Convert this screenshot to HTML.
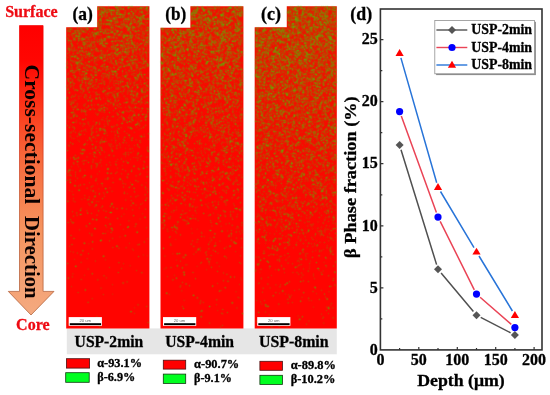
<!DOCTYPE html>
<html lang="en"><head><meta charset="utf-8"><title>Figure</title>
<style>html,body{margin:0;padding:0;background:#fff;overflow:hidden}svg{display:block}text.b{stroke:#000;stroke-width:.3px}text.r{stroke:#ee0a12;stroke-width:.3px}</style></head><body>
<svg width="550" height="395" viewBox="0 0 550 395">
<defs>
<linearGradient id="ag" x1="0" y1="0" x2="0" y2="1">
<stop offset="0" stop-color="#ff0000"/><stop offset="0.12" stop-color="#ff0602"/><stop offset="0.3" stop-color="#fc3c1c"/><stop offset="0.45" stop-color="#f7673a"/><stop offset="0.7" stop-color="#f5935e"/><stop offset="1" stop-color="#f4aa80"/>
</linearGradient>
<linearGradient id="as" x1="0" y1="0" x2="0" y2="1"><stop offset="0" stop-color="#f00000"/><stop offset="0.3" stop-color="#e01808"/><stop offset="0.6" stop-color="#c05028"/><stop offset="1" stop-color="#a85830"/></linearGradient>
<linearGradient id="h0" gradientUnits="userSpaceOnUse" x1="0" y1="6" x2="0" y2="150"><stop offset="0" stop-color="#6e8200" stop-opacity="0.07"/><stop offset="1" stop-color="#6e8200" stop-opacity="0"/></linearGradient>
<linearGradient id="h1" gradientUnits="userSpaceOnUse" x1="0" y1="6" x2="0" y2="190"><stop offset="0" stop-color="#6e8200" stop-opacity="0.09"/><stop offset="1" stop-color="#6e8200" stop-opacity="0"/></linearGradient>
<linearGradient id="h2" gradientUnits="userSpaceOnUse" x1="0" y1="6" x2="0" y2="250"><stop offset="0" stop-color="#6e8200" stop-opacity="0.13"/><stop offset="1" stop-color="#6e8200" stop-opacity="0"/></linearGradient>
<filter id="sb" filterUnits="userSpaceOnUse" x="60" y="0" width="285" height="335" color-interpolation-filters="sRGB"><feConvolveMatrix order="3" kernelMatrix="1 4 1 4 14 4 1 4 1" divisor="34" edgeMode="none" preserveAlpha="false"/></filter>
</defs>
<rect width="550" height="395" fill="#ffffff"/>
<path d="M19.5 25.6H43.1V291.4H54L31 315L8.3 291.4H19.5Z" fill="url(#ag)" stroke="url(#as)" stroke-width="0.7"/>
<text class="r" x="5.2" y="16.8" font-size="16.0" fill="#ee0a12" font-family="'Liberation Serif', 'DejaVu Serif', serif" font-weight="bold">Surface</text>
<text class="r" x="16.1" y="330.0" font-size="16.0" fill="#ee0a12" font-family="'Liberation Serif', 'DejaVu Serif', serif" font-weight="bold">Core</text>
<text transform="translate(25.1 64.6) rotate(90)" font-size="22" fill="#0a0000" textLength="139.6" lengthAdjust="spacingAndGlyphs" font-family="'Liberation Serif', 'DejaVu Serif', serif" font-weight="bold">Cross-sectional</text>
<text transform="translate(25.1 216) rotate(90)" font-size="22" fill="#0a0000" textLength="82.6" lengthAdjust="spacingAndGlyphs" font-family="'Liberation Serif', 'DejaVu Serif', serif" font-weight="bold">Direction</text>
<rect x="66.8" y="328.4" width="270" height="25.9" fill="#e6e6e6"/>
<path d="M97.2 6.3H149.4V328.4H66.2V27.2H97.2Z" fill="#ff0400"/>
<path d="M97.2 6.3H149.4V328.4H66.2V27.2H97.2Z" fill="url(#h0)"/>
<g filter="url(#sb)" stroke="#3ed000" fill="none"><path d="M136.4 7.4h1M108 7.2h.8M132.4 7.1h.6M131.2 6.7h1M115.4 7h.5M120 7.2h.8M117.6 7.4h.6M115.7 7.4h.6M102.6 7.4h.7M120.9 7.1h.5M99.8 7.2h.7M124.6 6.9h.5M108.6 6.6h.6M129 7h1M98.2 7.6h.7M105.1 7.6h.5M100.8 7.2h.8M130.3 6.9h.6M128.5 6.7h.8M124.5 6.6h.6M131.7 6.8h.8M100.9 8h.6M100.9 7.8h.8M137.3 8.6h.7M118.9 7.7h1M103.5 8.6h1M134.6 7.7h.8M133.6 7.8h.6M115.9 8h.8M101 8.5h.7M116.6 7.9h1M127.9 7.7h.6M103 7.7h.8M120.3 9.3h.7M143.8 9.2h1M105.5 9h.5M145.4 8.6h.7M106.1 9.3h.5M111.2 9.3h.8M131.5 9.5h.6M138 9h.5M137.4 9.2h.5M120.5 9h1M116.5 8.7h.5M148.1 9.5h.5M98.3 9.3h.7M103.9 9.1h1M130.3 9.3h.8M107.3 8.8h.8M121 8.8h.8M138.7 10h.6M141.6 9.8h1M107.2 10.4h.6M124.9 10.6h.5M133.8 9.7h.7M97.8 10.1h.8M125.2 10.4h.7M103.4 9.7h1M113.2 9.9h.7M147.3 9.7h.5M118.2 10.3h.5M145 10.3h.7M134.1 9.9h.6M128.5 10.1h.5M110.7 10.5h.7M116.6 10.4h1M135.9 10.3h.8M104.5 11.3h.7M146.7 11.1h.5M106.4 10.6h.7M101.7 10.6h.5M105.1 11.6h.6M135 11.3h1M113.9 11.3h.8M102.5 11.2h.6M118.6 11.1h1M109.3 11.2h1M100.2 10.7h.6M116.2 10.6h.5M108.9 11h.5M141.8 11.4h.8M109.4 11.7h.8M117 12.5h.8M124.1 12.6h.6M107.2 12.1h1M125.3 12.3h.7M116.7 12.1h1M118.6 12.1h1M116.4 12.5h1M141.5 12.2h.6M140.4 11.9h.7M139.4 11.8h.7M139.3 11.7h.6M110.9 12.3h.8M99.5 12.3h.6M141.1 12.6h.7M124.4 12.2h.5M107.7 12.3h.7M132.3 12.1h.6M105.8 12.8h1M142.4 12.7h.7M129.3 12.9h.5M101.4 13h.8M115.8 12.6h.6M135.8 12.8h.5M116.1 12.7h.6M113.1 12.8h.8M146.7 13.4h1M133.3 13h.6M138.6 13.3h.7M129.1 13h.8M148.1 13.2h1M129 13.6h.5M119.6 13.6h.6M110.6 14h1M112.8 14.6h1M132.7 13.7h.8M121 14.6h1M142.6 13.8h.8M145.9 14.5h.8M116.4 13.7h1M100.9 14.1h.8M120.1 14.2h.8M120.8 14.3h.7M118.5 14h.5M125.3 13.9h.8M116 13.7h.6M100.5 13.7h1M102.8 14.3h.7M115.7 14.2h.8M130.2 15.1h.7M144.6 15.3h.6M106 15.1h.6M130.7 15.2h.7M123.5 14.8h1M128.2 14.8h.7M107.7 15.3h.6M138.6 14.6h.6M117.7 14.7h.5M111.7 15.2h.6M106.1 15h.7M132.4 15h.5M134.9 15.4h1M101.2 14.9h.8M101.6 15h.6M104.4 14.9h.5M133.2 15.1h.8M123.6 16.1h.5M120.3 15.9h.7M141.5 16.5h1M102.4 16.4h.7M104 15.8h.7M98.1 15.8h1M135.1 16.2h.6M133 15.8h.7M111.2 16.2h.5M120 16.4h.5M114.3 15.9h.5M140.3 15.7h.5M107 16.1h.6M124.6 16.5h.5M136.4 17.4h.7M139.5 17.6h.5M109.5 17.3h.5M101.1 17h.5M122.5 16.9h.8M101.3 16.9h.8M105.2 17.3h.5M119.6 17.4h.7M141.3 17.4h.6M114.5 17.5h.5M115.2 16.8h.8M139.9 17h.6M117.8 17.5h.7M105.6 16.9h1M141.3 16.9h.8M129.5 16.7h1M99.3 16.8h.6M132.2 17h.6M131.3 17.4h1M120.5 16.8h.5M138.3 17.5h.5M131.7 17.3h.8M100.6 18.4h.6M113.4 17.8h.6M133.9 18.4h.6M136.5 17.9h1M100.7 18.5h.6M130.7 18h.5M111.1 18.1h.5M144.1 18.6h.6M148.2 18.3h.7M121.3 18.3h.5M120.2 17.6h.5M124.7 18.1h.8M112.7 18.1h.7M136.8 18.4h.5M140.4 17.8h.6M143.2 18.3h.8M128.3 18.2h.7M125.7 18.9h.8M115 18.7h.8M99.8 18.7h.8M142.3 18.7h.8M129.4 19.4h.6M106 19.5h.8M146.9 19.4h.7M109.7 18.9h1M112.2 18.8h.5M131.1 19.4h.7M124.7 18.9h1M140.2 19.1h1M116.6 19.1h.7M124.7 19.6h1M148 19.3h1M113 18.6h.6M130.2 18.7h.6M123.5 19.9h.8M146.1 19.7h.8M110.8 20.2h1M141.2 19.8h1M115.8 19.7h.7M128.7 20h.6M103.8 20h.5M116.8 20.2h.8M99.6 19.9h1M99.6 20.1h.6M105.1 20h.5M141 20.2h1M128 20.1h.8M135.1 20.5h.8M134 19.7h.8M140.8 20.1h.5M100.9 20.6h.8M126.4 21.2h.8M138.8 21.5h.7M137.7 21.6h1M123.3 21.1h.8M111.2 21.3h.6M138.6 21.6h.6M137.5 21h.7M131.2 20.7h1M113.5 21.1h1M133.2 21h.8M123.2 20.8h.7M138.4 20.8h.8M140.2 20.6h.7M119.9 21.9h.5M145.2 21.9h.7M124.8 21.7h.8M100.5 21.8h.8M131.2 22h.7M138.7 22.2h1M146.6 22.5h.6M121.2 21.9h.6M104.5 21.7h.5M115.7 21.9h.5M101.2 22.2h.7M117.6 22.5h.5M97.9 22.5h1M108.9 22.1h.5M127.2 22.1h1M130.1 21.8h1M121.3 23.1h.6M130.9 23.4h.7M115.7 22.9h1M115.4 23.3h.6M103.1 23.5h1M132.4 23.1h.8M136.7 22.6h.7M141 23.2h.5M113.8 23.3h1M123.6 23.4h.5M130.2 23.4h1M97.6 22.8h.6M123 23.4h.8M123.7 23.3h.7M147 22.7h1M109.2 23.6h.8M146.3 24.3h.5M136.3 24h1M143.1 24h.5M144 24.5h.7M127 24.2h.5M141.9 23.8h1M143 23.8h.8M130.4 23.8h.8M105.9 24h.6M104.7 23.9h1M106.6 24.2h.8M137.2 23.8h.6M100.8 23.6h.8M109.1 24.3h.5M98.6 24.5h1M126.2 24.4h.6M129.3 24.3h.6M103.3 24.5h.8M129.6 25.1h.7M101.2 25.1h.8M108.9 25.1h.6M125.9 25.3h.7M138.7 25.4h.6M124.7 25h1M108.8 25h.8M112.8 25.4h.8M120.6 24.7h.7M112.3 25h.6M144.9 25.5h.5M130.7 24.9h.6M97.9 24.9h.8M124 24.8h.8M121 24.8h.7M127.5 25.5h.5M105.7 24.9h.6M123.8 25.6h.7M139.5 26.2h.7M133.3 26.5h.7M97.9 25.9h.8M129.8 26.2h.6M110.8 26.2h1M97.7 26.5h.8M132.5 26.3h.5M122.7 26.6h.8M127.8 27.1h.7M119.5 27h.6M141.7 27.3h.6M147.7 27.4h.5M137.7 26.7h.8M99 27.3h.7M125.1 26.9h.7M136.6 26.8h.7M134.1 27.2h1M119 26.7h.8M132.1 26.7h.7M117.3 26.9h.8M146.4 27.1h.6M118.2 27h.7M138 26.8h.5M126.4 27.6h.7M140.6 28.4h.7M132 28.4h.8M84.8 28.3h.7M129.1 28.6h.8M121.7 27.8h.8M132 27.7h.7M134.9 28.2h.6M138.6 28h.7M112.9 27.9h1M82.9 28.2h.8M121.4 27.6h.7M106.1 28.6h.7M147.8 28h.6M100.5 28.4h.5M112.1 27.8h.8M120.1 28.2h1M148 28h.6M121.9 28.9h.5M128.4 28.9h.5M104.5 29.5h1M145.3 28.6h.5M88.1 28.8h1M99.2 29.4h.8M143.4 29.1h.5M87 29.5h.8M67.3 28.7h.5M98.3 29h.7M132.9 29h.7M95.5 28.9h.8M115.2 28.9h.7M127.3 28.8h.6M111.3 29.3h.6M95 28.8h.6M95.2 29h.7M99.3 28.7h.5M92.9 29.1h.5M68.2 28.8h.6M128.4 28.7h.5M101.7 29.6h.7M107.4 29.4h.6M72.2 30h.7M138.7 30.4h.7M147.2 29.7h1M141 29.7h.8M116.8 30.5h1M107.8 30.2h.8M76.5 30.3h.5M102.2 30.1h.8M107.5 30h.8M113.2 30.1h1M109.9 30.1h.5M115.1 30.2h.7M78.9 30.1h.7M126.9 29.9h.7M147.4 30h.8M128.2 30.5h.6M85.7 30.4h.5M134.5 30.4h.6M87 29.9h1M137.8 30.3h.6M108.9 29.9h.7M110.5 30.5h.6M145.3 30.8h.7M112.1 31.4h.5M138.2 30.7h.8M136.4 31.4h.8M145.9 30.7h1M133.1 30.8h.6M69.5 30.9h.7M134.9 30.7h.6M116.9 30.6h.6M104.5 31.1h1M147.6 30.8h.5M138.3 31.3h.7M112.4 31.6h.6M67.8 30.9h.8M135.7 31.5h.7M83.5 30.8h1M80.6 31.2h.6M77.1 30.7h.5M116.5 31h.7M67.2 30.7h.6M126.9 31h.6M129.5 30.8h.7M118.3 31h.5M89.3 31.7h.8M143.8 31.9h.5M85.7 32.2h.8M76.6 32.5h.7M122.1 32.1h.5M98.2 32.3h.8M84.5 32.2h1M100.8 31.9h.7M120.4 31.9h.8M121.7 31.8h.5M97.2 32.2h.8M98.3 31.9h.7M133.9 32.5h.5M75 32.3h1M139.8 31.7h.8M67.8 31.6h.7M121.1 31.9h1M121.3 31.8h.5M96.2 32.1h.5M105.8 32.3h.7M146.2 32.6h.5M101.9 31.8h.8M148.4 32.7h.5M120.2 33.4h.8M109 33.2h.6M96.8 32.7h.8M74.3 33.4h.8M80.2 33.2h.5M130.7 33.5h1M130 32.7h.8M79.2 33h.8M143.9 33.5h.7M75.4 33h.5M110 32.7h1M91.3 33.1h.5M72.1 32.8h.5M108.3 32.9h.5M130.2 32.8h.7M104.6 33.6h.8M103.4 33.2h1M77.8 33.5h.8M79.1 33.6h1M80.7 33.2h1M100.4 32.6h.5M126.8 34.3h.5M90.6 34.2h.6M75.5 33.9h.8M119 34.4h1M98.5 33.9h.5M87.9 33.7h.6M93.4 34.1h.8M143.7 34.2h1M142.1 33.7h1M88.4 34.2h.7M96.7 34h.6M98 34.2h.8M103.4 33.6h.7M71.5 34.1h1M92.8 34.4h1M125 33.6h.5M106.1 33.8h.7M106.3 33.6h1M115 33.7h.8M95.6 33.8h1M123.1 34.4h1M116.5 34.2h.6M76.1 35.4h.8M70.8 34.7h.7M114.8 35.4h.7M119.4 35h.8M90 35.3h.5M99.1 34.8h.5M93.4 34.9h.7M131.1 35.2h.6M148.6 35.1h.5M117.6 35.2h.8M118.8 34.6h.7M114 34.6h.6M100.7 35.3h.8M80.7 34.7h.5M97.5 35h.6M132 35h.8M135.1 35.6h.5M121.1 35.1h.7M124.2 35h.5M75.8 35.5h1M100.6 35.1h.5M79.2 34.9h.5M142.6 35.8h.8M106.9 36.3h.8M108.3 36.1h.8M127.1 35.8h1M92.9 35.6h1M119.9 36h.6M122.3 36.1h1M135.2 36h1M78.6 36.3h1M93.3 36.3h.8M118.4 36h.6M113.5 35.9h.8M132.4 35.9h.5M125.3 36h.6M71.8 35.8h1M140.9 36.1h.8M76.1 35.8h.8M74.8 35.9h1M69.4 36.3h.6M79.5 36.1h1M78.9 36.6h.8M132.5 35.7h.7M147.4 37.5h.6M94.6 36.8h1M114.3 37.5h.6M123 37h.7M116.3 37.4h.7M75.5 37h.7M110.6 36.9h.6M90 37.2h.7M106.2 36.9h.7M131.5 37.5h.7M138.2 36.8h.6M136.2 37.2h1M131.8 36.8h1M129.8 36.9h1M101.6 37.4h.5M85.5 37.1h1M94.8 36.8h.7M88.6 37.3h1M72.7 37.1h.6M143.2 37.3h1M91.3 36.6h.5M82.5 38h.5M137.9 37.7h.7M78.1 38h.5M147.1 38.3h.6M110.8 38h1M73.6 38.3h.6M107.2 37.8h1M100.8 38.1h.5M123.4 37.6h.5M73.8 38.5h1M94 38.3h.7M146.5 38.5h.6M136.9 38.5h.6M116.5 38.4h.5M116.5 38.2h1M73.6 38.1h.6M75.5 37.9h.5M144.9 37.6h.7M78.7 37.8h.5M108.9 38.2h1M66.6 37.7h.5M134.7 39h.8M84.5 39h.7M88 39.2h.6M125.5 39.1h1M103.8 38.8h.7M80.9 38.7h.8M103.5 38.8h.7M81.6 39.3h.7M87.7 39.1h1M113.5 38.6h.7M85.5 38.9h.7M127.1 38.8h.7M131.4 39.1h.5M122.7 39.1h.5M84.3 39h.8M96.9 39h.6M147.8 39h.5M100.9 39.3h.6M94.2 39.4h.6M140.7 39.2h.8M105.6 39.4h.5M69.2 40.6h.8M141.3 39.7h.8M79.6 40.1h.6M142.9 39.9h.6M78.1 40.3h.6M82.3 39.7h.5M138.9 40.3h.6M96.5 40.3h.8M78.5 40.5h.7M126 40.3h.6M91.7 39.8h.5M89 40.1h.5M102.6 40.4h1M144.1 39.7h.7M67.9 40.5h.6M81.7 40.6h1M75.1 40.1h1M104 40.2h1M104.5 39.8h.8M146.5 39.6h.8M99.2 39.7h1M99.4 41.4h.6M68.5 41h.5M116.6 40.7h.8M81.5 40.6h.5M146.1 40.9h.7M112.4 41.3h1M117.6 40.9h.7M78.3 41.2h.7M100.5 41.1h1M87.5 41.5h.8M85.6 41.5h.8M104.9 41.2h.6M129.2 41.5h.7M85.8 41.2h.7M124.1 40.9h.6M118.5 40.6h.5M112.3 41.1h.8M119.6 41.3h1M99.3 41.1h.8M104.2 40.7h1M118.8 40.7h.8M89.5 42h.5M89.5 41.7h.5M134.2 42.4h1M82.5 42.2h.7M101.5 42.2h.5M106.7 42.1h.5M92.4 42.3h.7M94.4 41.8h1M123 42h.6M146.7 42.5h.7M131.9 42.3h.6M132.1 41.8h.7M91.3 41.8h.8M145 42.3h.5M131.3 42.2h.8M142.8 42.2h.8M146.7 41.8h.5M146.9 42.5h.7M87.3 42.2h.7M147.2 42.2h.7M127.9 42.3h.6M129.4 43.4h.8M113.2 43.5h.5M84.9 43.3h.8M68.4 42.8h.5M85.4 43.2h.6M123.5 43.1h.5M104.7 43.3h.7M119.7 43.3h.5M93.6 43.5h.5M90.4 43.6h.5M91.2 43.1h1M93.9 42.9h.5M147.4 42.7h1M137.3 43.1h.5M128.4 43.1h.8M82.8 43.2h.7M102.1 43h.6M70.8 43h.7M136.7 43.5h1M100.3 43h1M141.5 43.7h.8M101.9 44.3h.8M132.5 44.5h1M140.1 43.9h1M100.7 43.6h1M82 44.4h.5M117 43.8h.5M131 44.2h.7M88.5 44.4h.7M124.5 44.1h.5M146.3 44.6h.8M144.8 44.5h.6M111.7 43.6h.5M123.3 44h.8M148.1 44.1h.6M99.5 44.2h.6M99.9 43.7h1M77 43.7h1M99.4 44h.8M126.2 44.2h.8M136.4 45.1h.6M137.8 45.5h1M94.1 44.6h.5M113.6 45.3h1M87.6 45.4h.6M103.2 45h.7M83.2 45h.8M117.7 45h.6M117.4 44.7h.7M117.7 45.2h.8M121.9 45.1h.8M139 44.7h.8M90.8 45.3h.6M120 45.3h1M83.9 44.9h.8M129.4 45.1h1M112.6 45h.7M94.7 45h.8M116.9 44.8h.5M91 45.6h.8M71.4 46.2h.8M135.2 46h.6M146.3 46.3h1M127.7 46.2h.7M87.5 46.3h.7M111 46.6h.8M128.2 46.2h.6M144 45.9h1M94.5 46.6h1M80.2 46.2h.7M120.8 45.9h.8M121.8 45.7h.8M104.3 46.1h.5M113.1 46.6h.8M101.9 45.7h.7M91.2 46.3h.5M134.3 46h.7M78.5 46.2h.7M68.5 46h1M131.1 47.2h.6M86.9 46.8h1M141.3 47.2h.5M127.2 46.9h.5M71.2 47.2h.8M136.9 46.8h.7M123.8 46.9h.7M135.9 47.3h.6M102.8 47.4h.5M89.5 47.1h1M84.8 46.8h.7M92.6 47.2h1M131 47.5h.7M134.4 47.5h.6M105.3 47.2h.6M84.2 47.5h.7M105.8 46.7h.6M125.3 46.6h.8M129.4 47.3h.5M74.3 47.6h.5M128.9 48.1h.7M136.9 47.7h1M100.8 48.5h.5M80.9 47.9h1M123.5 47.9h.6M130.3 47.8h.8M95.7 48h.5M142.3 47.9h.6M67.8 47.9h.5M80.6 47.8h1M135.9 48.1h.6M82 48.1h1M131.7 48h1M86.4 48.4h1M107.8 48.1h.7M113.4 48.6h1M89.9 47.9h.6M69.1 48.4h.8M109.2 49h.7M122.3 49.3h1M73.9 49.1h.8M138.7 49.6h.6M72.6 48.8h.6M111 49.1h.7M69.7 48.9h.7M147.6 48.7h.7M67.6 48.7h.5M125 49.4h.8M112.5 49.5h.8M114.9 49.1h.8M114.3 48.8h.5M127.4 48.8h.8M84.2 49h.8M132.8 49.6h1M68 48.8h1M116 48.8h.6M93.8 49.6h.7M146.7 49.8h.5M133.3 50.3h.6M71.2 49.6h.6M131.4 50.2h.6M139.2 50.2h.6M132.4 50.5h.7M92.7 49.7h.6M143.3 49.6h.5M91.3 50.5h1M98.3 50.2h.7M107 50.6h.8M115 49.9h.6M121.8 49.7h.6M123.5 50h.6M146.9 50.3h.5M143 49.9h.8M71.3 50.1h.5M76.5 49.9h.8M68.8 50.6h.5M98.4 51.5h.7M81.2 51.1h1M120.3 51.2h.8M103.3 51.1h.6M72.9 51.5h.5M77.2 51h.5M135.7 51.2h.6M128.9 51.3h.6M95.3 50.7h.5M79.8 50.6h.7M86.3 51.2h.5M73.6 50.6h.6M115.8 51.5h.7M115.2 50.8h.5M82.2 50.7h.6M72.5 51.1h.6M80.3 51.1h.5M100 51h.8M74.4 50.6h1M68.8 52.4h1M101.2 52.4h.5M90.2 51.9h.8M79.7 52.4h.6M142.2 51.7h.7M88.2 51.9h.5M128 52.4h.6M118 52.5h.6M129.2 51.7h.7M127.3 52.5h.5M114.9 52.3h.7M139.8 52.2h1M148.3 52.4h.7M145.2 51.7h.7M107.1 51.7h.8M102.2 52.2h.5M93 52.2h.6M88.5 52.3h.6M88.1 52h.5M111 52.9h.6M112 52.9h.8M76 53.3h.5M119 53.1h.7M118.5 52.7h1M132.2 52.8h.6M136.6 53.5h.8M88.4 53.2h.8M92.1 53.3h.6M110.5 53.2h.8M76.8 53.2h.6M101.1 53.4h.5M126.1 53.2h1M145.8 52.7h.7M143.1 52.7h.5M122.5 53.1h.7M143.6 52.7h.7M105.6 52.7h.5M79.7 53.9h.5M116 54.4h.5M141.7 54h.7M138.9 54.2h.7M86.1 53.7h1M146.1 53.9h1M118.3 54.1h.7M102.7 54.5h.5M115.7 54.1h.8M88.2 54.1h1M116.2 54.3h.7M72.5 54.2h.7M132.3 54h.8M142.5 54.3h.8M73.1 53.7h.7M110.1 54.6h.8M102.9 54.2h.6M115.9 54.4h.5M92 55h.7M126.2 54.6h.6M106.1 54.7h.6M75.8 55.5h.6M113 54.8h.5M103 55.2h.7M89.6 54.6h.5M101.3 54.7h.6M69.5 55.3h1M99.4 55.5h.8M134.4 55.5h.6M105.1 54.9h.6M83.6 55.2h.8M100.9 54.8h.5M117.1 54.9h.8M140.4 55.4h.8M133.5 54.8h.5M108.5 55.1h1M111.8 55.9h.6M115.3 55.9h.6M94.1 56h.6M104.5 55.7h.6M85.5 55.8h.5M107.1 56.2h.8M82.8 55.7h.7M146.4 56.2h.6M73.9 56.1h.6M116.5 56.4h1M131.2 56.4h1M99.8 56.2h.8M141.1 56.4h.7M119.6 56h.5M112.4 55.9h.7M135.7 56h.6M87.1 55.9h.5M146.1 55.8h.5M97.4 56.7h1M146.9 57.1h.6M110.4 57.4h.5M85 57.5h.8M123.8 57.5h.7M142.9 57.4h.7M126.2 56.6h.7M132 56.9h1M67.5 57h.6M131.5 57.2h.5M86.4 57.1h.5M92.6 56.6h.8M102.4 56.9h.8M96 57.5h.6M76.6 56.9h1M81 57.3h.5M74.1 57h1M113.8 58.5h.7M128.7 58.2h.5M77.4 57.9h.8M79.5 58.1h.5M132.4 58.3h.8M113 58.4h1M74.1 57.7h.8M137.2 58.6h.5M75.8 57.7h.7M112.8 57.9h.6M93.6 58.4h1M66.6 58.1h.8M140.8 57.8h.5M88.4 58.4h.7M128.4 57.8h1M109.1 57.8h.7M69.9 57.7h.8M77.7 58.8h1M110.5 59.1h1M135 59h.6M105.5 59.3h.6M81.1 59.4h.8M143.2 58.8h.8M96.5 59h.5M141.2 59.1h.5M141 58.7h.6M119.6 59.3h.7M102.3 59.1h.7M130.1 59.4h.8M122.4 59.3h1M146.1 59.3h.7M70.2 59h.6M142.6 59.2h.7M121.2 58.8h.8M92.5 60h.5M130.8 59.7h.7M97.6 59.8h1M94.5 60h.5M81.8 60.4h.6M82.9 60h.5M129.4 60.3h.8M70.1 60.1h.7M105.2 60.4h.5M143 59.7h.7M115.7 60.6h.7M80.6 60.6h.5M142.7 59.8h.6M91.3 60h.8M122 59.8h1M137.3 60.1h.8M90.8 60.5h.5M143.6 61.2h.8M72.3 60.8h.8M94.3 60.8h1M130.1 60.9h.5M111.2 61h.7M110.4 61h1M121.7 60.9h.8M131.6 60.7h.8M70.7 60.9h1M79.4 60.8h.7M115.2 61.3h.8M96.1 61h.5M79.8 61h1M130.7 61.2h.8M74.4 61h.8M107.7 61.4h.7M121.8 62.1h.6M139.7 62.4h1M133.3 62.5h1M134.9 62.4h.5M115.3 62.5h1M115.7 61.7h.5M144.4 61.8h.5M88.5 62.5h1M75.7 62.2h.8M67.1 61.8h.8M138.4 62.4h.8M145.2 62h.7M126.3 61.7h.8M72.8 62h1M94.2 61.7h.6M143 61.7h.8M111.8 63.1h.7M93.8 63h.6M109.4 62.7h.8M143.5 63.5h.7M85.1 62.8h1M141.2 63.1h.8M120.3 62.9h.7M77.1 63.5h.5M120.6 62.7h.5M131.1 63.5h.5M111.4 63h.7M146.1 63.3h.7M77 63h.8M128.8 63.6h1M120.5 62.9h1M78.5 63.6h.6M127.5 63.7h.6M142.5 64.4h.5M112.9 63.7h.7M70.1 63.7h.5M70.4 64.2h.8M136.4 63.8h.8M123.3 64h.7M129 64h.5M104.3 63.8h.8M102.7 64.4h.8M79.3 64.6h.5M135 63.7h.6M133.6 64.2h.8M122 63.6h.6M80.7 63.9h1M95.6 63.9h.6M136.2 65.1h.5M121.3 65.2h.5M145.3 65.4h.5M104.1 64.6h.8M115.6 64.8h1M96.4 64.7h1M117.7 65.6h.7M82.7 64.6h1M147.4 65.1h1M124.5 65.2h.8M71.5 65.2h.7M89 65.3h.7M113.8 65.3h.5M74 65.1h.5M132.2 64.9h.7M113.8 64.9h.6M91.1 66.5h1M94.3 66.5h.7M88.2 66.1h1M100 66.5h.5M77.4 65.9h1M71 65.7h.8M135.5 66.6h.5M79.4 66.2h1M102.3 66.1h1M145.7 66.1h.8M71.4 66h.7M126.8 65.6h.5M84.4 65.9h.5M101.4 66.4h1M147.4 66.5h1M140.4 66h.7M106.1 67.1h.5M84.8 67.3h.6M66.6 67.4h1M135.9 67.4h.5M136.6 67.1h.8M123.8 66.6h.8M66.8 67.1h1M93.4 66.8h.5M93.4 67.4h.8M76.8 67.1h1M137.2 67.3h.7M95.1 67.4h.7M83.3 67.5h.7M145.6 67.4h.5M106.3 67.1h1M93.8 68h1M88.7 67.7h.7M78.6 67.6h.5M114 68h.8M144.1 67.9h1M110.2 67.7h.6M95.7 68.2h.5M70.6 68.3h1M92.9 68.5h.6M86.6 67.8h.6M141.4 68.5h.8M106.7 68.4h1M72 67.9h.6M66.7 68.5h.5M137.7 67.6h.5M117 69.3h.6M96 68.9h.5M102.7 69.4h.6M102.6 68.7h.7M98.6 69.4h1M111.2 69h.5M125.1 69.5h.6M84.8 68.8h.8M136 68.8h.8M108.3 68.9h.5M109.9 68.7h.5M138.6 69h.8M80.4 69.3h.6M83.5 68.6h1M94.9 70.4h.5M100.6 70.6h.8M77.7 69.7h.5M87.4 70.5h1M77.7 69.9h1M99.3 70.1h.6M122.4 70.4h.6M139 69.8h.8M134.3 70.4h.8M92.5 69.8h.6M129 70.1h.8M90.2 70h.6M128.5 70.5h.7M91.3 70.2h.7M107.8 69.7h1M96.6 71.6h.5M105.8 70.8h.8M136.6 71.1h.5M131.6 71.5h.8M113.3 71h.5M122.2 71.3h.6M76.3 70.7h.6M75.4 70.7h.8M116.6 71.5h.5M122 71.4h1M114.2 71.2h1M70.4 70.8h1M74.3 71.3h.8M115 70.9h.6M94.6 72.4h1M83.4 71.8h1M100.3 71.7h.5M79.1 71.6h.8M94.5 71.8h1M141.3 72.3h.6M126.1 72.2h.7M128.7 71.9h.7M139.6 71.9h.6M114 71.9h1M92 71.7h.5M114.3 71.8h.5M74.7 72.4h.5M139.9 72.1h.6M96.3 72.5h.6M116 73.5h.6M85.4 73.2h1M97.6 73.2h.5M147.7 73h.6M125.6 72.8h.6M86.4 72.7h.5M135.9 73.1h.6M139.2 73.4h1M122.2 73.2h.5M115.1 72.9h1M102.4 73.5h1M68.2 73h.7M105 73.6h.8M73.5 72.8h1M67.1 74.3h.6M109.4 73.8h.6M131.4 74.4h1M116.6 73.9h.8M109.4 74.1h.8M126.6 74.2h.7M117 74.1h.7M90.2 74h.6M106.8 74.5h.8M81.6 74.6h1M106.9 74.6h1M79.3 74h1M67.9 74.2h.5M85.3 74.4h1M115.9 75.2h.8M96 75.4h1M73.9 75.3h.7M101.6 75.6h.5M127.4 75h.8M95.7 74.8h1M81 75.3h.6M112.9 74.8h.6M73.8 75.5h.7M111.6 74.8h.5M72.8 75.4h.8M136.6 75h.6M137.7 74.7h.7M133.4 75.6h.8M115.4 75.9h1M122.2 75.9h1M137.3 75.6h1M106.5 75.9h.6M102.8 75.8h.6M101.1 76.2h.6M104.7 76.2h.7M85.9 76.6h.6M124.2 76h1M124.8 76h.8M116.3 76.2h.7M137.7 76h.8M78.3 77.5h1M112.4 77.5h.8M74.1 77.6h.6M109.7 77.5h.5M145.9 77.4h.7M75.1 77.1h.8M93.3 77.3h.6M92.3 77.1h.8M119.4 77.5h1M75.2 76.6h1M86.1 77h1M125.5 77h.8M106 76.8h.8M88.9 78.2h.8M116.9 77.7h.5M107.9 78.3h.7M67.4 78.5h.6M128 78.6h.7M86.3 78.1h.7M108.3 77.8h.6M127.5 78.6h.5M75.5 77.6h.5M82.6 77.9h.5M102.9 77.7h1M117.3 78h1M82.7 78.4h1M86.8 79.4h1M137 78.7h.5M81.6 79.2h.6M67.1 79h.7M87.7 78.6h.8M88.1 79h.8M122.8 78.9h.7M134.8 79.4h1M129.9 78.6h.6M91 79.4h.8M126.4 78.9h.8M67.9 78.9h.8M101.7 79.3h1M111.6 79.7h.7M116 80.4h.8M144.1 80.1h.8M79.3 80.2h.7M99 80.4h.5M77.7 80.2h.5M96.6 79.6h.7M120.7 79.6h.8M72 79.8h.8M129.1 79.8h1M67.9 80.2h1M109.6 79.8h.6M129.7 79.9h.5M104.2 81.2h.8M113.7 81.1h1M135.4 81.1h.8M147.3 81.4h.6M109.6 81.2h1M120.8 80.8h.5M78.8 81h1M101.7 80.8h.7M140.4 80.6h.7M92.6 80.9h.6M72 81.2h.8M129.5 81.4h.5M103.2 82h.8M92.2 82.4h.7M85.5 82.4h.8M96.3 81.6h.8M119.9 82.1h.7M72.7 82.6h.6M131.5 81.9h.5M120.2 81.8h.5M94.9 82.2h.7M133.7 82.4h1M140.4 82.5h.6M84.9 81.9h.8M103.6 83.4h.6M115.6 83.3h1M100.8 83.5h1M113.2 83.5h.5M109.3 83.3h.6M115.7 83.6h.5M70.3 83.5h.8M85.3 83.5h.8M117.8 83.5h1M88.3 83.2h1M104.7 83h.6M100.7 83.3h1M68.7 84.1h.8M133.6 83.7h.8M120.4 83.9h.7M127.4 84.3h.7M144.6 84.3h.6M73.8 83.7h.6M98.1 84h.7M91.3 83.8h.7M99.3 83.7h.6M88.1 83.8h.7M138.6 84.3h.6M141.3 84.5h.7M103.9 84.6h1M93.3 85.2h1M146.1 85.1h.5M67.3 85.3h.8M118.4 84.7h.5M85.8 85.2h.7M113.7 85.3h.8M88.8 84.9h.6M95 84.8h.7M127 85.3h1M134.1 85.2h.5M133.8 85.3h.8M70.6 85.8h1M85.6 86h.7M97.1 86.3h.5M121.7 86.5h.6M73 85.7h.8M79.6 86h.8M107.8 86.1h1M89.6 86.3h.7M98.5 86.4h.5M120.2 86.1h.5M124.8 86.1h.6M148.4 87.1h.7M115.7 87.1h.7M143.5 87.1h.6M69.9 86.9h1M131.9 87h.5M89.9 87.4h.7M127.8 86.9h1M66.7 86.7h.8M98.2 87.4h.5M111.1 87.5h.7M132 87.5h1M117.7 87.7h1M103.3 88.3h.7M106.5 87.8h.8M124.3 88.3h.5M80.1 88.1h1M93.5 88.1h1M145.5 88h1M128.3 88.1h.8M80.3 88.5h.8M137.1 88.1h.6M73 88.3h.8M130.5 88.9h1M100.3 88.8h.5M141.3 89.1h.6M135.8 89.3h.5M119.8 88.8h.8M81.4 89.1h.5M83.7 89.1h.8M81.7 88.8h.8M140.7 88.7h.5M87.1 89.6h.6M142.4 88.7h.8M104.5 90.3h1M144.9 89.9h.7M127.9 90.2h.5M81.6 89.9h.5M132 90.2h.5M147.6 90.3h.5M75.6 89.6h1M76.6 90.3h.8M87.6 90.4h.6M123.9 89.8h.8M67.3 89.8h.8M127.2 91h.5M129 90.9h.6M104 90.7h.5M140.9 91.2h.7M113.7 91.3h.5M134.4 91.4h1M104.7 90.6h1M103 91.2h.8M114.6 91.5h.7M102.4 91.1h.7M129.7 90.9h.7M143.4 92.1h1M80.3 92.3h.6M144.8 92.5h.8M141.5 91.9h.7M92.8 91.7h.5M131 91.7h.6M144.9 91.6h.7M133.9 91.8h.8M96 92h.5M68.8 92.2h.6M110.6 92.6h1M109.3 92.9h.8M112.1 93.2h.6M96.5 93.2h.7M82.3 93h.7M127.6 92.8h.7M107.8 93h1M116.4 93.4h1M131.4 93h.7M95.3 92.7h.7M141.8 93.3h.6M132.3 94.1h1M97.2 94.6h.7M75.6 94.5h.6M113.7 94h.7M97.6 94.4h.7M135.8 94.5h.8M105.3 94.2h.7M144.5 94.6h.5M122.2 93.7h.5M126.9 94.1h.5M95.6 94.9h1M108.1 95.4h.5M112.8 94.8h.8M114.5 95h.6M90.1 95.6h.8M99.3 94.7h.5M75 95.5h.5M85.9 95.2h.6M99.2 94.9h.6M112.3 95.5h.6M133.5 95.7h.8M117.8 95.7h.8M117.2 95.8h1M78.3 96.3h.8M72.2 95.7h.7M123.7 96.2h1M114.2 95.9h.8M106 96.2h.5M80.7 95.9h.6M74.3 96.5h.5M144.2 97.2h.8M145.3 96.8h.6M141.7 96.9h.6M113.6 96.6h.6M86.1 96.6h.6M137.7 97.4h.6M131.3 97.3h.6M116.8 97.2h1M143.5 97h1M73.4 96.7h.8M119.6 97.7h.5M78.5 98.6h.7M114.5 98h1M96 97.9h.8M135.2 98.1h.5M103.3 98.1h.5M126.6 98.1h.6M107.5 98.4h.6M141.4 97.9h.7M95.4 98.3h.5M133.2 99h.6M125.3 98.9h.7M131.7 98.6h.8M140.7 99.3h1M127.1 99.3h.8M132.7 99.5h1M110.2 99.5h.8M85.9 98.7h.7M91.9 99.3h1M66.7 98.8h.8M107.2 100.3h.8M75.6 100.3h.7M74 100.2h.7M134.1 99.8h1M87.9 100.3h1M87.8 100.5h.8M132.4 100.6h.8M147.5 99.6h.5M133.5 100.5h.8M140 100.8h.8M114.6 101.5h.6M72 100.7h.5M116.9 101.4h.6M107.7 100.9h.7M131.4 101.6h.6M135.7 100.9h.5M144.8 101.3h.7M91.1 101.6h.7M87.7 101.2h.7M71.4 102h.6M133.1 101.7h.8M69.2 101.9h1M110.4 102.4h.5M127.9 102.1h.5M126.6 101.9h1M140.9 102.1h.8M73.2 102.2h1M111.2 102.6h.6M112.7 103.3h.6M115.7 102.7h.5M125.8 102.7h.7M71.5 102.8h.5M113.6 103.2h.7M119.5 103.6h.5M141.5 102.7h1M123.6 102.8h1M136.1 103.4h1M85.3 103.8h.6M144.7 103.6h1M119.4 104h.7M76.8 103.9h1M105.1 103.7h1M148.1 104h.5M110 103.7h.5M140.2 104.1h.7M120 104.5h.8M107.7 104.8h.7M69.9 104.6h.7M100.9 105.4h.7M116.9 104.8h.8M114.2 104.9h.6M103.1 104.9h.8M83.7 104.7h.8M94.3 104.8h.5M97.8 104.8h1M128.8 105.8h.6M77.4 105.8h.5M112.9 106h.7M134.9 106.5h.6M71.1 106.5h.5M101.6 105.6h.6M116.6 105.6h.7M83.7 105.9h1M75.7 107h.7M128 106.7h.6M125.1 107.3h.6M72 107.6h.7M118.4 106.8h1M99.7 106.7h.5M137.2 107.6h.7M86.3 107.6h1M73.9 107.5h1M120.7 107.6h.7M92.3 108.3h.7M106.4 108.1h.8M98.9 108.5h.5M141.8 108.3h.6M131.1 108.2h.5M133.4 108.1h.8M146.4 108.4h.5M99.9 109.6h.5M76.8 109h1M94 109.4h1M147.6 108.9h.8M73 109.5h1M147.7 109h1M138.6 108.7h1M107.2 109h.7M98.1 109.9h1M130.6 110.5h.7M147.6 109.7h.5M84.3 109.6h.7M130.4 110.3h.7M113.4 110.6h.7M76.4 110h.5M104.4 110.6h.8M82.4 111h.8M119.2 111.3h.7M147.4 111.5h1M126.6 111.3h.7M125.9 110.7h.5M141.5 110.7h.5M86.5 110.7h.5M83.3 111h1M101.8 111.8h.6M73 111.9h.5M81.1 111.8h.8M140.7 111.7h.7M104 112.4h.6M73.4 112.3h.7M128.5 111.7h1M70.8 112.5h1M95.6 113.2h.6M85.4 112.8h.5M116.5 113.1h.8M98.4 113.6h.5M134.5 113.2h.7M147.2 112.7h.6M122.9 113.1h1M137.9 114.4h1M117 113.7h.7M143.6 114.2h.8M139.3 114.6h.7M85.5 114.2h.5M118.1 114.5h.7M73 114.1h.5M96.8 114.5h.6M142 114.7h.6M85.9 115h.7M68.9 115h.5M97.1 114.9h1M133.3 114.7h1M117.4 115h1M135.4 115.5h.7M73.7 115.7h.7M107.1 116.6h1M121.1 116.3h1M129.3 115.6h.6M132.2 116.4h1M76.4 115.9h.8M72.9 116.1h.8M144.5 117.6h.5M111.8 116.6h.6M67.8 116.7h.6M145.4 117.5h.8M73.1 117.2h.7M140.2 117.6h.7M130.7 117.3h1M128.2 117.6h.8M68.6 118h.5M106 118.5h.7M129.2 118.6h.6M102.8 117.7h.5M136.1 117.6h.5M118.9 117.8h.7M131.8 118.2h.6M131.9 119.5h.5M131.2 119.3h1M138.1 119.1h.5M123.9 118.7h1M79.4 118.6h.7M82 119.5h.6M125.9 120.6h.6M117.5 119.8h.7M107.1 120.2h.6M76.4 120.3h.5M101.5 119.7h1M132 120.5h.8M140.9 120.6h1M68.1 121.3h.5M92.9 121.2h.5M140.1 121.2h.8M106.9 121.4h.8M104.4 120.7h.5M133.5 120.6h.5M75.8 122.2h.8M137 121.8h.5M95.7 122.4h1M74.3 122.2h.5M87.7 122.1h.8M99.4 122.1h.7M122.4 121.8h.5M82.9 123.5h.7M138.3 123.6h1M79.6 123h.7M107.4 123.2h1M137 122.8h.6M122 123.4h1M131 122.6h.6M87.9 123.9h.8M136.9 124.1h.6M103.8 124.1h.6M99.2 124.1h.8M99.3 123.9h.8M80.1 123.8h.5M139.1 125.4h1M107.7 124.9h.8M70.5 125.1h.5M135.1 124.7h.7M145.2 125.3h1M95.1 124.7h1M82.6 126h.8M66.9 125.6h1M111.1 126.6h1M89.7 126.1h.5M113.4 126.2h1M104.3 126.4h1M127.7 127.2h1M120.8 127.6h.7M72.6 127.1h.7M136.7 127.4h.5M143 127.3h1M72.7 126.9h.6M111.9 127.6h.7M92.1 128.2h1M140.8 128.4h.7M129.8 128.5h.6M96 128.3h.8M100.3 128.6h.8M118 128.5h1M102.8 128.7h.8M74.3 129.1h.5M100.7 128.7h.7M90.8 128.9h1M103.7 129.4h.7M119 129.2h.7M99 130.4h.8M83.5 130.4h.5M138.8 129.7h.5M84.8 129.7h1M102.3 129.9h1M116.4 130.1h.5M81 131.1h1M124.2 131.4h.8M91.2 130.9h.8M73.2 131.1h.8M85.8 131.6h.5M111.4 131.6h.7M79.1 131.9h.6M96.1 131.9h1M133.9 132.3h.6M113.9 131.8h.7M75.2 132.3h.7M71 131.8h.5M118.5 133.4h.8M106.5 133h.6M69.6 132.9h.6M126.6 133.4h.7M91.5 133.1h.6M70.6 132.9h.8M78.3 133.7h1M84 134.5h.5M97.9 134.4h.5M80.7 134.3h.8M91.2 134.1h1M148.1 133.7h1M114.8 135.1h1M143.8 134.6h.5M97.1 135.5h.7M91.1 135h.8M98.2 135.3h1M107.2 135.5h.5M76.9 136.3h.8M96.1 136h.5M139.7 135.8h.5M69.6 136.1h1M144.1 136.5h.7M102.1 137.4h.5M93.6 137.1h.7M140.7 136.9h.7M129.3 137.6h.5M93 137h.7M142.6 137.2h.5M114.5 138h.8M92.1 137.6h.6M71.3 138h.5M95.5 138.5h.5M73.7 138.5h.6M131.2 138.9h.7M122.9 139.2h.8M105.4 138.9h.6M118.8 138.9h.5M147.9 139.3h.7M124 140.5h1M77.8 140.3h.5M111.6 140.1h.6M87.2 140.4h.8M115.4 140.3h.8M135.7 139.9h.8M91.1 140.9h1M79.4 141.6h.5M115.7 140.9h.5M106 141.4h.7M101.8 141.5h.7M102.1 142.5h.7M122.7 142.4h1M103.9 141.9h.8M139.8 142.4h.8M96.4 141.6h.7M115.2 142.9h.5M119.2 143.4h.7M125.8 142.9h.7M69.9 142.7h1M122.9 142.9h.6M108.5 143.7h.7M110.6 144.2h1M87.5 144.2h.5M84.9 143.7h1M137 144.5h1M119.6 145.1h.8M116.5 145.4h1M108.9 145.3h.8M68.2 145.3h.7M134.1 145.3h.6M128.8 145.7h.5M99.6 146.5h.5M112.7 146.3h.6M68.9 146.1h.8M110.4 146.6h.7M147.2 147.3h.8M138.9 147.3h1M116.2 147.1h.5M119.9 147.4h.6M125.3 148.3h.5M132 148.5h.5M100 147.8h.7M95 148.4h1M92.4 148.6h.7M111.2 149h.8M80.1 148.7h.5M116.4 148.7h1M146.9 149.3h.6M92.2 148.8h.6M84.4 149.8h.8M97.7 150.2h1M111.8 150.4h.8M101.7 150.4h1M101.2 149.9h.7M84 150.6h1M147 150.7h.8M133.1 151.1h.5M95.9 150.8h.5M127.8 152.3h.7M125.2 152.6h1M104 152h.7M130.5 152.6h1M83.1 152.9h.7M89.6 153.5h.8M95 153.3h1M80.1 153.1h.8M125.3 154.3h1M99.8 154.5h.8M137.5 154h.6M123.3 154.1h1M93.3 154.6h.8M128.1 154.8h.8M74.8 155.3h.8M137.2 155h.7M113.3 155.9h1M139.9 156.4h.6M125.4 156.3h.5M141.4 155.8h.6M133 157.5h.5M146.5 157.1h1M105.3 157.2h.5M86.6 156.9h.8M96 157.4h.5M70.2 158h.6M137.6 158h.8M135.6 157.6h.7M76.1 158.5h.6M117.4 159.4h.7M76.3 158.9h.7M121.1 159h.8M140.4 159.3h.5M130.1 159.4h.5M86.4 160.6h.6M92.6 159.8h1M67 160.1h1M137.2 160.3h.6M143.6 161.3h.5M115.6 161.5h.8M81.9 161.2h.7M125.8 161.1h.7M109.5 162.3h.7M123 161.7h1M144.1 162h1M92.4 162.1h1M95.4 163.5h1M128.3 162.8h.6M99.5 162.7h1M73.1 162.9h1M73.6 164h.8M115.4 163.9h.7M77.3 164.6h.6M97 164h1M106.3 164.8h.7M143 165.2h.6M110.5 165.1h.6M96.7 164.7h.5M121.9 165.6h.5M101.3 166h.5M91 165.8h.8M96.5 165.8h1M71.4 166.6h.6M78.2 166.7h.5M90.8 166.8h.7M95.9 167.1h.8M117.3 168.2h.6M138.2 168.5h.8M91.2 168.2h.8M137.8 168.8h.8M139.2 169.6h1M122.2 169.4h1M80.2 168.9h.6M68.2 170.3h1M84.6 170.2h.6M72.6 170.4h.6M131.3 170h1M125.2 170.8h.8M80.1 170.8h.7M79 171h.8M99 171.4h.5M146.8 172h.6M116.4 172.2h1M75.2 172.2h.8M69.7 172.9h.6M115 173.5h.7M111.3 173.2h.8M140.2 173.3h.6M121 173.8h.7M96.9 174h.5M110.4 173.6h.8M75.1 174.6h.7M66.9 175.1h.6M69.8 175.2h1M139.3 174.7h1M68.8 175.3h.5M71.4 176h.5M135.6 175.9h1M75.3 176.5h.6M90.8 177.5h.7M82.5 177h.8M83.8 177.3h.5M126.6 176.7h.7M112.6 178.1h.5M96.4 178.6h.6M77.2 178.2h.8M127 177.8h1M104.8 179.1h.7M119.5 179.3h.5M107.1 179.5h.7M69.4 180h1M70.3 179.8h.6M66.7 180.3h1M95.6 181h.6M122.2 181h.7M75.2 180.8h.6M137.5 181.7h1M112.6 182.6h1M130.1 182.6h.5M145.8 182.8h.5M89 182.8h.6M122.7 183.6h1M125.4 184.1h.7M97.3 184h.5M83.6 184.4h1M74 185.5h.6M79.9 185h1M141.4 185.1h1M92.6 185.9h.8M102.5 185.9h.5M78.2 186h.7M123.1 187h.8M129.7 186.8h.6M90.8 186.9h1M86.6 188.2h1M128.7 187.6h1M109.6 187.9h.7M147.3 188.8h.6M98.6 188.9h.6M90.5 190h.5M145.3 189.7h.5M68.9 190.5h.7M111.7 191.3h.7M147.4 191.3h.5M134 191.4h.7M134.6 192.3h.5M124.2 192.1h.7M71.8 191.6h.5M103 192.8h.6M147.5 192.7h.5M95.1 192.9h.7M126.9 193.7h.6M104.4 194.1h.5M84.5 195.4h.7M72.7 194.7h.8M144.7 194.8h1M137.7 195.7h.7M104.3 196.5h.6M94.8 195.8h.7M88.8 197h.8M135.4 196.8h1M130.5 196.7h.8M73.3 198.4h.6M84.5 198.3h.7M146.3 198.1h1M88.3 199.5h1M92.9 199.3h.7M81.6 199.3h.6M87.3 199.9h.8M125.4 200h.8M72.8 200.8h.6M130.8 200.6h.8M96.5 201.4h.6M74.6 201.8h.8M98.6 201.6h.6M142.5 203.2h.5M111.7 203.4h.8M88 203.7h.6M140.4 204.3h.8M89.5 205.1h.8M135.7 205.1h.7M102.5 206.1h.5M102 206.3h.6M130.7 205.6h.8M94.5 206.7h.8M113 207.3h1M80.8 208.4h.7M100.9 207.7h.6M138.9 208.1h.6M145.3 209.2h.8M126.4 209.1h.6M132.3 209.9h.8M103.4 210.3h.7M105.6 211.3h1M86.5 210.7h.8M109.7 212.5h.7M72.1 211.7h.8M109.9 212.5h.7M91.1 213.4h.8M76.2 213h1M142.5 213.8h.5M123.7 214.1h.6M76.7 215.4h.8M96.5 215.1h1M73.1 216.1h.8M121 216.3h.6M105.3 217.5h1M105.7 217.3h.7M108 218.5h.6M117.1 218.4h1M92.3 218.9h.6M139.7 219h.7M70.1 219.6h1M128.5 220.9h.8M67.7 222.5h1M71.1 221.7h.8M73 222.7h1M72.3 223h.7M110.1 224.1h1M109.1 224h.6M105 225.5h1M120 224.7h.7M85.7 225.9h1M134.7 226.5h.8M86.7 226.8h.5M106 227.2h.6M146 227.7h.7M123.4 229.4h.5M79 229.8h.7M107.7 231.1h.5M110.7 232.4h1M105.1 233.6h.7M89.4 233.3h.6M91.5 234h.8M70.5 235.5h1M91.5 235.6h.8M119.7 236.9h.6M112.3 238.3h.8M147.5 238.8h.7M101.3 240h.7M99.9 240.7h.8M109.1 240.9h.8M143.8 242h1M129.4 243.3h.5M88.7 243.8h.5M139 244.3h.8M137.5 244.8h1M69.4 246.3h.6M112.5 247.5h.8M118.6 248.2h.8M125.7 247.7h.8M132 249.1h.6M91.9 248.9h.8M133.4 250.3h.5M70.4 251.5h.5M72.8 252.1h.7M76.9 253h.8M88.2 253.7h.8M142.9 254.9h.5M146.9 255.8h.5M138 256.6h1M86.8 258.6h.7M74.3 259.4h.5M105.4 259.9h.5M94.9 261h.8M80.7 262.3h.8M118.4 262.7h1M123.4 263.7h.6M129.8 265.8h.6M109.2 267.5h.6M121 268.6h.7M87.7 269.1h.8M136.2 270.6h.7M117.8 272.5h1M72.6 273.9h.7M84.4 275.2h.5M103.5 275.8h1M71.9 276.9h.7M106.2 277.9h.7M80.8 279.5h.8M97.3 279.9h1M126.6 281.9h1M112.1 284.7h.6M71.2 286.6h.5M100.6 288.1h.8M77.7 292.5h.8M112.6 294.2h.5M102.9 294.6h.7M91.8 298.7h.7M137.6 304.8h1M146.2 306.4h1M134 307.8h.5M134.3 313.4h.6M96.5 316.4h.8M86.1 318.8h.8M147.7 322.5h1M67.7 323.1h.8" stroke-width="0.7"/><path d="M116.7 7.2h1.5M140.2 7.4h1.5M114.8 6.7h1.2M147.1 7.2h1M98.3 7.4h.8M142.7 7.5h1.2M122.9 8.4h.8M127.7 7.7h1.5M127.6 8.1h1.2M140.4 8.4h1.5M146.1 7.7h1.5M146.3 8.5h.8M139 8.3h.8M146.1 8.9h1M97.9 9h1.2M122.8 9.5h1.2M117.8 9.3h1.2M108.4 9.5h1.5M98 9.4h.8M113.4 10.3h1.5M110.4 10.4h1.5M111.7 10.4h1.5M117.2 10.3h.8M147.1 10.7h1M130.8 11.5h1.5M101.2 11.2h1M104.6 10.9h1M101.8 12.5h1.2M103.5 11.9h1.2M99.4 12.4h.8M141.2 12.1h1.2M110.7 12.7h1M132.8 13.4h1.5M102.8 13.1h1.5M106.5 12.8h1.2M127.7 13.3h1.2M118.6 14.4h1.2M110.9 14.3h1.2M128.2 13.8h1.2M99.2 14.5h1.5M119.8 14.3h1.5M116.6 14.7h1M124.3 14.8h.8M122.1 14.9h1.2M142.6 15.4h1M143.2 15.5h1.5M101.4 16.3h1.2M136.4 16.4h1.2M137.5 17.5h.8M115.9 17.5h1M142.5 17.1h1.5M122.1 17.1h1.2M118.4 17.2h1.5M139.1 18h.8M147.2 18.6h.8M108.7 18h1M127.5 18h1.2M139.2 18.4h1.5M133.3 19.4h1M144.3 19h1.2M126.4 19.3h1.2M128.4 19.6h.8M113.4 18.7h1.5M113.8 19.1h1.2M139 19.9h.8M99.8 19.9h1.5M107.3 19.8h.8M108.2 20.5h1.5M115.3 21.5h.8M111.4 21h1M110.1 20.9h1.2M106.6 20.7h1.5M109.8 20.8h.8M98.5 20.8h1M110.8 21.1h1M116.9 22h1.5M134.1 22.2h1.5M140.8 22.3h1.2M130.5 23.5h1M139.3 23.6h1.2M110.7 23.1h.8M140.5 23.9h1M106.2 24h1.5M100.4 23.9h.8M97.7 23.9h.8M108 23.9h1.2M129.6 24.7h1M139.4 25h1M109.9 24.7h.8M122.3 24.8h1M126.2 26.5h1.5M119.3 26.6h1M115.3 25.9h1.5M117.7 26.2h1M129.6 27.4h1.2M147.4 27.5h1.2M127.8 27.4h1M99.8 26.9h1.5M110.8 27.7h1.2M77.1 28.1h1.2M86.2 28.2h1.5M133.4 27.6h1.5M94.2 29.4h1M129.5 29.1h1M80.3 28.6h1M70 29.3h1M100.1 29.2h1M71.4 28.9h.8M69.6 28.9h1M94.3 29.6h1M147.3 30.6h1M77.3 30.5h1M131.9 30.1h.8M81.2 30h1.2M127.9 29.8h1M69.6 31.6h1M104.9 31h1.2M99.8 31.5h1.5M117.3 31.2h1.2M135.2 31.5h1.2M74.2 31h1.5M82.3 31.6h1M92 32.3h1M129.6 31.9h1.2M111.1 31.8h1.2M116.4 32h1.5M78.2 31.8h1.2M83.1 31.9h1M142.4 31.8h1M113.6 33.3h1.2M95.1 33.5h.8M94 32.8h1M103.1 32.8h1.2M107.7 33.3h1.2M111.7 32.6h1.2M96.1 33h1M136.5 34h.8M72.9 33.6h1.2M95.8 34.3h1.2M138.4 34.6h1.2M147.4 34.4h1.2M114.2 34h.8M78.8 34.1h1M118.6 34.7h1.2M94.7 35h.8M67.9 35h.8M125.6 35.4h1.2M129.5 35.1h1M124.1 35.5h.8M129.6 35.9h1.5M77.7 36.1h1.5M109.4 36.5h1M123.6 36.1h1.5M126.5 36.3h1M76.5 36.6h1M127.4 35.8h1M147.8 37h.8M86.5 37.2h1.2M112.6 37.2h1.2M146.6 37.3h1M108.3 36.8h1.5M107.9 37.2h.8M81.8 38.2h1.5M129.3 38.2h1M67.5 38.4h.8M123.1 37.7h1.5M130.7 37.9h1.2M138.6 38.5h1M79.3 38.8h1M127.9 38.8h.8M77.9 38.8h1.2M83 39.4h1.5M101.1 39.4h.8M104.5 38.7h1.5M73.4 39.8h1.5M68.1 40.3h1M101.2 40h1M130.8 40.5h1.2M142.8 40.3h1.5M127 40.4h1.2M70.3 41h1.5M111.3 41.5h1.5M121.4 40.7h.8M121.3 41.4h1.2M148 40.7h1M114.6 41.1h1.5M93.4 41.8h1M131.3 42.6h1M83.2 42.2h1M145.5 42.1h1M97.1 41.9h1.2M102.2 41.7h.8M106.3 43.6h1.5M83.6 42.8h1.2M105.2 43.5h1M101.8 43.4h.8M70.8 43.5h.8M125.7 43.3h1.2M144.4 44.1h1M85.7 44.2h.8M71.3 44.3h1M140.6 43.6h1M127.7 43.7h1.2M131.8 43.8h1.5M117.2 45.1h.8M83.6 44.7h1.2M102.6 45.6h1M90.4 44.6h.8M120.4 45.3h1.5M133.4 45.1h1.5M88.8 46h1.2M72.1 45.7h1M103.9 46h1.5M123.8 45.8h1M115.7 45.6h1.2M134.1 47.5h1M112.6 47.1h.8M111.2 47h1M114.7 47.3h1.2M122.2 46.9h.8M125.5 48.5h1.2M128.2 48.2h.8M96.3 48.5h.8M81.1 48.5h1M78.1 47.6h1M120.3 47.7h.8M95.7 49h1.5M143.2 48.7h1M116.8 49.3h1.5M117.4 48.9h1.5M91.1 49.5h.8M139.1 49.2h1.5M116.5 50.4h1.5M68.7 50.1h1.5M125 49.7h1.2M100.9 50.5h.8M135.3 49.8h1.5M127.7 50.3h.8M96.5 50.9h1.2M124.3 51.5h.8M79 51.2h.8M122.1 51.4h1M82.1 51h1M126.8 52.1h.8M145.6 52.3h1M124.8 51.9h1.5M85.5 51.7h1.2M132.4 51.9h1.5M83.4 52.3h1M89.7 53.5h1M124.5 52.7h1.2M114.2 53h1M119.7 52.8h1.2M114.4 53.4h1.2M77.4 53.1h1.2M116.9 54.2h1.5M120.8 54.1h.8M67 53.6h.8M88.4 54.1h1.5M127.5 54.2h1.2M86.8 54.7h1M80.5 54.9h1.5M91.6 55.4h1.2M108.1 54.7h1.5M104.7 55.3h.8M74.5 56.2h1.5M71.1 56.5h.8M88.8 56.2h1.5M71.8 56.5h1.5M131.7 56.5h1M124.5 56.9h1M121.8 56.7h1.2M103.9 57.2h1.5M101 57.4h1.2M135.8 56.7h.8M94.7 57.9h1.5M82 58.2h.8M99.8 57.8h1M100.8 58.2h1.2M99.7 57.7h1M77 58.7h1.5M119.1 59.2h.8M107.1 59h1M122.3 59.1h1M101.4 58.8h.8M132.2 60.5h1M135.4 59.7h1.2M121.4 60h1.5M104.2 60.6h1.2M133.7 59.9h1.5M103.4 61.1h.8M126.8 61.3h1.5M144.9 61.2h1.5M115.2 60.8h1.2M88.3 61.5h1.5M78.5 62.3h.8M78.4 62.2h1M118.4 62.1h.8M76.5 62.2h1.2M75.6 62.1h.8M116 63.4h.8M143.2 63.3h1.2M132 63h1.5M75.7 63.5h.8M80.6 63.1h1M147.1 64h1M76.7 64.1h1.2M81.4 63.7h1M66.7 63.9h1M116.1 63.7h1.2M127.7 65h1.2M86.3 65.2h1.5M136.4 65.3h1.2M128.8 65h1M147.6 65.2h1.2M106.8 66.5h1.5M123.3 66.4h1.5M101.7 65.9h.8M125.9 65.7h.8M130.2 66h1M119.8 66.9h1.5M142.4 67.2h1.2M89.4 66.8h1M113.4 67.5h.8M104.2 67.1h1M76.4 68h1M140 68.6h.8M118.4 67.7h1M130.6 67.9h1.5M94.9 69h1M78.3 69.5h1.2M131.2 69.2h1M117.6 69.5h1.5M79.1 69.4h1M105.6 69.8h1M86.4 70.2h1.2M97.9 70.6h1.2M72 70.4h1.2M112.4 71.6h1M70.1 71.2h1.5M114.9 71.5h1.5M111.2 71h1.2M133.5 70.7h.8M108.7 72.4h.8M81.9 71.7h1M83.9 71.7h1M72.5 72.5h.8M86.1 73.4h1.2M112.4 72.7h.8M133.6 73.5h.8M85.5 73.3h1.5M103.7 73.8h.8M138.7 74.5h1M140.8 74.6h1.2M112.6 74.5h1.2M94.6 75h1.5M83.8 75h1M143.8 74.6h1.5M90.8 75.1h1.5M141.3 76.1h1M137.7 76.3h1M125.7 75.8h.8M108.2 75.9h1.2M84.3 77.1h1M92.4 77.3h1.2M124.6 76.8h1.5M134.3 77.4h1.5M142.4 77.8h.8M137.8 77.8h.8M147.3 78.2h1.2M135.3 78.1h1.5M84 78.8h1.2M84.7 79.3h1.5M69.8 78.7h1M77.7 79.3h.8M91 80h1.5M136.9 79.8h1M81.6 80.5h1M95.4 79.7h1.5M122.1 81.6h1.2M89.4 81.3h1.2M117.8 81.4h.8M68.3 81.4h.8M82 82.4h1M69.9 82.2h1.5M120.3 82h.8M143.7 83.3h1.5M88.5 83.1h.8M126.6 82.9h1.5M145.7 82.8h.8M73.6 83.6h.8M90 84h1.2M129.8 83.8h1M125.4 85.6h1M136.2 84.9h1.2M146.3 85.4h1.2M80.4 84.8h1.5M92.1 86.4h1M127.4 86.4h1.2M147.4 86.2h.8M80.3 86.5h.8M128.2 87.1h1M122.5 86.8h1.5M137 87h1M136.9 87.3h1.5M95.8 88.4h.8M87.6 87.8h1M87.5 88.1h1M108.5 88.7h1.5M117.7 88.9h1M115.8 89h.8M67.5 89h1.2M146.9 90.3h1.2M77.2 90.6h1M141 90.2h1.5M74.5 90.2h.8M131 91.2h1.5M83.1 91h1.2M123.1 91.2h.8M120.4 91.8h1M88.6 92.2h1.2M141.8 91.9h1.2M102.7 91.9h1.5M136.6 93.2h1.5M68.8 92.9h1.2M118.1 92.9h.8M106.9 93.8h1M137.1 94.1h1M116.8 93.8h.8M117.2 94.8h.8M84.8 94.8h.8M130.3 94.6h1.2M132.9 95.7h1.2M146.3 95.8h1.5M136.1 96h1.2M84 97.1h1M114.2 97.2h1.2M71 97.2h.8M67 97.9h1M89.4 97.6h1M98.9 97.8h1M100.2 99.4h.8M95.8 98.8h1.5M141.2 99h1M118.1 100.3h.8M114.9 100.1h1M138 101.6h1.2M90.6 100.7h1.2M108.1 101.2h1.5M146.6 102.4h1.5M138.3 101.9h1.2M125.7 102.6h1.5M72.7 103h.8M131.6 103h1M134.4 103.7h.8M70.8 104.1h1M97.6 104.6h.8M91.2 105h1M113 104.6h.8M88 106h1M74.7 106.2h.8M135 107.5h1M103.6 107.5h1.5M115.1 108.4h1.2M141.8 108.5h1M129.3 107.8h1M89.5 109.5h1.5M100.8 108.7h1.5M77.7 109.6h1.2M103.5 110h1.2M81 109.9h.8M132.7 111.3h.8M99.3 110.7h1.2M84.5 111.4h1.2M121.7 112.6h1.2M122.7 111.9h1.5M109.2 112.6h.8M71.5 112.8h1.2M74.6 114.2h.8M142.2 114.5h1M145.8 114.7h.8M138.2 115.6h.8M133.5 115.3h1.5M76.5 116.2h1M73.5 115.9h1M146.1 116.2h1.2M145.2 116.8h1M112.8 116.6h.8M122.5 118h1.5M70.5 118.1h1M85.2 118.7h.8M82.4 119.6h1.5M123.4 119.9h1.2M144.9 119.9h1.5M108.9 120.8h1M128.9 121.5h1.5M72.4 122.5h1.5M126.7 122.3h1.2M96.1 122.9h1.2M121.5 123.5h.8M84.4 124.1h.8M136 124.4h1.5M135 125.1h.8M116.5 125h1M92.6 126.2h.8M69.1 127.5h.8M129.9 127.7h1.2M74.2 128h.8M99.3 128.8h1.5M130.9 128.7h1.5M104 130.1h1.5M100 130.1h.8M117.2 131.1h.8M104.8 131.4h.8M92.5 132.3h.8M117 132.8h1M103.7 133.6h1.5M79.1 134.9h1.5M128.4 135.2h1.5M140.8 136.3h1.2M117.9 136.3h.8M124.3 137.3h1M132.1 138h.8M89.1 137.8h.8M89.6 139h1.2M131.5 140.5h.8M101.3 139.8h.8M139.6 140.7h.8M103.6 141.6h1.5M99.9 141.9h.8M99.8 143.2h.8M72.3 143.9h1M91.9 144.6h1.2M83.6 144.8h1.5M137.6 146.1h.8M95.2 147h1.2M101.3 148.1h.8M82.5 149.6h1.2M129.7 149h.8M67.1 150.6h.8M81.7 150.3h1.2M111.8 151.1h1M147.9 151.2h1M93.6 152.4h1.5M99.2 152.6h1M137.7 153.1h1.2M81.5 153.7h1.5M108.6 155.2h1M94.2 156.5h.8M73.1 157.4h1.2M77.8 157.9h1.2M73.8 159.1h1.5M100.5 160h.8M83.8 160.6h.8M76.8 161.7h1.5M88 162.4h.8M127.2 162.8h1.2M83.4 163.9h.8M115.8 164.9h.8M133.4 166.2h1.2M146.7 167h1M107.6 168.5h.8M142.8 168.3h1.5M107.1 169.2h1.5M69 170.1h1.5M131.1 171.4h.8M67.6 171.9h1M106.8 173.1h1.5M127.7 174.2h1M84.1 175.5h1.5M90.7 176.1h.8M146.6 176.8h1.2M107.3 178.1h1.2M119.5 179.1h1.5M95.5 180.2h.8M135.5 180.6h.8M69.8 182.5h1.2M101.4 183.6h1.2M131.5 184.6h1.5M74.5 185.9h1.2M145 187.2h.8M133.6 188.3h1M104.9 188.7h1.5M78.4 190.2h1.5M92.6 191h1.2M106.7 192.2h1.2M123.8 193.3h.8M98.9 193.9h1M94.3 196.7h1.2M102.1 198.6h.8M145.1 200.4h1M67.4 201.3h1M91.4 202.1h1.5M132.4 203.2h1.5M111 204.1h1.5M95.5 205.1h1.5M109.9 206.3h.8M121.6 208.3h1.2M116.6 208.7h.8M79.9 210.3h1.2M98.3 210.9h.8M110.3 212.5h1.5M87.2 213.1h1M79.9 214.5h1.5M133.3 215.7h.8M144.6 217.3h1M92.5 219.5h1M95.8 219.8h1.5M89.2 223.6h1M135.5 224.1h1M127.8 226.6h1M127.2 227.4h1.2M110.8 228.4h1.5M94.2 228.7h1.5M111.9 230.1h1M136.5 232.2h1.5M102.6 233.5h1M124.7 235.8h1.2M73.6 238.5h.8M100 240.6h1.5M92 241.9h1.2M83.7 243.2h1.5M71.6 244.6h.8M116.2 246.2h1.5M82.4 250.8h1M80.5 254.8h1M102.8 256.2h1.5M67.4 263.4h.8M75 266.3h1.5M141.5 272.7h.8M91.8 273.8h1M67.8 278.1h1M122.6 283h1M84.8 290h1.2M87.7 302.3h.8M130.3 311.7h1.5M99.5 326.6h.8" stroke-width="1"/></g>
<rect x="68.7" y="317.1" width="33.2" height="8.7" fill="#ffffff"/>
<rect x="69.8" y="323.2" width="31.3" height="1.9" fill="#000"/>
<text x="85.2" y="321.9" font-size="4.2" text-anchor="middle" fill="#666" font-family="'Liberation Sans', sans-serif">20 um</text>
<text class="b" x="72.4" y="19.8" font-size="18.3" fill="#000" font-family="'Liberation Serif', 'DejaVu Serif', serif" font-weight="bold" textLength="20.4" lengthAdjust="spacingAndGlyphs">(a)</text>
<text class="b" x="74.6" y="347.1" font-size="16.0" fill="#000" font-family="'Liberation Serif', 'DejaVu Serif', serif" font-weight="bold" textLength="68.6" lengthAdjust="spacingAndGlyphs">USP-2min</text>
<path d="M190.4 6.3H243.4V328.4H160.5V27.8H190.4Z" fill="#ff0400"/>
<path d="M190.4 6.3H243.4V328.4H160.5V27.8H190.4Z" fill="url(#h1)"/>
<g filter="url(#sb)" stroke="#3ed000" fill="none"><path d="M217.1 6.7h.6M234.9 6.7h.7M235.5 7.4h.6M228.6 7.2h.8M214.5 7h1M194.2 6.7h1M191.2 7.4h.5M216.8 6.9h1M191.6 7.3h1M193.4 6.8h.7M206.9 7h1M213.8 6.8h1M196.9 7h.7M230.1 7.2h1M209.7 7.5h.5M196.9 7.1h.8M234.2 8.1h.8M242 7.7h1M227.9 8.2h1M236 8.1h.7M202.5 8.1h.5M202.4 8.5h.8M226.5 8.5h.5M229.9 7.8h.8M223.7 8.5h.5M227.6 7.9h.5M208.6 8.6h.7M215.8 8.3h.7M234.2 7.7h1M224.2 8.4h.8M239.1 8.6h.7M223.4 7.9h.5M203 8h.6M231.2 7.9h.6M201 8h.8M220.7 8.4h.5M234.7 8.1h1M194.3 9.1h1M205.3 9.5h1M203.3 8.7h.5M208.6 8.6h.7M209.6 9.5h.6M207.1 8.9h.7M233.2 9.5h.5M210.1 8.6h.8M214.8 9.5h.6M226.9 9.4h.7M213.1 9.1h.6M202.5 9.4h.5M236.4 9.5h1M218.2 8.6h1M223.6 9.2h.8M202.4 9h.6M233.4 10.2h.8M224.8 10.2h.8M241.5 10h.5M197.6 10.6h.5M221 9.8h.7M195.3 10.4h.6M240.5 9.9h.7M240.9 9.8h1M223.3 10h.8M236.4 10h1M226.4 9.8h1M236.4 9.7h.7M193 10.4h.7M203.3 11.2h.6M204.5 10.9h.8M227.3 11.3h.6M227.7 11.6h.8M197.2 11h1M192.8 11.2h.6M222 11.2h.7M211.2 11.4h.5M240.8 11.4h.5M203.7 11.2h.5M218 11.4h.6M209.6 11.6h.7M231.9 11.2h.6M235.8 10.7h.5M208.2 10.9h.8M234.1 10.9h1M194.6 10.8h.5M193.1 10.6h.7M209.3 11.2h.5M196.2 11h.6M219.8 10.8h.6M241.5 11.1h.6M240.8 12.5h.7M222.8 12.5h.7M232.8 11.7h.6M192.7 12.1h.5M242.1 11.6h.7M191.6 12.5h.8M199.1 11.7h.5M234 11.7h.7M233.4 12.5h.7M193.3 12.2h1M241.2 12.6h.8M207.6 12.5h.8M209.7 12.4h.5M195.2 11.8h.5M208.8 12.5h.8M193.5 11.9h.5M191.2 13.3h.5M211.7 12.8h.5M223.5 13.5h.8M222.8 13.5h.8M202.1 13.3h.5M194.8 12.7h.7M237 12.8h.6M196.5 12.8h.7M240.4 13.5h.6M194 12.8h.5M192.8 13.1h.7M235.3 13.1h.5M196.3 12.9h.6M231.9 13h.5M217.9 13h.6M216.7 13.5h.7M241.7 12.9h.6M223.8 12.7h.5M234.6 13h.7M197.8 13.2h.5M242.3 13.2h.7M208.9 14.1h.5M196.7 13.8h.8M199.5 14.2h.6M195.3 13.6h.5M216 14.5h.5M209 14.6h1M217.5 13.8h.7M233.7 14.2h.6M208.4 14.1h.6M206.5 14.5h.7M237.2 13.9h.6M209.8 13.8h1M242.3 14h.5M222 14.1h1M191 14h.8M191 13.8h1M225.8 14.5h.5M231.2 14h.7M234.2 15.2h.8M194 14.9h.5M240.2 15.5h.5M192.2 14.8h.7M194.4 15.5h.8M241 14.7h.6M204.5 14.8h.5M239 15.4h1M227.4 14.9h.7M193.4 15.2h.7M222.5 15.2h1M240.3 15.5h.7M242 15.5h.5M202.4 15.2h.7M235.4 15.2h1M201.2 15h.6M191.9 15.2h.7M195.9 15.2h.5M239.9 14.8h.8M207.3 15.2h.6M234.6 15.4h.8M203.5 15.6h.7M205.3 15.6h.7M237 16.1h.7M194.9 16.4h.5M239 16.1h1M198.5 16.6h1M223.2 16.6h.5M213.6 16.6h.5M223.4 15.8h1M199.7 15.7h1M200.7 16h.5M220.9 16.6h1M220.7 16h.6M239.1 15.7h1M194.3 17.2h1M207.7 17.3h.8M205.3 16.9h.6M198.6 16.8h1M200.5 17.2h.8M231.6 16.8h1M229.7 17h.7M225.5 16.6h.7M230.5 16.9h.5M230.7 16.7h.5M215.9 17.3h.7M230.4 17.4h.7M235.3 17h.8M230.4 17.4h.8M210.9 16.7h.5M215.8 17.1h.8M207.3 18h.7M219.5 18.3h.6M197.4 17.9h.5M236.9 18.1h.5M215.3 18.4h.5M236.4 18.3h.8M207.5 18.6h1M195.2 18.5h1M216.9 17.7h.5M192.1 17.8h1M200.3 18h.6M214.1 17.7h.7M208.3 18.4h1M212.1 17.8h.8M204.5 18.1h1M212.8 18.1h1M216.3 17.8h.5M220.3 18.8h.8M217.6 19.4h.7M229.8 18.7h.5M192.9 18.8h1M191.2 18.7h1M191.8 19.6h.8M208.2 19h1M207.7 19.1h.5M222.3 19h.7M198.8 19.5h.5M201.5 19.4h.6M209.6 19.2h.6M207.2 18.9h.7M206.9 18.9h.6M236.5 18.8h.5M192.8 19.5h.5M217.6 20.2h.5M217.4 20.4h.8M208.7 20.6h1M205.3 19.6h.8M194.6 20.5h.7M203.9 20h.5M208.8 19.6h.6M209.3 20.3h.8M223.7 19.8h.5M221.2 20.2h.8M196.5 20.3h.5M195.4 19.6h.7M208 20.3h1M208.5 20.4h.5M200.4 20.2h.5M231.3 19.7h.6M236.8 21.5h.8M203.6 20.7h.7M223.8 21.3h.6M200.4 21h.6M196 20.8h.5M232 21.2h.8M239 21h1M201.1 21.1h1M237.9 21.2h.7M224.2 21.3h.5M191.6 21.2h.5M212.6 21.1h.6M233.9 21.5h.5M232 20.9h1M215.8 21.5h.5M205.8 21.2h.7M220.7 21.3h.8M240.4 22.3h1M219.5 21.8h.7M213.1 21.7h.7M196.5 22.6h.8M226.2 22h1M221.8 21.6h1M200.1 21.9h1M228.3 22.5h.5M216.8 22.5h1M197.8 22.2h.8M209.2 22h.5M225.6 22h1M223.7 23h.8M211.5 22.8h.6M237 23.5h.6M209.1 23.3h1M238.2 22.7h.8M197.1 22.7h.7M217.3 23.5h.6M228.3 23.5h.6M239.2 22.8h.8M196.3 23.4h.7M200.3 23.1h.6M237.2 23.3h.6M225.6 23.5h.6M201.2 23.4h.7M207.2 22.7h1M197.2 23.5h.7M241.3 23.8h.8M238.9 24.3h1M200.4 24.3h1M197.1 23.9h.8M213.8 23.8h.5M240.1 24.4h.8M199.3 24.3h1M214.3 23.7h.8M222.8 24.4h1M235.5 23.6h.5M222.6 24.1h.8M204.1 23.6h1M215.3 23.6h.5M235 24.1h.6M207.8 23.8h.8M226.3 24.4h.7M210.3 23.9h.7M234.6 24.2h.5M238.2 24.5h.8M238 25.2h.5M193.9 25.5h.6M205.3 24.6h.5M209 25.2h.6M224.2 24.7h.8M238 25.3h.7M231.9 25.5h.7M226.3 25.2h1M193 25.2h.8M227.3 25.1h.7M212.9 25.3h.5M218.4 24.9h.7M208.5 25.4h.5M223.2 24.8h.5M205.1 25.5h1M227.2 25.1h.7M223.5 24.9h.7M212.8 25.4h1M235.2 25.7h.8M193.6 26.1h.8M219.4 26.3h.6M206.4 26.3h.7M236.2 25.9h.7M237 26.4h.8M192.7 25.8h1M207.8 26.6h1M230.1 26.5h1M199.3 26.5h.8M202.4 26.2h.6M224.9 26.5h.5M202.1 26.5h.6M201.6 26.1h.8M238.8 26.1h.6M215 25.9h.6M208.6 27.5h.8M216.6 27.4h.5M194.9 27h.5M235.7 27.3h.8M209.6 27.3h.5M191.5 27.2h.7M216.2 26.8h.7M235.4 27.5h.6M228.8 26.6h.7M239.5 27h.8M213.7 27.5h.7M242.5 26.7h.5M236.9 27.5h.8M242.1 27.3h.6M220.7 26.6h.8M221.7 26.9h.7M203.8 28.2h.6M211.1 28.4h.7M230.3 27.7h.8M215.3 27.7h.8M216.9 28.2h.6M228.5 28.2h1M232.3 27.7h.5M241 27.6h1M197.1 28.1h.8M222.1 28.2h.6M209.3 28.1h1M217 27.8h1M216.8 28.3h1M217.7 28h1M238 28.5h.6M238.6 27.9h.6M198.5 29.1h.6M216 29.5h.5M172.7 29h.6M213.3 29.2h.5M175.5 29.5h.5M230.4 28.9h.8M240.1 29.3h.5M216.9 29.6h.8M179.6 29.4h.6M223.3 29h1M212.7 29h.8M195.4 29.3h.7M206.4 28.9h.7M215.6 28.8h.5M201.9 28.6h.6M238.9 28.7h.7M164.7 29.1h1M217.3 28.7h.7M187.3 29.5h1M226.1 28.7h.6M209.4 28.8h.5M162.5 29.4h.8M172.1 28.6h1M234.7 29.6h.8M234.4 29.4h.5M211.4 29.5h.5M179.3 29.7h.7M190.5 30.3h.7M215.1 30.1h1M167.3 30.1h.6M181.5 29.7h.5M225 29.7h1M176.2 30.5h.7M211.5 29.7h.7M220.2 30.5h.6M234 29.7h.7M179.2 30.3h.8M239.9 30.1h.7M227.3 30.1h1M223.6 30.2h.5M237 29.9h.7M175.8 30h.8M175.5 30.1h1M171 30.4h1M187.4 29.8h1M188 30h.5M191.4 30.3h.5M166.5 30.1h.8M173.6 29.8h.7M195.6 29.6h.8M239.9 30.3h.5M231.9 30.3h.5M219.2 30.5h.6M165.4 31.1h.7M211.2 31.5h.8M237 30.7h1M229.5 31.5h.6M237.4 31.3h.5M234.3 30.7h1M172.1 30.7h1M176.1 31.1h.5M219.4 30.6h.5M232.4 31.3h.6M193.3 30.9h1M189.3 31.2h.6M218.6 31.5h.6M186 31.1h.7M205.8 31h.5M203.3 31.1h.7M205.6 31.3h.6M180.6 30.8h.5M196.9 31.3h.5M235.5 31.2h.6M180.3 30.9h1M165.7 31.3h.5M182.7 31.4h.7M210.4 31.6h.8M187 31h.7M168.9 31.4h.7M237.8 32h.5M215.3 31.9h.7M190.1 32.4h1M180.3 32.1h.7M173.1 32.6h.6M190.1 31.9h.8M165.8 32.4h1M222.7 32.3h.5M185.9 32.2h.6M217 32.5h1M183.5 32.5h1M214.5 32.3h.6M214.2 31.8h.7M178.4 32.4h.7M176.6 32.5h.7M235.4 31.8h.7M225.7 32.4h.7M199.2 32.6h1M188.3 31.8h.8M166.9 32.3h.6M207.1 32.1h.7M198.5 32.5h.5M169.5 32.4h.7M185.1 32h1M227.8 32h.8M240 32.6h.6M219.5 32.8h.7M222.7 33.3h.7M242 32.9h1M222.1 33.3h1M215.1 33.4h.8M240.1 33h.8M184 32.8h.5M226.9 33.3h.5M202.5 33.3h1M193.7 33.6h1M182.4 33.3h.8M167.5 33.4h1M186.7 32.7h.5M213.6 32.8h.8M179.7 33.1h1M173.4 33.3h.8M179.3 33.5h.7M241 33.3h.7M209.2 33.1h.6M218 33.2h.6M242.1 32.9h.8M191.2 33.1h1M190.1 32.7h.7M190.9 33.2h.6M217.4 33.6h.7M178.9 33.2h.7M174.6 33.9h.8M205 33.9h.7M224.9 33.9h.5M237.2 34.1h.6M240.7 34.2h.7M201 34.1h.7M200.7 33.7h.7M199.9 34.4h.8M181.1 33.9h.8M188.5 34.4h1M195 33.7h.6M217.8 34.5h.7M215.2 34.3h.8M223.1 33.6h1M239 34.5h.6M206.1 33.7h1M217.4 34.6h.6M200.3 34.2h.8M225.1 34h1M193.1 33.6h.8M167.2 34.5h.7M234.5 33.9h.7M221.1 33.7h1M184.4 34h.5M237.5 34.2h.5M227.6 33.7h.8M186.9 35.4h.6M218.1 34.9h.7M170.9 35h.8M180.1 35.5h1M199.2 35h.8M232.6 35h.7M238.2 35.4h1M225.1 34.7h.5M189.3 35.4h.6M229.7 34.8h.6M234.4 35.1h.6M222.1 35.3h.7M206.2 35.2h.6M220.4 35.2h1M188.7 35h.6M189.4 35.5h1M193.8 35.1h1M219.7 35.5h.8M193.2 35.4h1M161.7 35.1h.7M162.6 35.4h.6M233.5 35.3h.7M175.9 34.6h1M218.5 34.8h.8M175.1 35.3h.8M193.9 35.5h.8M163.4 36.2h.8M228.4 35.8h.5M224.1 35.7h.5M196.6 36.1h.5M239 36.3h.7M227.3 36.5h.6M188.1 36.3h.6M180.2 36.1h1M229 35.7h.6M235 35.8h.7M232 36.3h.5M204.1 36.2h.5M168.5 35.7h.6M180.3 36.6h.7M169.9 36.5h.6M199.4 35.7h.7M224.9 36.1h1M200.3 35.7h.5M216.9 36.1h.7M236.5 35.6h.7M211.2 36.4h.8M221.6 35.8h1M174.1 36.3h.6M209.2 36.4h1M184 36.6h.7M219.3 35.9h1M204 37.4h.8M232.8 37.3h.5M200.4 37h.6M238.7 37.6h.8M242.5 37.4h.5M223 36.8h.5M238.7 37.4h.7M206.7 37.3h.5M180.4 36.9h.8M209.5 36.9h.6M214.5 37.1h.8M206.7 37.5h.6M231.7 37.3h.8M197.2 36.9h.7M163.5 37.3h.7M171.7 37.2h.5M239.4 37.3h.5M227.1 37.4h1M222.5 37.2h.8M212.3 37.4h1M170.2 36.6h.7M173.3 37.1h.6M222.2 36.8h.7M183.8 36.8h.8M174.2 37.4h.7M182.2 37.2h.5M204.9 38h.5M225.4 37.7h.7M240.8 37.7h.8M233.9 37.6h.7M229.6 37.8h1M177.9 38.4h.7M226.9 37.6h1M236.1 37.9h.8M191.8 38.2h.7M202.6 37.8h.5M165 38.4h.8M205.2 37.9h.5M186.4 37.9h.5M164 37.7h.5M220 38.5h.5M170 38.1h.6M205.3 38.3h.6M165 37.7h.8M188.4 38.6h.8M170.4 38.3h.5M177.6 37.7h.7M222.3 38h.8M219.4 38.5h.5M190 38.3h.6M234.1 38.6h.6M179.1 39.5h.7M242.3 39.6h.6M233.1 39.3h.6M165.3 39.1h.7M198.4 38.7h.5M239.8 39h.6M215.9 38.8h.8M166.1 38.8h.6M204.4 39.3h.8M169.1 39.1h1M203.2 39h.8M168.3 38.8h.5M229.7 39h.8M193 38.6h.7M193.6 39h1M175.5 38.9h.7M197.4 38.8h.7M211.6 39h.6M210.2 38.9h.7M209.3 39.5h1M223.3 39.2h.7M210.8 38.9h.5M177.2 39.1h.6M237.2 39.4h.5M223.6 38.7h.8M161.6 40.5h1M218.4 40.2h.8M240.8 40.5h.6M202.9 40.1h.5M191.2 40h.7M240.8 39.9h.5M216.7 39.6h.6M162.3 40h.8M179.4 40.5h.7M181.3 40.5h.7M197.6 40.5h1M199.7 40.2h1M235.4 39.9h.8M177.5 39.8h.5M208.5 40h.7M172 40h.7M240.5 40.6h.5M201.4 40.4h.8M202.4 40.4h.5M167 40.4h.8M180.7 39.8h1M217.7 39.9h.5M211.4 40.4h1M169.8 40.3h.7M225.4 39.8h1M177.7 40.8h.6M163.5 40.7h.6M221.7 41.5h.5M231.8 41.2h.8M210.9 40.8h1M232.5 40.8h.7M221.5 40.9h.7M190.6 40.6h.8M191.1 41.2h1M233.3 41.6h1M217.9 41.4h.8M207.5 40.8h.5M214.2 40.6h.8M215.9 41.6h.5M223.1 40.9h.5M174.6 41.5h.6M190.3 41.2h.7M194.8 40.6h.5M204.2 40.7h.8M178 40.8h.6M231.9 41.1h.8M172.6 41.6h.7M228.1 40.7h1M239.1 41.4h.5M214.9 40.9h.8M219.3 42.1h.7M175.2 42.1h1M214.3 41.7h1M186.2 42.3h.8M189 42.2h.5M164 42.5h.7M173.8 42.2h.6M192 42.1h.8M180.7 42h.8M209.1 41.9h.7M174.4 42.4h.6M181.2 42.4h.6M203.9 42h.8M226.9 41.7h.6M211.5 42.5h.8M241.5 41.9h.7M220 42.2h.5M168 41.7h.5M240.3 42.1h1M173.4 42.5h.5M187.1 41.8h.5M201.9 42.1h.8M191.3 42.2h1M189.8 42h.6M182.8 42.7h.6M182 43.1h1M191.4 42.7h.8M242.2 43.1h.5M170.1 43h.7M192.1 42.7h.7M234.8 43.2h.6M168.8 43.2h.6M162.2 43.5h.6M237.9 42.8h.8M227.1 43h.6M208.1 42.9h.6M174 43.2h.6M173.5 42.7h.6M238.4 42.8h.8M220.9 43.5h.7M186 42.9h.6M208.5 43.4h.8M196.8 43.5h.8M210.8 43.6h.7M183.2 43.5h.7M223.9 43.5h.6M228.2 43.6h.5M210.2 43.3h.6M208.7 43.5h1M201.4 44h1M228.2 44.1h.8M181 43.8h.7M201.7 44.4h.5M214.9 44.4h.6M195.4 44.1h.7M168.8 44.6h.5M187.4 44.4h.5M171.7 44h1M238.6 43.6h.5M222.3 44.3h.8M218.3 43.8h.6M171.2 43.7h.7M178.2 44.4h1M197.4 44h1M208.7 43.7h.8M231 44.2h.7M172.7 44.2h1M217.3 44h.7M235.8 44.5h.6M219.5 44.3h1M219.4 44.2h.5M187.1 43.9h.7M203.4 43.7h.5M161.5 44.9h.8M235.1 45.6h.6M210.7 44.8h1M218.9 45.2h.6M179.7 44.8h.8M172.9 45.1h.5M226.7 45.3h.8M162.2 45.6h.5M212.2 45.4h1M181.2 45.1h.8M240.5 45.1h.5M201.5 45.3h.8M169.4 45h.8M237.9 45.1h.5M232.2 44.6h1M190.6 45h.7M193.2 45.1h.6M174.3 44.8h.6M194.5 45h.6M190.5 45.2h.5M173 45.2h.7M229.8 44.7h.8M207.1 45.5h.7M190.9 45.2h.6M189.4 45.2h.8M188.6 46.5h.7M229.5 46.5h.8M219.5 45.8h.8M210.5 45.8h1M214.9 45.7h.6M198.1 46.4h1M216.4 45.6h.6M227.6 45.7h.8M204 46.5h.5M231.8 46.1h.7M207.4 46h.6M184.1 46.4h.5M177.2 45.7h.5M188 45.9h.5M187.5 45.9h.7M200 45.8h1M218.9 46.3h.6M169.8 46.3h.5M174.5 45.9h.5M223.1 46.3h1M191 46.4h.6M203.9 46.4h.6M187.6 45.8h.5M205.7 45.6h.6M232.3 46.6h1M171.2 47h.5M174.6 47.3h.8M198.3 46.9h1M192 46.6h1M210.8 47.2h.6M228.5 47.1h.8M220.2 47.1h1M162.8 47.3h1M182 46.7h.5M170.3 47.5h1M223.6 47h.6M216.7 47.4h.8M239.3 47.6h.6M178.6 47.3h.5M173.8 47.3h1M203.5 46.9h.8M176.5 46.7h.6M239.5 46.9h.5M194.7 46.7h.6M198.2 47.2h.6M191.4 47.3h.8M218 47h.6M166.5 47.4h.7M242.5 48h.6M210.8 48.2h1M224.1 48.1h.8M217.6 47.9h.6M180.3 48.5h.8M180.2 48.6h.8M204.7 47.7h.7M190 48.6h.5M197.7 47.7h.5M241.7 48.3h.5M160.9 48.4h.7M187.3 48.1h.8M192.9 47.9h.5M237.3 47.8h.7M168.6 47.9h.5M198.3 48.4h.7M230.1 47.8h1M167.4 48.3h.5M183.2 47.8h.6M174.9 48.4h.8M182.2 48h.7M187.6 48.5h.8M201.7 47.7h.5M213.4 48.4h1M236.9 49.4h.5M233.5 49.2h.6M167.1 49.4h.6M205.7 49h.6M222.2 49h.8M173.1 48.6h.6M187.7 48.8h1M205 49.1h.5M206 49.6h.5M192.1 48.9h.8M185.7 48.8h.6M186.3 49.5h1M183 48.6h.8M168.4 49.2h.8M188.5 49.1h.5M213.9 48.7h.8M169 49.4h.7M191.4 49.6h.7M165.7 49h.6M186 49.5h.6M217.6 48.9h.7M164.9 48.9h.6M173.8 48.7h.6M230.6 49.4h.8M191.5 50.5h1M239.4 49.7h.6M235.8 50h.8M198.2 50.4h1M208.9 50.4h1M171.1 49.6h1M170.7 50.4h.6M163.2 49.7h1M214.9 50.5h.5M195.8 50.6h.7M219.1 50h1M167.4 49.7h.8M164 50.2h.8M180.8 49.7h1M218.5 50.3h.6M161.3 49.8h.7M183.5 50.3h1M175.1 50h.6M207.3 49.8h.8M201.8 49.9h.5M162.8 50.5h1M215.9 49.7h.5M184.1 50.6h.8M183.3 51.3h.5M193.3 51.6h.8M214 51.4h.7M217.1 51.2h.8M211.9 50.9h.7M230.5 51.3h.7M237.7 51.2h.6M181.7 51.3h.8M226.2 51.5h1M227.1 51.2h1M203.6 51.5h.6M229.3 51.5h.6M213 51.4h.5M218.7 50.7h.8M215.8 50.8h.7M238.4 51h.8M217.8 51.2h1M197.9 51.6h.8M194.3 50.7h.6M222.5 51.5h.5M221.3 50.9h.5M218.6 51.3h.7M220.3 50.9h1M194.3 52.1h1M240.4 51.7h1M238.5 51.6h.8M180.7 52.4h.7M228.2 51.8h.5M199.4 52h1M188.4 51.8h.6M202.1 52.3h1M174.9 51.7h.7M231.3 51.7h.6M210.4 51.8h1M177.9 52.3h.6M227.9 52.6h.5M232.5 51.8h1M205.8 51.7h.7M162.4 51.7h.6M177.8 52.5h1M234.2 52.4h.7M193.9 52.1h.6M175 52.6h1M218.8 52.4h.8M184.1 51.7h1M203.2 52h.7M241.1 53.3h.6M169.2 52.8h.7M238.7 52.8h.6M233.3 52.6h.5M169.9 53.3h1M179.9 52.8h.5M211 52.8h.8M225.6 53.5h.6M225.1 53.1h.8M166.7 52.9h.6M165.7 53.2h.5M212.6 53h.8M172.9 52.6h1M197.1 53.1h.5M213.9 53.3h.8M231.2 53.6h.6M194.1 52.7h.5M236.8 53.6h.7M189.3 53.5h1M225 53.2h.7M204.5 53.5h.7M210.8 53.1h.6M218.4 53.2h1M208.6 54.4h.6M161.8 54.4h.7M193.9 54h.5M231.4 54.2h1M175.3 53.9h.8M178.9 53.8h.8M161.3 54.3h.6M174.4 54.3h1M200.1 53.8h1M162.1 54.1h.7M239.3 53.6h1M162.2 54.1h.7M179.6 53.9h.7M206.9 54h.5M236.5 53.7h.7M215 53.6h.7M175.1 53.6h.5M220.7 54.1h.5M176.7 54h.6M222.5 53.7h.8M196.1 54.3h.8M187.9 54h.5M237.8 54h1M175.5 54.8h.8M183.8 54.6h.8M173.8 54.8h.6M211.7 55h.5M161.1 54.9h.6M190 55.4h.8M162.1 55.3h.7M228.5 54.7h.7M227.3 54.6h.6M181.8 55.2h.5M213.6 55.3h.6M203.9 54.9h.5M187.8 55.2h.7M177.7 54.7h.6M181 55.5h.8M200.5 55.5h.8M182.4 54.8h1M222.9 55.4h.5M220.9 55.2h1M227.3 55.1h.7M210.5 55h.7M221.9 54.8h.8M233.6 56.6h.5M194 55.6h.7M239.9 56h.8M227.3 56h.5M176.8 56.5h.8M184.9 56.3h.6M214.8 56.3h.7M195.9 56.4h1M178.6 56.2h.7M194 55.8h.5M207.2 56.6h.7M240.2 55.6h1M225.7 55.9h.5M217.4 56.2h.8M174.5 56.5h.7M232.3 55.8h.6M196.1 56.6h.5M201.8 56.4h1M182 56.4h.6M204.7 56.5h.6M215.6 55.9h1M198.7 56.5h1M193.7 57h.6M194.2 57h.6M220.2 56.9h.8M170.1 57.2h.7M166.7 57.4h.7M238.5 57.3h.7M194 57.3h.5M165.3 56.8h.6M174.8 56.9h.5M238.3 57.5h.7M204.3 56.9h.8M178.4 57h1M202.6 56.6h.8M162.9 57.5h.6M232.6 56.9h1M203.7 56.9h.7M167.7 57h.8M192.8 56.9h.5M197.1 57.6h.8M226.8 56.9h.5M163.4 56.9h.7M217.1 57.1h1M178 57.9h.7M211.7 58.1h.5M224.8 58.2h.5M177.7 58.1h.5M201.3 57.7h.6M185.2 58.4h.5M164 58.5h.8M231.7 58.2h.6M230.2 57.6h.7M165.4 58.3h.6M163.7 58.5h.5M228.4 58.1h.7M238.7 57.8h1M185 57.9h.6M190.3 57.8h.5M207.6 57.7h1M210.5 58.4h.7M163.2 57.8h.6M188.2 57.8h.5M209.6 58.6h.5M192.6 58.4h.5M235.7 58.4h1M211.1 59.1h.6M220.6 59.3h1M195.4 58.9h.6M212.9 59.5h.6M174.3 59h.6M218.4 58.9h.6M195 59.6h.8M179.3 58.8h1M169.2 58.7h1M164.3 59.1h.5M238.4 59.1h.7M180.6 59.5h.6M204.1 59.3h.7M227.6 58.7h.6M168.7 59.1h.5M219.2 59.1h.6M226.7 58.6h.8M181.2 59.3h.6M166.1 59.2h.6M201.1 59h1M225.9 59.3h.5M221.1 60.2h.7M178.9 60.5h.5M187.6 59.8h.5M200.5 60.1h1M188.7 60.4h1M188.4 59.8h1M175.1 59.7h.7M221 59.6h1M233.7 60.6h.7M204.3 59.8h.8M180.5 59.6h.7M180.6 60.4h.5M198.9 60.6h1M167.2 59.7h.6M186.9 60.2h.8M205.4 59.7h.7M229.3 60h.8M235 59.8h.7M204.9 60.2h.7M193 59.7h1M238.2 60.1h.7M198 60.7h.5M217.8 60.8h1M177.3 60.7h.7M235.6 61.1h1M173.4 61.6h1M232.5 61.4h.8M199.7 60.9h.5M178.8 61.5h.6M162.8 61.1h1M212.6 60.8h.6M182.5 60.6h.7M195.3 60.9h.5M209.2 61h.6M165.5 61.5h1M219.5 60.8h.6M224.5 61.4h.6M215.9 60.7h1M224.6 61h.7M207.2 61.6h.6M167.9 61.1h1M220.7 60.9h.7M160.8 61.9h.7M179.6 62.1h.5M196 61.8h.8M179.2 62h.6M163.6 62.3h.5M163.6 62.5h.8M206.7 62.4h.7M197.2 62h.8M206.9 61.7h.6M171.1 62h.7M226.3 62.2h1M172.1 61.9h.8M170.5 62.3h.5M216.3 62.3h.8M161.2 62h.8M172 62.1h.7M223.7 61.7h.5M218.1 61.8h1M237.3 62.3h1M236.7 62.1h.5M186.3 62.3h.7M160.9 62.2h.6M242 62.8h.6M204.8 63.1h.5M176.9 63.6h.5M162.4 63.3h.7M162 63.5h.5M227.5 63.5h1M211.4 62.9h1M235 63h.8M221.4 63.4h1M167.8 62.7h1M181.3 62.8h.8M239.5 62.6h1M223.4 62.6h.6M187.8 63.5h.7M183.8 63h.6M181.7 63h.8M212.9 63.1h.8M205.8 63h.7M206 63h.5M218.1 63.4h.7M161.1 63.2h.5M161.7 64h.5M183.9 64.3h.5M167.2 63.6h.5M184.1 64.5h.8M174.2 64.2h1M191.6 64.5h.8M211.6 64.4h.8M195.8 64.5h1M218.5 64.1h.7M183.9 63.8h.5M172.3 64.5h.6M213.7 64.4h.5M210.6 64h.7M168.6 63.8h.6M188.7 63.8h.6M173.9 64.1h.8M232.8 64.1h.8M163 64.1h.5M239.8 64.3h.5M193.4 64.1h.7M218.3 64.6h1M196.7 65.6h.6M223.6 65.5h.8M220.9 65.5h.7M174.3 64.7h.8M215.7 65.4h1M200.9 64.7h.6M221.5 65.4h.7M170.7 64.9h.7M212.6 64.8h.6M236.6 65.6h.7M219.5 65.3h.6M221.6 64.8h.5M227.2 65.1h.7M234.1 65.5h1M189.9 65.3h.7M194.1 65h1M205.1 64.9h.5M233.8 64.7h.7M201.9 65.3h.8M216.5 65.4h.5M167.4 65.2h.5M226.7 65.6h.8M209.7 66.2h.8M195.3 65.9h1M216.9 66.1h.8M173 66.3h.7M234.7 66.3h.5M217.9 66.1h1M218.1 65.9h.8M168.9 65.8h1M160.9 65.7h.7M175.6 66.5h.8M191.5 66.2h.6M202.4 65.9h.7M171 65.9h.6M228.6 65.7h1M207.5 66h.7M235.6 66.2h1M174.2 66h.7M230.3 66.5h.7M223 65.9h.7M217.7 67.4h.7M177.1 67.2h.5M178.7 67.4h.8M174.6 67.3h.5M239.6 66.8h.8M169.5 67.2h.7M190.6 67.3h1M229.9 67.4h.6M186.5 67.4h.5M218 67.3h.6M225.6 67.5h.7M174.6 67.1h1M194.1 67.2h.5M163.8 67.4h.5M234.9 67.1h.7M209.9 67.3h.6M203.8 67.4h.6M175.6 67.5h.5M202.8 66.9h.6M210.7 67.3h.5M236.2 67.3h.5M195.2 68.2h.7M217.8 68.3h.5M234 68.3h.5M182.7 67.7h1M209.5 68.1h.6M241.1 68.2h.6M218.4 68.5h1M207.2 68.1h.6M183.3 68.3h.8M228.3 68.1h.8M164 68.4h1M162.7 68.4h1M233.4 68.2h.5M193.7 67.8h1M208.2 68.1h.5M171.2 68h.7M185.8 68.4h1M236.5 68h.6M205.4 68h1M234.2 69.2h.8M200.2 69h.5M226.5 69.3h.7M208 69.4h.8M223.6 69.5h.6M184 69.4h.6M240.2 69.4h.7M232.6 68.7h.6M176.8 69h.8M193 68.8h.8M189.4 69.5h.7M237.3 68.6h.7M211 69.2h.7M176.7 69h.6M188 69h.8M182.1 69h1M200.2 69.4h.5M206.7 69.4h1M230 68.7h.8M190.3 69.7h.8M193.1 70h.8M225.2 70h.8M193.4 69.9h.8M192.5 69.8h1M166.1 69.9h.8M230.4 69.7h.6M201.5 70.3h.5M179.2 70.1h.8M241.3 69.6h1M216.2 69.7h1M205.7 70.5h.7M197.8 70.5h.5M238.2 69.7h.6M241.4 69.9h.7M189.3 70.3h.8M176.5 69.8h.7M199.6 70.4h.7M169.5 70.2h1M163.7 69.7h.6M206.2 70.9h.6M222.2 71.3h.8M198 71.5h.8M203.7 70.6h1M195.8 71.2h.5M166 71h.7M169.8 70.9h1M199.9 71.5h.8M230.9 70.8h1M214.2 71h.8M232.4 70.8h.6M201.4 71.4h.8M214.3 71.2h.6M233.2 71.1h.8M184.8 71.5h.5M175.9 71h.7M183.3 70.6h1M163.9 71.2h.7M175.6 71h.8M220.7 72.1h1M193.9 72.1h.5M201.6 72.3h.6M191.5 72.5h.7M200.9 71.7h1M177.5 72.2h.6M227.9 72.3h.7M186.5 72.2h1M165.9 71.9h.6M203.2 72h.7M167 72.1h.8M232.2 72.4h.8M211.9 71.8h.6M172.1 72h.6M212.2 72.2h.8M207.9 72.1h.5M229.7 72.1h.8M219.4 72.2h1M190.8 72.3h.6M194.5 73.3h.8M211.7 72.6h.7M236.9 73.2h.7M190.9 73.6h.6M178 73.4h.7M236.8 72.9h.5M220.3 72.7h.7M188.2 73.4h1M179.9 73.3h.7M200.8 72.9h.5M212.4 72.6h1M228.4 73.3h.8M215.7 73h.5M213.4 72.9h.6M235.6 73.6h.5M232.8 73.6h.5M200.1 73.1h1M208 73.6h.8M239.7 73h.5M175.9 73.8h.6M190.8 74.3h1M171.7 73.6h1M172.4 74.1h.8M187.6 74.2h1M165.4 73.8h.7M235 74h1M180.1 74.5h1M223.1 74h.8M175.2 74.3h.6M200.4 73.7h.5M169.8 74.5h.6M228.6 74.2h.5M215.3 74.3h1M227.2 74.2h.7M192.1 74h1M220.3 74.3h.7M237.5 73.9h.7M170.2 73.9h.8M181.7 74.7h.8M214.9 75.4h1M178.7 75.1h.8M241.4 74.7h.6M184.1 74.8h.5M189 74.9h.5M220.1 75h.8M171.2 75.6h1M221.5 74.7h.6M202.5 74.8h.5M184.1 74.8h1M202.6 75.6h1M165.2 74.8h.6M206.4 74.7h.7M213 75.1h.5M241.6 74.7h.6M175.8 75.1h.6M231.1 75.1h.6M235.8 76.1h.5M208.5 76.6h.5M179 76.3h1M186.5 76.5h.8M220.2 76.3h.7M177.1 76.1h.8M181.1 76.5h.6M214.8 75.7h1M241.9 76.5h.5M202.9 75.8h.5M182.1 76.5h1M216.5 76h.7M197 76h.7M211.9 76h.8M162.7 75.9h.6M169.6 75.8h1M188.7 76h.7M204.6 75.7h.5M164.5 76.1h.8M215.4 77.2h1M232.1 77.5h.6M179.2 76.7h.5M203.8 76.8h.6M219.8 76.8h.6M207.3 77.3h.7M241.8 77h.5M201.1 77.6h1M229.1 77.6h.7M183.4 77.2h.7M221.8 76.8h.5M184.6 77.1h.5M242.4 77.2h.6M169.7 77h.5M205.5 77.1h.7M216.1 77.6h.6M209.2 76.9h.6M208 76.9h.7M235.5 78.3h.8M200.9 78.4h.7M222.6 78.2h.8M203.9 77.6h.7M239.3 78.4h1M221 78.4h.8M180.1 77.7h.8M178.8 78.4h.8M167.8 77.7h.5M232.7 78.2h.5M189.7 78.6h.5M189.4 78.4h.7M162.4 77.6h.5M180.9 77.8h.6M187.8 77.8h.7M227.1 78.5h.6M182.5 78.5h.5M239 77.7h.5M168.9 79.3h.8M167.6 78.9h.6M219.1 78.7h.6M200.1 78.7h.8M190.2 78.8h.7M234 79.2h.5M232.3 78.7h1M183.2 79.4h.6M203.2 79.1h.6M175.8 79.6h.6M237 79.3h.7M193.9 79.5h.8M237.3 79.4h.8M213.6 78.7h1M172.4 78.7h.8M164.7 78.9h.8M196.4 79.4h.6M221.3 78.7h1M189.9 79.6h1M185.1 80.6h1M167.8 80.5h.5M203.3 80h1M213.4 80.3h.7M161.8 79.7h1M222.1 80.4h.7M217.2 79.9h.6M173 80.1h.8M182.6 80h.7M217.5 80.6h.7M176.3 80h.7M216.2 80h.7M227.9 79.8h.7M213.5 80.2h1M207.9 79.9h.8M196.6 79.8h.8M209.1 80.5h.7M176.7 80.8h.5M224.5 80.7h.7M205 81.5h.6M177.7 80.7h.7M190.8 80.7h.5M181.3 80.7h.7M183.7 81.2h.6M211.7 81.3h1M174.5 80.8h.6M197.7 81.2h.5M178.8 80.7h1M197.8 81.1h.7M233.7 81.2h.8M208.5 81.4h.7M173.3 81.6h.6M208.6 80.6h.7M196.7 81.1h.8M185.5 81.8h.5M221.9 81.8h1M184.8 81.9h.8M177.2 81.6h.8M198.3 82.3h1M228.1 81.9h.6M175 81.8h1M181.5 81.7h.6M242.1 82.5h.7M206.5 82.1h.6M212.6 82.3h1M163.1 81.9h.7M164.6 81.9h.6M195.2 81.8h.6M180.1 82.5h1M204.4 82.3h.5M223.9 81.8h.7M229 83.4h.8M220.3 83.4h.7M171.8 83.6h1M196.9 83h.5M197.3 82.9h1M166.2 82.8h1M188.9 83.1h.7M201.4 83.2h.8M170.8 82.8h1M213.5 83.1h1M221.1 83.5h.5M241.9 83.3h.6M235.9 83.3h.7M161.5 82.9h.5M185.2 83h.8M200.5 83.2h.5M176.2 82.7h.7M220.3 83.7h1M164.3 84.2h1M239.5 83.7h.6M167.8 83.7h.5M209.3 83.7h.8M237.8 84.5h.6M224.9 84.3h.7M212.7 83.6h1M193.2 84.5h.5M186.6 83.7h.7M180.8 83.7h1M229.3 84.5h1M184.2 84h.7M192 84h.5M227.4 83.9h1M162.2 83.9h.8M234.2 83.7h.8M234.1 85.4h1M218.9 84.7h.6M217.2 85h.7M186 84.7h.5M187.3 85.3h1M237.4 85.4h.5M230.2 85.3h.8M209.2 85.4h.7M210.3 85.4h.8M222.3 84.7h1M212.6 85.4h.8M241.1 84.6h.6M209.1 85h.8M195.4 85h.5M242.3 85.3h.7M165.6 84.7h.5M239.4 85.7h.8M198.9 86.4h.6M175.8 86h.8M230.4 86.5h1M217.5 85.9h.5M190.6 86.3h1M210.8 86.5h.7M239.9 86.5h.6M174.8 86.1h.8M172.9 85.7h.7M212.6 86.5h1M229.4 86.5h.8M184.6 86.3h.6M208.2 86h.6M191 86.1h.7M203.5 86.4h.6M175.4 85.8h.6M192.2 86.6h.8M178.4 86.7h.6M173.8 87.2h.7M225 86.7h1M208.3 87h.7M229.4 87.2h.6M174.9 87.3h.5M207.1 87h.6M165.1 87.2h.6M240.2 87h.8M185.3 87.2h.5M184.5 87.5h1M223.7 86.6h.5M196.8 87.3h.8M173.5 87.1h.6M184.8 86.7h.7M194.5 87h.5M179.3 88.5h.8M199.8 87.9h.8M204.7 88.4h.7M225.5 88.1h.7M161.9 87.9h1M231.7 87.7h.5M183.8 88.3h1M182.2 88h.7M213 88.4h.8M231.5 87.7h.8M220 87.8h.5M241.4 87.9h.5M169.1 87.8h.6M234.6 88.5h.7M219.1 88.5h1M222.2 88h.6M226 88.4h.6M207 89.6h.6M237.6 88.9h.6M179.1 89.2h.6M181.5 88.8h.6M167.1 88.8h.7M176.4 89.5h.7M179.1 89.2h.5M168.6 88.9h.8M201.1 89.1h.6M201.2 89.5h.7M209.7 89.2h.6M178.3 88.9h.5M231.5 89.4h.7M216.9 89.5h.5M201 89.1h.5M216.2 88.8h.8M192.5 88.8h1M171.9 89.8h.7M206 89.7h.5M182.4 90.4h.7M178.4 90.2h.6M187.5 90.6h.6M226.9 90h.6M205.3 90h.7M196.5 89.6h1M230.3 89.7h.6M182 89.9h.7M227.6 89.6h.5M230.3 90.5h1M174 89.9h.5M181 89.9h.6M206.2 90.1h.8M241.1 90h.5M161.6 91.3h.5M214.1 91h.8M240.7 91.1h.8M191.9 91.1h.5M184.7 91.1h.6M172.4 90.9h.8M201.2 91.5h.7M172.6 91.6h.6M229.9 91.1h.8M229 90.9h.7M192.1 91.3h.6M189.4 91.2h.5M181.1 91.5h.5M208.8 90.6h.6M198.3 91.3h.6M217.2 91.5h.5M194.9 91.7h.8M160.9 91.9h.5M173.3 92.3h.5M199 92.4h1M188 92.6h.8M175.7 92.2h.6M223 91.8h.8M205.7 91.7h.7M169.1 92.3h.5M196 92.5h.7M233.8 92.3h.6M210.1 92.2h.7M228.2 91.6h1M169.7 92h.8M164.3 91.8h.7M194.1 91.6h1M194.4 92.8h.7M214 93.2h.8M183.4 92.8h.5M183.1 93.1h.5M233.9 93.5h.6M197.3 93h.8M205.9 93h.6M187.5 93.1h.8M241.6 93.4h.6M165.8 93.4h1M187.5 92.7h.5M219.7 93.3h.8M225.9 93.2h1M209 92.8h.5M170.9 93.5h1M170.3 93h.6M212.8 93.9h.5M198.5 94.5h.8M173.4 94.1h.5M199 94.5h.5M185.7 93.8h.6M212.7 94h.7M213.9 93.7h.5M238.2 93.8h1M202.7 93.8h.5M180.6 94.2h1M161.5 94.4h.6M238.5 93.6h.8M239.1 94.5h.5M218.4 93.8h.8M236.1 94h1M235.7 94.2h.5M196.7 94.6h.5M185.4 95h.8M161 94.9h.6M171.9 94.9h.8M201.2 95.4h.7M189.3 94.9h1M179.8 95.1h1M239.4 95.1h.5M217.8 94.9h.7M161.3 94.7h.7M231.8 95.3h.8M171.3 95h1M183.3 94.8h.8M165.4 95.2h1M236 95h.6M191.8 95.4h.7M184.5 96.5h.7M172.2 96.1h.7M241.5 95.9h.6M169 96.5h.6M176.7 96.2h.5M188 96.2h.5M236.1 96.2h.8M170.8 96.3h.8M226.9 96.2h.8M228.7 96.5h.6M219.7 96.3h.6M172.4 95.9h.7M218.8 96.1h1M237.1 96h.5M229.5 96.4h.7M190.9 96.2h.7M215.6 97h.7M166.4 96.9h.6M222.4 96.6h.8M200.1 97.3h1M204.7 96.7h.7M201.3 97.4h.5M225.4 96.9h.8M211.7 97.1h.6M206.6 96.8h.7M185.6 97h.5M208.2 96.9h1M197.2 97.1h.7M174.1 96.9h.6M185.4 97h.5M196.8 97.4h.8M219.3 97.7h1M204.6 98h1M225.5 98.3h.5M219.2 98.6h.5M203.4 97.6h1M215.4 98.4h.7M224.1 98.2h1M204.7 98.2h.6M228.1 98.1h1M238.1 97.9h.6M210.7 97.8h.7M214.8 98h.5M170 98.5h1M175.4 98.3h1M227.8 98.1h.8M198.5 99.3h.5M172.6 98.8h.7M220.6 98.8h1M234.7 99.6h1M164.2 99.2h.8M181.4 98.9h.6M232.5 98.7h.7M215.1 99.4h1M202.9 99h.5M218.8 98.9h.5M207.7 99.1h1M239.4 98.7h.5M178.2 98.9h1M164.2 99.2h.5M233 98.9h1M226 99.9h.7M237 99.9h.8M171.2 100h.7M235.6 99.9h1M175.5 100.5h.8M230.6 99.7h.5M185.9 99.8h.7M160.8 99.9h.6M182.9 99.6h1M186.3 100.2h1M193.3 99.8h.7M228.7 99.8h1M186.9 100.6h.7M179.1 99.7h1M208.9 100.3h.6M227.7 101.2h.7M196.1 101.6h.6M176.2 100.7h1M204 101.1h1M161.1 101.2h.8M197.4 101.2h.7M174 100.9h.6M225.4 101.5h.5M236.9 101h.7M185 100.9h.8M215.8 100.9h.7M197.3 100.7h.8M191.9 101.5h.6M169.6 100.8h1M191.5 101.9h.5M186.2 102.1h.8M165.9 102h.7M187.4 101.9h.8M217.5 102.2h.5M166.5 101.8h.6M211.5 101.6h1M237.7 101.9h.6M169.9 101.7h.5M236.6 102.5h1M234 101.7h.6M165.9 102.3h.7M241 101.9h.8M187.5 102h.8M226.4 103.5h.8M227.3 102.7h.6M165.2 102.8h1M211.2 103.1h.8M220.8 103.6h.6M200.7 103.3h.6M165.8 103.1h.5M204.9 102.6h.5M188.6 102.8h.8M166.1 103.6h1M193.3 103.3h.6M236.6 103.2h.6M166.2 103.5h1M162.4 102.8h.8M162.7 103.2h.5M171.1 104h.5M202.2 104.6h.6M236.4 104.1h.6M161.9 103.7h.6M232 104.3h.8M168.9 104.4h.6M229 103.8h.6M235.6 104h.6M210.2 103.8h.6M177.6 104.3h.6M183.8 103.7h.7M204.8 103.9h1M234.5 103.7h.7M186.9 103.9h.6M192.4 105.1h.8M193.5 104.7h.7M206.1 105.3h.8M208.1 105h.8M201 104.7h1M172.1 105h.5M185 105.6h.8M176.6 105h.8M204.7 105.4h1M185 104.7h.8M224.7 104.8h.8M204.4 104.7h.6M220.5 105.1h.5M194.3 104.7h.6M206.2 106.4h.6M161.4 106.2h.8M234.3 106.4h.6M192.1 106.1h.5M217.5 105.8h.5M169.1 106.6h.6M223.1 106.1h.5M241.2 105.8h.5M193.4 106.4h.6M230.4 106.1h.6M229.6 106.5h.8M169.4 106.1h.5M184.8 106h1M234 106.4h.7M220.6 107h.6M193.7 106.9h1M165.8 107.2h.5M229.2 106.9h1M209.4 107.5h1M235.4 106.8h.7M229.5 106.8h.5M174.8 107.2h1M195.4 107.4h.8M174.5 106.9h.6M182.4 107.3h1M186 107.4h.6M163.5 107.1h.6M220.8 107.2h.8M229.5 107.8h1M172 107.8h1M236.8 108.1h.6M237 107.8h.6M205.3 107.9h.5M196.6 108h.7M198 107.9h.5M195.2 108.5h.7M171.5 107.7h.7M228 108.4h.5M210.9 108h.5M186.6 108h.5M232.6 108.1h.6M198.7 109.1h.6M189.2 109.6h.7M226 108.8h1M183.9 109.6h.6M168.3 108.7h.6M242.1 108.7h.8M206.8 108.8h1M225 109.5h.8M212.3 108.6h.6M241.3 109.1h.6M181.7 109.3h1M167.5 109.3h.8M198 109h.8M241.2 110.2h.7M226.4 109.8h1M176.4 110.4h.8M221.1 109.6h.8M179.2 109.8h.5M232.1 109.8h.6M182.7 110.4h.5M174.7 110.4h.5M164.9 110.4h.7M210.6 110.5h1M169.3 110.5h.6M233.7 110.1h.5M166.1 110.2h1M218.1 110.7h.6M219.4 110.7h1M232.2 111.5h.7M162.5 111.3h1M225.5 111.1h1M184.8 110.9h.8M222 111.1h.5M187 111.4h.5M169.5 110.8h.6M227.9 110.8h.7M227.3 111.5h.6M168 111.4h.7M236.4 111.4h.5M163.6 111h.5M169.7 112h1M211.2 111.8h1M232.8 112h.7M239.1 112.1h.5M177.1 112.2h.8M219.5 112h.6M201.4 112.4h.8M176.7 111.9h.5M194.1 112.3h.6M196.8 112.3h.5M174.1 112.3h1M168.5 112.2h.6M172.3 112.2h.5M232.6 112.7h.5M220.4 112.7h.8M165.8 113.3h.8M212.9 113h1M170.3 112.7h1M191.4 113.4h.8M168.9 112.8h.7M195.4 113.5h.7M167.7 113.4h.6M223.3 113.3h.7M195.8 113h.7M215.1 113h1M186.1 113.1h.8M228.9 114.2h.7M241.3 114.1h1M233.6 114.3h.8M196.1 114.4h.7M219 113.6h.5M185.2 114.1h.5M177.7 113.7h.7M163.2 113.9h.7M164.1 114.4h.8M172.1 113.8h.6M193 114.2h1M180.8 113.6h.5M201.7 114.3h.5M236.1 115.1h.5M182.8 115.6h.7M186.2 115.4h.5M209.7 114.9h1M229.1 115.1h1M189.4 114.8h1M240.6 115.6h1M176.1 115.3h1M185.4 114.9h.7M242.3 115h.6M216.9 115.2h.8M191.5 114.7h1M239 116.3h.5M180.6 115.8h1M207.3 115.9h.6M210.2 116.4h.7M173.5 116h.6M195.7 116.4h1M205.3 116.1h.6M205.8 115.9h.5M232.7 115.7h.6M238.9 115.8h.5M181.9 115.8h.6M212.8 116.4h.8M178.6 117.1h.8M201.1 116.7h.5M220.2 117.1h.5M168.1 117.2h.5M202.1 117h1M185.7 116.6h.5M170.4 117.3h.7M213.2 117h.7M212.3 116.9h.7M194.2 117.6h.5M241.5 117.4h.8M183.5 116.8h.5M202 116.8h.8M166.3 118.4h.6M223.1 118.3h.5M190.7 118.5h.6M177.9 117.8h.6M212.9 118.1h1M231.3 118.1h.8M183.8 118.3h.8M200.1 118.1h.7M174.3 118.4h1M179 118.1h1M212.3 118.6h1M229.6 118.2h.7M199.7 119.1h.5M219.1 119.4h.7M228.6 118.7h.6M169.9 119.2h.6M178 118.8h.7M185.7 118.8h.6M172.9 118.7h.8M184.4 118.7h.5M174.7 119h1M177.2 119.4h.6M224.7 119.3h.8M233 119.1h.7M165.6 119h.5M195.3 120.2h1M234.6 120.5h1M204.9 120.1h.8M202 120.2h.6M172.2 120h.6M217.1 119.8h.8M164.3 120h1M214.6 119.8h.8M226 120.2h.6M192.8 120.4h.7M208.4 120.5h.7M198.3 120.6h.5M223.2 121.5h1M235 121.5h.5M184.1 121.3h.7M184.3 121.1h1M166 121.5h.5M241.6 121.4h.6M233.1 121.4h.7M207.2 121h1M190 121.5h.8M240.2 120.9h.7M237.6 121.2h.8M219.1 121.3h.8M211.1 121.9h.6M188.6 122.6h.8M179.7 121.6h.7M173.5 122.6h1M209.8 121.7h.7M227.5 122.1h.6M194.6 121.8h.6M166 121.9h.8M164.2 121.8h.6M198.9 121.7h1M212.3 121.9h.5M167.3 122.8h.8M191.8 122.8h.5M206.3 123.2h1M205.1 123.2h1M210.7 123.4h.6M177 123.4h.7M166.4 123.4h.6M227.5 123h.8M233.8 123.3h.6M193.4 122.9h1M228.8 122.7h.7M177.9 123.5h.7M190.7 123.8h.8M190.6 123.8h1M212.2 124.4h.6M175.1 124.1h.8M188 124h.6M224.3 124.4h.6M216.8 123.9h.8M193.1 124.3h.6M213.8 124.4h.5M189.8 124.6h1M235.2 123.8h.6M172.3 124.2h.7M240.3 125h.8M216.5 124.8h.7M172.3 125.4h.6M210.7 124.7h.8M184.4 124.8h.5M220.7 125.3h.7M214.2 124.9h.8M214.3 124.8h.6M228.9 125.3h1M225.4 124.7h.8M197 124.7h.5M167.7 126.1h.6M237.4 126.2h.8M172.2 126.5h.6M212 126.2h1M226.4 126h.5M232.7 126.2h.6M179.8 125.9h.7M173.1 126.6h.5M237.6 126h.8M202.6 125.6h1M228 126h.7M217.8 126.9h1M191 126.6h.6M227.5 127.2h1M204.1 127.6h.8M181.3 127.2h.7M163.4 127h.5M173.2 127.2h.6M186.7 126.6h.6M192.3 127.5h.7M221.6 127.1h.5M211.8 127.3h.6M199.7 128.1h1M197 127.8h.5M228.2 127.8h.6M213.1 128.3h.6M224.1 128.4h1M174.7 128.4h.5M179.2 128.4h.7M193.9 128.3h.7M229.7 128.2h.6M222.2 127.9h.5M171.9 128.1h.7M161.2 129.1h1M169.6 128.8h.6M203 129h.6M183 129.1h.6M186.4 129.3h.7M228.7 129.5h1M235 129.6h.6M181.5 128.7h.7M191.6 128.9h.8M184.6 128.8h.5M167.8 128.7h.6M217.4 129.8h.7M238 129.7h1M184.6 129.7h.5M184.4 130.3h.7M222.6 129.9h1M165.9 129.8h.8M197.3 130.3h.7M205.4 129.9h.8M200.3 130.1h.5M228.5 130.2h.7M234.6 129.9h.6M205.3 131.2h.6M184.3 131.5h.8M184.4 131h1M202.8 131.4h1M197.7 130.9h.5M173.9 130.9h.7M171.1 131.3h.5M192.5 131.6h1M167.5 130.8h.7M208.8 131h1M192.8 130.6h1M228.2 131.7h.8M235.3 132.2h.5M236.4 131.7h1M191 131.8h.5M214.3 132.1h.6M188.5 131.8h1M191.3 132.3h1M182.8 132.4h.6M198.7 132.1h.8M203.6 132.4h1M212.5 131.8h.5M173.2 132.7h1M227.8 132.8h1M236.3 133.6h1M225.6 132.8h.5M240.6 133.2h.7M206.7 133.3h.6M164.2 133.2h.8M206.9 132.6h.8M182.9 133h.5M181.8 133h.8M209.4 132.8h.8M201.5 134.1h.5M237.5 134.1h1M209.2 133.7h1M164.6 134.5h1M220.4 134h.6M177.8 133.9h.7M183.4 134.4h1M194.6 133.7h.6M173.4 133.9h.7M185.4 134.4h.5M230.8 134.5h1M170.5 134.9h.6M232.2 135.5h.8M222.5 135.2h.6M196.3 135.3h1M166.9 135.4h1M217.9 134.9h.8M222.6 135.1h1M186.5 134.9h.6M221.5 135.6h.5M178.9 135.4h1M206 135.9h.8M180.6 136.5h1M169.2 135.6h1M186.3 135.6h.7M210.9 136.5h.7M240.7 136.2h.7M239.7 135.8h.6M189.8 135.9h.5M190.5 135.9h.6M194.5 136.4h.6M205.8 135.6h.7M215.2 136.8h.8M203.5 137.4h.5M215.1 137.4h.6M162.5 136.9h.6M172.6 137h.5M188.8 136.6h.7M229.9 137.1h.7M170.4 137.6h.5M212.1 137.1h1M223.9 137h.8M222.5 137.8h.5M225.7 138.5h.8M221.3 137.8h1M183.3 138.4h.8M226.8 138.1h.6M169.5 138.1h.5M162.8 138.3h.7M170.2 138.1h.6M208.7 138.6h.8M161.7 138.5h.6M225.6 138.9h.6M167.8 139.5h.8M239.9 139.1h.6M177.2 139.1h.5M232.8 139.4h1M213 139.1h.7M227.3 139.1h.7M219 138.7h1M226.1 138.8h.7M218 139.5h.6M229.7 139.7h.7M167.8 140.3h.5M178.9 140.1h.5M231.6 140.6h.7M174.1 139.9h.7M230 140.4h.7M217.2 139.7h.8M200.1 139.9h.6M184.9 139.7h.5M212.1 140.5h.5M170.9 140.9h.8M163.8 141.2h1M227.6 141h.5M198.9 140.8h1M208.8 140.8h.8M183.4 141.4h.7M185.3 141.3h.7M183.9 140.6h.7M219.2 140.8h.7M230.6 141.4h1M229.9 142.3h1M226.1 141.8h.6M221.9 142.2h.8M216.9 142.2h.7M227.5 142.2h.6M182.4 142.3h.8M177.9 142.4h.6M167.5 142.1h.7M199.2 142.4h1M233 142.2h.6M179 142.7h.8M186.9 143h1M223.8 142.6h.5M163.4 143.6h.6M197.2 143.4h.6M215.8 143h.5M169.6 143.1h.7M229.3 143.5h.5M194 143.6h1M177 143.1h.6M227.4 143.9h.6M187.9 143.7h.7M213.3 144.1h1M235 144.5h.6M221.1 143.9h.8M201.4 143.7h.8M169.1 144.3h.6M205.2 144.3h1M177.2 144.2h.5M214.3 145.3h1M229.4 144.7h.7M184.7 145.3h1M239.2 144.9h.7M213.2 145.6h1M180.3 144.6h.6M231.1 145.5h1M237.8 144.6h.7M171.6 145.5h1M234.2 146.5h.8M213.6 145.7h.7M173.2 146.1h.6M235.3 146.5h.8M162.7 146h.5M179.8 145.8h1M181.2 146h.8M214.5 146.3h.7M210.2 146.1h.7M186.6 147.5h.5M212.4 147.3h.6M210.8 147.4h.7M176.2 147.5h.8M173.6 147.6h.7M175.7 147.2h.5M201.2 147.1h.5M173.8 146.7h1M183.8 147h1M222.6 146.7h1M165.9 148h.5M183.6 148.3h.5M184.9 148h.5M224.9 148.2h1M214.3 148.4h.6M174.3 148.6h.6M225.5 147.8h.8M172.5 147.7h.8M204.1 148h.5M206.2 148.4h.6M206.4 148.9h.8M207.9 148.9h.6M176.9 149.5h.5M239.7 148.6h1M164.8 148.8h.5M194.2 148.7h.7M226.4 149.5h.7M204.2 149.1h.6M198.8 148.8h.6M178.8 150.2h.6M236 150.2h.5M235.1 149.8h.7M174.1 150h.6M237.1 150.4h.5M220.9 150h1M226.5 150h.7M228.3 149.9h.8M160.8 149.8h1M222.5 150.8h1M184.7 151.4h.5M164.5 151.2h.6M233.6 151.2h.5M231.2 151.2h.8M232.8 151.1h.5M203.9 151.1h.5M172.3 151.4h1M200.7 151h.7M226.3 152.2h.6M185.1 151.6h.8M231.6 152.1h.8M238.6 151.8h1M188.7 152.3h.6M226.9 152.4h.6M224.8 152.2h.8M182.7 152.6h.5M193.3 152.4h.7M196.8 152.9h.7M218.5 153.1h.6M198.6 152.8h.5M167 152.8h.8M225.8 152.9h.7M204.9 152.9h.8M201.1 153.2h.7M219.7 153.1h.5M171.2 153.4h.7M211 153.7h.8M178.4 153.9h.8M224.9 154.3h.6M165.9 154.2h.8M218.3 154.3h.6M161.1 154.4h.6M163.6 153.6h.8M242.1 154.3h.7M188.7 155.5h.5M222.8 155.3h.7M176.1 154.7h.6M162 155.2h1M218.4 154.9h1M202.4 155.5h.8M208.1 155.1h.7M231.4 155.2h.6M168.1 155.9h.8M195 156.2h.5M237.3 156h.8M163.9 156.2h.8M172.2 156h1M230.3 156h.6M179.2 156.3h1M179.1 155.8h.6M165.8 157.6h.6M164.3 157.6h1M214.9 157.5h.8M233 157.5h.6M224.2 156.7h1M195 157.3h.5M184.3 157.1h1M207.9 157.3h.7M198.5 157.4h.7M239.5 158.3h.5M208.2 158.5h.8M196 158.2h.7M177.1 158.6h1M167.7 157.9h.7M199.7 157.9h1M203.8 158.3h.5M162.1 158.2h.6M230.6 159.1h.8M241.2 159h.8M235.5 159.1h1M204 159h.7M194.8 158.7h.8M208.6 159.4h1M224.9 159.3h.8M170.6 159.4h.6M240.5 160.4h1M201.5 159.9h.5M181.2 160.1h.6M215.7 160.2h1M167.5 160.2h.7M218.6 160.2h1M167.6 160h.6M215.6 159.8h1M237.6 160.7h1M198.3 161.4h.7M215.3 161.6h.8M238 161.1h1M209.8 161.3h.6M201 161.4h.5M222.7 160.7h.8M223.1 160.8h1M209.3 162h1M226.9 161.9h.7M161.2 162h.6M218.2 162.4h1M206.1 161.8h.8M229.4 162.1h.7M206.5 162.5h1M222.6 162.3h.7M175.9 163.3h.7M199.6 163.3h.7M194.2 163.2h.6M161.2 163.1h.6M198.8 163h.7M162.5 163.3h.8M232.6 163.1h.7M193.8 163.1h1M164.8 163.9h.6M223.1 164.5h1M218.6 163.7h.5M172.5 164h.8M168.3 163.7h.8M173.4 163.7h.6M171.1 163.8h.6M199.8 165.5h.8M176 164.6h.6M209.2 165.1h.7M185.8 164.7h.8M177.2 165h.7M200.3 165h.8M181.6 165.6h1M237.9 165.3h.7M165.4 166.4h.7M224.8 166.1h.6M235.3 166.6h.5M239 166.3h1M187.3 166.5h.8M206.8 166.5h.6M196.3 166h.6M167.7 166.4h.6M214.5 167.3h.8M240.2 167.4h.5M231.5 167.2h.7M177.3 166.7h.6M236.7 166.6h.5M180.1 167h.6M205.2 166.9h.5M229.8 167.5h.8M199.6 168.3h1M182.1 167.7h1M176.5 168.2h.8M237.3 168.2h.6M178 168.5h.6M173.9 168.1h.6M163.3 168.6h.8M174.7 167.7h.6M195 168.9h.8M191.9 169.4h.7M177.9 169.1h.6M192.9 169.4h.7M176.2 169.5h.8M231.7 169.5h.5M237.1 169.5h1M164.3 168.8h1M185.4 169.8h.6M178.1 170.3h1M184.5 170.1h1M196.4 169.8h1M233.3 169.6h.7M182.1 169.7h.5M195.1 169.8h.8M216.6 170.3h.5M178.5 171.5h1M164 171.2h.6M170.4 170.8h.7M232.3 171.4h.7M206.6 171.5h1M240.1 171.4h.5M165 171.1h.8M181.7 171.7h.7M188.5 171.6h.8M226.2 172.4h1M201.2 172.2h.8M193.1 171.8h.8M223 171.8h.8M211.1 172.5h.6M175.9 173.5h.5M233.1 173.1h1M220.3 172.7h.7M225.4 173.2h1M224.7 173.5h.8M225.4 173.4h1M175.1 173.2h.5M165.6 173.8h1M187.7 174.3h.8M225 174h1M188.6 174h.7M225.7 174.2h.6M177.9 173.8h1M219.5 173.8h.6M231.6 174.6h1M177.9 174.8h.7M165.2 175.5h.5M241.6 174.8h.6M229 175.6h.7M186.2 175h.7M187.4 175.6h.8M220.5 176.3h.7M228.1 176h.8M170.3 176h.7M171.6 176.6h.5M161.2 176.3h.8M175.6 176.2h.5M212.2 176h.5M184 176.7h.5M216.5 177h.8M170 177.3h.8M204.6 177h.7M241.8 177.6h.8M240.9 177.1h.5M225.8 177.6h.7M188.5 178.4h.5M170.5 177.8h.8M192.5 177.9h.6M184.6 178h.7M166.3 178.6h.5M221.6 177.7h.7M235.8 177.7h.7M214.2 179h.8M192.8 179.6h.6M228 179.5h.6M208.6 179.3h.6M212.8 179.1h1M213.3 179.3h.5M164.4 180.4h.5M229.7 180.3h.8M190.3 180.5h.6M236.6 180.3h.7M235.7 179.7h.8M230 179.7h.6M236.8 181.1h.7M200.9 181.1h.8M184.2 181.1h.7M195.5 181.6h.7M168.1 181.1h.5M215.4 181.2h.5M179.1 181h.6M192.4 181.7h.5M209.6 182.3h.6M234.8 181.6h.6M205.8 182.3h1M172.2 182h1M233.5 182.2h.8M187.4 182.1h.7M222.8 183.1h.5M200.7 183h.5M222.9 183.3h.8M240.3 182.9h.6M211.8 183h.5M189.1 183.3h.6M166.4 183.4h1M177.4 184.4h.8M206.5 183.7h.7M240.2 184.1h.5M237 184.4h.8M183 184h.6M221.9 184.2h1M160.9 185.2h.5M238.6 184.7h.8M187.2 185.5h.7M190.3 184.8h1M169.9 184.9h.8M219.7 185.4h.7M194.1 185.8h.6M210.8 186.3h1M181.8 186.2h1M207.9 186h.6M169.7 186.1h.5M180.4 186.3h1M227 186.8h1M226.5 186.9h.5M196.1 187h1M226.9 186.9h.6M175.9 186.9h.5M225.3 186.8h.5M214 187.7h1M179.2 188.6h.7M166.9 188.6h.8M228 188.3h1M241.6 188.4h.8M177.5 188.2h1M214.1 188.7h1M188.3 188.9h.5M183.3 188.9h1M204.5 189.2h1M196.1 189.5h1M201 189.5h.7M226.1 190.5h.7M203.8 190h.8M206.5 190.6h.6M168.5 189.9h.5M234.2 190.5h.6M222.5 190.1h1M233.3 190.7h.8M207.8 191.1h.6M233.2 191.1h.8M177 190.8h.5M213.8 191h1M224.4 191.3h.6M237.8 192.2h.6M203.9 192.4h.5M162.2 192.4h1M193 192.3h.6M210 191.6h.5M219.1 192.9h.6M195.3 192.6h.8M226.1 192.9h.5M225.7 192.8h.8M235.3 192.7h.5M241.6 193.9h.7M202.2 193.7h.8M174.8 194h.5M233.6 194.5h1M216 194.1h.7M234.1 195.1h.8M184.8 195.2h.6M205.8 194.9h.6M232.9 195.3h.8M178.9 195h.5M209.7 195.7h.8M197.2 195.7h.8M170.9 195.7h1M181 196.3h.7M207.2 195.9h.8M205.4 197.4h1M187.9 196.8h.7M240.9 197h.5M221.8 197.5h1M218.9 197.3h.5M236.8 198.6h1M161 197.8h.8M231.7 197.9h.8M171.9 198.2h.8M173 198.1h.6M184.8 198.9h.8M220.8 199.4h.7M200.5 199.5h.7M184.4 199.5h.7M193.7 199.6h1M227 200.4h.6M167.4 199.7h.5M170.3 199.9h.5M174.3 199.9h1M183.3 199.9h.7M224.5 200.9h1M184.4 200.9h.6M214.6 201.3h.8M170.2 200.7h.6M174.8 200.7h.8M193.4 202.2h.5M223.7 201.9h1M218.3 201.7h.5M217.9 202.5h.5M169.6 201.9h.6M166.9 203h.7M172.2 203.6h.7M208.6 203.1h.5M225.5 202.9h.8M189.1 204.4h.5M233.4 203.8h.7M217.9 204.4h1M205.6 204.3h.7M185.1 204.8h.5M225.6 204.9h.8M161.4 205.2h1M213.4 205h.6M212.6 205.9h.8M234.2 205.7h.7M207.2 206.3h.7M168 205.7h1M192.6 206.1h.8M196.9 207h.6M215.5 207.1h.6M176.5 207.2h.5M191.8 206.7h1M195.3 207.7h.7M166.3 208.6h.6M208.4 207.9h.7M241.7 207.8h.8M216.6 209.4h.5M236.6 209.2h.7M214.4 209h.5M162.8 209.3h.5M176 209.8h.6M173.4 210.4h.5M189.4 210.6h.8M240.2 210.5h.8M223.6 210.7h.6M182.4 210.8h.8M174.3 210.6h.6M222.9 210.8h.6M173.3 212.2h.5M170.9 212h.7M230 211.9h1M232.8 211.8h1M213.2 213.2h.6M186.6 212.9h.6M184.7 213.4h1M196.3 213.1h.5M183 214.2h.5M237 214.3h.6M166.6 214h.6M180.6 214.3h1M224.5 215.1h.6M217.7 214.7h.7M181.1 214.6h.8M192.6 215.5h.6M208.2 215.7h.6M164.3 216.6h.6M224.9 216.3h1M230.4 216.4h.8M187.2 217.2h.7M168.4 217.2h.5M170 216.7h.7M236.4 216.8h1M167.9 218.5h.5M189.5 218.5h.6M231.9 218.1h.6M192.8 218.4h.7M195.1 218.8h1M169.6 218.7h.8M232.3 219.5h.8M218.2 218.7h.8M163.9 220.5h.6M210.2 220.5h.7M182.6 219.8h.7M183.7 220h1M184.8 220.7h.7M186.6 221.2h1M197.8 220.7h.6M242.5 222.4h.5M210.7 222.5h.8M164.2 221.6h.6M163.4 222.6h.6M161.4 222.8h1M241.4 223.1h.8M228.9 223.3h.8M176.8 224.4h.5M225.7 224h.7M186.4 224.3h.6M217.4 224.3h.6M174.4 225h.5M231.7 225.3h1M241.5 225.5h.7M211.5 226h.7M220.8 226.2h.6M237.1 226.5h.8M171 227.5h.8M163.8 227.4h.5M172.1 227.5h1M236 228.2h.6M238 227.8h.6M162.6 228.5h.8M166.9 229.2h.7M196.9 229.2h.5M191 228.8h.5M241.6 230.4h.7M230.9 230.5h.8M172.6 230.4h.5M227.2 230.9h.6M167.6 231.3h.6M239.4 231.6h.6M242.3 232.4h.6M175.1 231.6h.8M201 232.3h.7M191.8 233.2h.6M176.3 233h.8M201.7 233.5h.6M214.5 233.7h.7M240.2 233.8h.7M231 234.1h.7M180 234.9h1M228.8 235h.7M169.8 236.6h.7M201.2 236.5h1M231.2 236h.6M204.2 236.7h.5M169 237.4h.8M209.8 238h.6M236.1 238.1h.8M175.6 239.5h.5M197.3 239.5h1M230.9 240.2h1M211 240.1h.8M192.2 240.8h.7M219.6 241.1h.7M196.6 242.1h.7M209.5 242h.8M234.4 243.3h1M215.1 243.1h.8M170.3 243.7h.5M190.7 244.1h1M214.4 245.5h1M215.5 245.6h.8M193.3 246.4h1M214.1 246.5h.8M241.3 247.5h.7M225.9 247.1h.6M200 248h.5M224 248.4h1M208.4 248.8h1M197.4 250h1M212.9 250.2h.8M235.5 251.6h.6M200.2 250.7h.5M195.6 252.1h1M206.1 251.7h.6M205.2 252.8h1M217.6 253.1h.7M193.5 254.2h.7M172.7 253.9h.5M206.1 255h1M210.7 255.5h.8M164.6 256.1h.7M240 255.9h.8M182.7 257.1h.8M183.6 257.7h1M226 257.9h.8M209.6 259.2h1M176.4 260.1h.5M208.1 261.1h.5M180 261.2h.8M239.2 262.5h.7M201.2 262.4h.8M216.6 262.8h.8M200.2 263.4h.6M240.4 263.6h.8M208.8 264.1h.7M186.7 264.8h.6M185.2 264.9h.5M218.9 266.3h.6M196.8 266.4h.5M170.5 267.6h1M211 267.3h1M165.8 267.9h.8M163.8 269.1h.5M206 269.7h.5M217.1 271.4h1M192.5 272.5h1M223 273h.8M226.4 274.3h1M174 275.2h.5M167.4 276.6h.6M234 277h1M240.7 277.8h.5M195 278.7h1M241.1 279.7h.5M222.9 280.8h1M182.2 282.4h.8M217.1 283.4h.6M239.4 284.4h.5M180.6 285.3h.6M189 285.8h1M224.6 287.5h.6M225.1 287.8h1M220.6 290.6h.8M181.5 290.9h.7M235.7 291.8h.6M169.5 294.4h.5M237.7 297.3h.7M238.8 297.9h.5M183.8 300.3h.6M200.3 301h1M202.9 302.5h.7M199.7 303.2h1M216.4 304.7h.6M182.3 306.5h.7M236.5 308h.8M222.3 309.5h1M217.6 310.6h.5M200 311.5h.5M226.9 312.5h1M221.3 313.3h1M222.6 313.9h.6M185.2 319h.8M209.1 323.1h1M194.1 324.3h1M222.1 325.4h.8M220.3 327.2h.7" stroke-width="0.7"/><path d="M219.1 6.9h.8M240 7.1h1.5M229.1 7.5h1.5M201.5 7.1h1.2M238 7.1h1.5M231.2 7.8h1M229.7 8.1h1.2M229.6 8.3h1.2M197.3 8.2h1M211.6 8.3h1M196.8 7.9h1.2M237.5 8.9h.8M214.4 8.7h1.5M198.7 8.6h1M196.5 9.5h1.2M203.4 9.6h1.2M202.9 10.1h1.2M238.1 10.5h1.2M221.2 10.1h1M196.7 10.3h1.2M227.9 10.1h.8M226.5 11.4h1M207.7 11.1h1.2M233.1 11.5h1.2M194.7 10.7h1M203.8 10.9h1.2M227.3 11.3h1.5M201.1 12.6h1.2M213.9 11.7h.8M231.4 12h1.5M208.5 11.8h1.2M196.2 11.8h.8M210.9 13.2h1.2M237.1 12.7h.8M194.2 13.3h1M192.1 13.2h1.2M234.5 13h1.2M195.4 12.8h.8M238.9 12.8h1.5M209 14.3h1M238.4 14.2h1.5M221.7 14.5h1M198.6 14.5h1M205 14.4h1.5M236.7 14.4h1.2M210.8 15h1.2M193.7 15.3h1.2M220.8 14.8h1M190.9 14.6h.8M220.8 15.5h1.5M219.9 14.7h1M222.7 15.2h1M202.7 16h1M232.3 16.4h1M191.4 16h.8M203.7 15.7h1M240.6 16.2h1M215.1 17.4h1.5M235 17.3h1M214.6 17h1.5M225.7 17.4h1.2M207.7 17.5h.8M191.6 17.8h1M227.1 18.4h1.2M201.2 18h1.2M223 18.1h.8M198.2 17.9h1.5M228.9 18.9h1.2M205 18.8h1.5M194.1 18.9h1.2M212.5 19h1.5M212.9 19h1M196.6 18.7h1M203 20.1h1.5M230.5 20.6h1.2M209.8 19.9h1M236.9 20.1h1.2M205.6 20.6h1M229.4 20.2h1M191.5 19.9h1M209.2 21.3h1.5M218.3 21h1.2M224.4 21.2h.8M213.9 21.6h1.5M211.6 20.8h.8M217.2 21.8h1M229.9 21.9h1M219.6 22.5h1.2M206.9 22.3h1.2M229.1 22.2h1M222.1 23h1M220.8 23.1h1M207.2 22.7h1.2M228.2 23.5h1.5M201.5 22.7h1M237.6 23.8h1.5M234.8 23.8h.8M217.6 23.8h.8M214 24.2h1M227.1 24.6h.8M214.1 23.9h1.5M207.4 25.4h.8M222.7 24.6h1.2M226 24.7h1M220.7 24.8h1.5M192 25.2h1M203.4 24.6h1.2M222.4 25.8h1.5M196.6 26.3h1.2M191.4 25.8h1.5M195.3 25.9h.8M235.2 25.9h1M199.4 26.8h1M201.9 27h1M205.3 27.6h1.2M236.5 28.1h1.5M213.5 28.5h1.5M208.9 28.3h1.2M197.6 29.6h1M238.6 29.2h1.2M174.8 29.4h1.5M162 28.9h1.5M168.4 29.5h.8M205.3 29.6h1.5M161.1 28.8h.8M186.6 29.5h1M238.6 29.9h1.2M211.9 30.4h.8M187.3 29.7h.8M171.7 30.4h1M235 29.8h1.5M189 29.6h1.2M224.4 30.5h1M171.8 29.8h1.5M191.9 31.3h1.2M162.5 31.2h.8M237.6 30.9h1.5M222.1 31.5h1.5M192.8 30.9h1.5M202.8 30.9h.8M182.8 31.3h1.5M224.1 31.8h1M173 32h1.2M236.1 31.6h1M188.8 32.2h.8M207.8 32.3h1M229.7 32.4h1.2M224.4 32.5h1.2M179.8 32.7h.8M216.1 33h1.5M172.5 32.7h1.5M198.1 33.1h1M202.5 32.8h1.2M208 32.7h1M200.7 33.1h1M226.8 33.2h1.5M185.3 33.6h.8M189.5 33.8h1.2M234.6 34.3h1.2M230.4 33.7h1.5M180.3 33.8h1.5M166.8 33.9h1.5M221.1 34.4h1.2M182.7 33.7h1.2M192 34.7h1.5M183.3 35h1M203.9 35h.8M216.8 34.8h1.5M199.7 35.4h1.5M201.7 35.1h1.5M210 34.9h1.2M175 35.1h.8M196.3 36.2h.8M177.4 36.5h1.5M232.9 35.7h1.2M180.8 36.1h.8M191 35.8h1.5M230.5 36h1.5M198.1 36.6h1M225.5 36h1.2M184.3 37.6h1.2M223 36.9h1.2M200.4 37.2h1M209.1 37.1h1.5M178.9 37h.8M161.7 36.7h.8M220.1 37.2h1M195.7 37h1M207.8 38.3h.8M191.4 37.8h1M169.8 38.2h1.2M161.6 38.1h1M173.3 37.9h1.5M176.6 38.1h.8M228.7 38.5h1.2M178.4 38.5h1.5M189.9 39.2h1.2M209 38.9h1M221.8 38.7h1M171.7 39.2h1.2M221.1 38.9h1.5M237.1 39.3h.8M168.4 39h.8M237.8 40.2h.8M168.4 40.5h1.5M184.9 40.6h.8M228.6 39.8h1M235.2 40.5h1M224.4 39.6h1.2M220.9 40.3h1M224.2 39.8h1.5M182.5 41.5h1.5M222.8 40.6h1.2M234.2 41.3h1.5M189 41.3h1.5M231.9 41.4h1.5M177.2 40.7h1.2M165.5 41.2h1.2M221.1 41.8h1.5M197.4 41.7h1.2M211.6 41.9h1.2M212.2 42.1h1.5M225.3 41.7h1.2M224.9 41.9h1.2M215.3 42.6h1.2M171.2 42.4h1M164.4 43.1h1.5M176 42.7h1M213.8 43.3h1.2M239.8 43.1h.8M179.5 42.9h1.2M219.7 43.3h1.5M200.5 43.1h1.5M184.7 43h.8M194.8 44.4h.8M239.5 44.5h1M189.1 43.7h1.2M179.8 43.7h1M210.9 44.3h1.2M231 44.5h1.5M193 44.6h1.2M199.6 45.3h1.2M208.9 45.3h.8M202 45.4h1.5M161.9 45.3h.8M200.7 44.9h.8M204.5 45.3h1.5M201.7 45.6h1M227.3 46.5h1M181 46.6h1.2M225.9 45.7h.8M178.7 46.3h1M232.8 46h.8M219.5 45.8h.8M177.7 46.1h1M192.7 47.5h1.2M174.3 46.8h1.2M169.6 47.4h.8M229.2 47.3h1M170.1 47.6h1.5M174.7 46.7h1M175.8 47.1h1.5M163.3 47.2h1.2M228 48.3h1M195.1 48h1.2M217.9 47.9h.8M164 47.7h1M201.8 48.1h1.2M199.9 48.2h1.2M219.3 48h1M228.9 49.3h1.5M199.9 48.7h1M182.7 49.3h.8M227.2 49.4h1M186.9 49.5h1.5M237.3 48.9h.8M204.2 49.2h.8M217.9 50.4h.8M222.4 49.7h1.2M168.4 50.1h.8M187.2 50.5h1M179.4 50.6h1.2M237.5 50.4h1.2M238 50.4h.8M204 50.1h1M197.4 50.8h1.2M197.9 51.4h1.2M210.8 51.5h1.5M176 51.1h1.2M213 51.6h1M166.7 51.4h1.2M215.9 51.4h1M167.1 52.1h.8M227.6 52.6h1.2M179.1 51.6h1.2M241.3 51.6h1.2M195.3 52.3h1M241 52.3h1.5M211.2 52.3h1M161.7 53.4h1.2M212.9 53h1M202.4 52.9h1M167.9 52.9h1.5M229.7 52.9h1.5M163.4 53h1.2M206 54.5h.8M234.4 53.7h1.5M205.5 54.2h1M171.7 54.2h1M196.8 54.3h1.2M227.4 53.9h.8M203.8 53.7h.8M172.7 55.2h1.5M229.4 55.2h1M174.5 55.1h1.5M188.1 55.2h1.5M174.8 55.3h.8M242.3 54.9h.8M237.8 55.6h1M193.3 55.8h1.2M176.9 56.3h1M161.7 56.2h1.5M164.2 55.7h1.2M181.7 56.4h1M161.3 55.8h1.2M234.3 57.1h1M230.4 57h1M217 57.1h1.2M166.9 56.8h1.2M238.4 57.2h1.2M202.5 56.9h1M221.9 57.8h1M183.8 58.2h1.2M225.8 57.8h1M177.1 58.5h.8M219.8 58.1h1.5M177.6 58.5h1.5M213.4 58.6h1M208.2 59h1.2M220 59.3h1.5M217.2 58.8h.8M183.7 59h1M216.2 59.6h1.5M236.6 58.9h1.2M216.1 59.8h1M233.8 60h1.2M177.3 60.3h1.5M221.5 60.5h1M225.4 60.1h.8M214.2 59.9h1.2M165.5 60.5h.8M232.4 61.2h1.5M172.1 61.3h1M229.1 61.4h.8M210.5 61.3h1.5M190.4 61.2h.8M206.7 61.6h1.5M219.6 61h1.2M199.9 61.8h1M175 62.2h.8M206.3 62.1h1.2M207.5 61.6h1.2M224.7 62.3h.8M196.8 62.2h1.2M235.8 61.7h1M161 62.8h.8M161.4 63.6h1.5M225.6 62.7h1.5M188.1 63.4h.8M206.4 63.5h1M233.5 63.5h.8M228 62.7h.8M224 63.7h1M166.6 63.7h.8M161.8 63.8h1M222.1 63.7h1.5M223 63.6h.8M205.8 63.8h1.5M173.6 65.4h1.5M220.1 64.7h1M220.7 64.9h1.2M221.6 64.9h1M223.2 64.7h.8M174.3 65.4h.8M219.5 66h1M213.3 66.5h1.2M191.8 66.4h1.2M237.3 66.3h1.5M189.8 66h1.5M236.5 65.6h1M165.9 67.5h1.2M229 67.2h1.5M163.3 67.3h.8M217.2 67.1h.8M177 66.7h1.5M229.3 66.7h1.5M174.3 68.5h1M191.7 68.2h1.2M167.7 68.5h1.5M188.3 68.3h1.5M233.2 68.4h1M195.1 67.9h1.5M161.8 69.2h1.2M167.9 69.5h1.2M177.1 68.6h1.5M179.3 69.6h1.5M240.6 69.3h1.5M237.9 69.5h1.2M168.2 70.6h1.2M163.2 70.2h.8M233.2 70.4h1M227.3 70.5h1M219.4 70.3h1.5M210.1 70.4h.8M221.1 70.8h.8M215.3 71h1.5M228.1 70.7h1M195.7 71h1.5M225.2 71.5h.8M168.7 70.8h1.2M178.7 72.5h.8M169.4 71.8h1.2M194.5 71.9h1M225.9 72.1h1M164 72.4h1M201.9 72.4h.8M222.4 73.4h.8M241.7 72.7h1.2M181.1 72.6h1.5M172.1 73.3h.8M230.8 73.2h1.5M231.2 72.9h1.2M174.4 74.1h1.2M162.9 74h1.2M223.7 74.6h1.5M197.2 74.4h1.5M206.3 73.9h1.5M175.1 73.8h1.5M172.9 75.1h1.5M171.7 74.7h1.5M228.9 75.3h1M191.5 75.4h1.5M218.2 75h1.5M165.6 75h1M214.2 75.8h.8M231.3 76.1h.8M191.9 76.2h1.5M182.9 75.7h1M230.2 76.5h1.2M216.1 77.4h1.5M206.5 77.1h1M222.2 77.3h1.5M222.1 76.7h1.2M163.3 76.7h.8M168 78.4h1.5M205.6 78.2h.8M173.6 77.9h1.2M233.5 78.1h1.5M217.4 78.2h1M208.5 79h.8M166.3 79.3h1.2M164.2 78.6h1M201.9 79.4h.8M220.5 79.3h1.2M188.8 80h1M222.2 80.5h1.2M241.2 79.9h1.2M189.4 79.7h1.5M230.8 80.2h1M184.3 80.5h1.2M225 81.1h1.5M239.4 80.8h1.5M229.6 80.6h1.5M185.6 80.7h1.5M166.9 81.6h1.2M227.8 81.7h1.2M240.6 82.5h1.2M198.5 82.3h.8M191.9 81.8h1M189.1 82h1.2M162.5 83.1h1M217.9 83.1h1.2M216.2 83.1h1.2M191.2 82.9h1.5M177.4 83.1h1.2M171.8 84.3h1.2M189.8 83.7h1.5M198.8 84.3h.8M173.5 83.6h1.2M239.9 84h1M187.6 85.5h1M189 85.1h1.2M240.5 84.8h.8M239.4 84.8h1.5M165.2 85.5h.8M230.3 85.7h.8M227.9 85.8h1M224.9 85.7h1.5M182.8 86.3h.8M190.3 86.3h1.5M234.6 86.8h.8M177.4 87.2h.8M198.7 86.7h1.5M214.1 87.4h.8M170.3 86.8h.8M233.9 88h.8M200 87.9h.8M179 88.6h.8M210.5 87.9h1.5M224.4 88h1.5M188.7 89.5h1.2M200.2 88.8h1.5M206.1 88.7h.8M237.9 89.2h1.2M161.2 88.6h.8M198.1 90.5h1.2M170.1 90h1.5M210.6 89.9h1.2M166 89.7h1.2M240.8 89.8h1.5M188.4 91h1.5M213.8 90.8h1.5M214 91.4h1M195.1 91.5h1.2M217.1 91.2h1.5M226.4 92.2h1.5M220.3 91.7h1M197.2 92.4h1.2M203.3 91.7h1.2M235 92.6h1.2M235.5 92.7h.8M231.5 92.6h1M218 93.3h1.2M210.6 93.3h1.2M179 93.2h1.5M219 93.9h.8M215.8 94.5h1.5M198.2 94.4h1M184.7 94.2h.8M222.9 95.2h1M234.1 94.7h1M171.9 95.5h1.2M228.2 94.8h1.2M221.1 95h.8M192.5 96.2h1M174.4 95.7h1M180.9 96.5h1.5M211.1 96.3h1.2M218.1 96h1.2M170.8 96.6h1M199.7 96.9h1M224.2 96.6h.8M227.9 96.9h1.2M175.4 97.4h1M164.4 98.5h1M225.1 98.4h1M219.7 97.8h.8M190 98.4h1.5M166.9 98.3h1.5M229.9 99.4h1.2M224 99.3h.8M211.8 99.1h1M216.4 99.2h1.5M197.9 99.8h.8M164.2 99.9h1M195.7 99.7h1.5M225.2 100.1h1M173.6 100.8h1.2M169.9 101.1h1.5M227.1 100.8h.8M189.5 101.5h.8M237.5 100.7h1.2M193 102.3h1M214.4 102.2h1.2M232.5 102.1h1.5M210.4 102.5h1.2M207.5 102.9h1.5M174.7 102.8h1.5M173.3 103.1h.8M226.6 102.6h1.2M183.6 104.4h1M195.9 103.8h1.2M209.2 104h1M167.8 104.5h1.5M184.1 105.4h1M224.5 104.8h1.2M192.6 105.6h.8M239.3 105.1h.8M166.7 106.4h.8M237.7 106.6h.8M174 105.7h.8M231.6 105.9h1.2M229.3 106.6h.8M202.9 107.4h1M203.5 106.6h1.2M181.1 107.5h1.5M167.5 107.3h1.2M218.2 108.1h1.2M163.2 108.5h1.5M207 108.4h1M215.1 108.2h1.5M197.9 109.2h1.2M189.6 109.5h1M212.6 108.9h1M179.3 109.3h1M194.1 109.8h1.5M167.8 110.2h.8M207.9 109.8h1M182.7 110.1h1.5M178.9 111.4h1.2M221.9 111.4h1.5M191.5 111.5h1.2M192.5 110.6h1M207.1 112.1h1.5M192.7 112.4h.8M218.1 111.8h.8M215.5 111.6h1.5M168.6 113h.8M195.6 113.6h1M179.1 112.7h1.5M191.4 113h.8M240.4 114.3h1M211.6 113.8h1M166.7 114.4h.8M186.4 114.5h1.2M228.4 114.9h1.2M166.1 115.3h1.2M169 115.3h1.5M177.4 114.9h.8M226.7 116.2h1.5M223.3 116.4h1.5M234.1 116.2h.8M227.1 117.4h1.2M206.3 117.5h1M207.9 116.8h1M239.9 118.4h1M191.5 117.8h1.2M221.7 118.4h1.2M235.3 117.7h1.5M211.5 118.9h1M208.8 119.1h1.5M194.5 119.3h1.2M222.1 118.8h1M175.3 119.9h1M173.4 119.7h1.5M231.2 120.3h.8M174.7 120.5h1M212.3 120.8h1.5M220.6 121.5h1.2M193.6 120.8h1M216.2 121.2h1M193 122.6h1.2M205.5 122.3h1M193.1 121.7h.8M218.4 122.9h1.5M189.4 123.1h.8M211.7 122.9h.8M210.6 122.9h1.2M167.1 124h.8M216.2 123.9h1.2M234.9 124.2h1.5M186.3 124.5h.8M222 125.3h1M205.7 125.5h1M162 124.7h1.2M188.9 125.6h.8M172.6 126h.8M214.8 126.4h1M176.8 126.3h1.5M175.9 127.1h1M200.5 127.4h.8M224.8 127.5h.8M184.7 127.7h1M219.8 127.8h1.5M207 128.6h1.2M214.7 129.2h.8M193.5 128.7h.8M168.4 129.6h.8M183.5 129.7h1M201.3 129.9h.8M218.2 130.3h1.2M220.9 131.3h1.2M195.2 130.8h1M241.5 131.3h1M223.4 131.3h1.5M178 131.8h1.5M190.1 132.2h1.5M238.2 132.5h.8M232.4 132.7h1M222.6 132.8h1.2M169.6 133.4h1.5M228.8 134.4h.8M185.1 134.4h1.5M191 134.6h.8M216.2 135.1h1.2M210.2 134.6h1.2M239.5 135.1h1.5M203.9 136.4h1M237.8 136h1M185.5 136.5h1M186.1 135.8h1.2M185.1 136.6h.8M209.2 137.2h.8M209.5 136.8h1.5M229.3 138h1.2M189 137.9h1.2M209.7 137.8h1M173 138.8h1.5M235.4 138.7h1.5M185.5 139.4h1M171.9 140.5h.8M166.1 139.9h.8M177.3 140h1.5M196.7 141.4h1M215.1 140.8h.8M231.7 141.5h.8M181.3 141.9h1.5M229.3 141.8h1.5M212.4 141.7h.8M183.2 143.4h.8M235.2 142.9h1.5M237.1 142.8h1.5M199 143.9h1.2M240.9 144.3h1.5M237.2 144h1.5M183.2 145.2h1.2M163.3 145.3h.8M179 144.7h.8M240.4 146.5h1M184 145.8h1.2M165.9 146.5h1.5M173.4 147h.8M226.3 146.7h1.5M231.8 147.9h1.2M223.7 148.4h1M231 148.6h1M171.3 149h.8M186.7 148.8h1.5M165 149.2h1M208.6 149.8h1.5M185.8 150.1h1.5M189.5 149.9h1M240.8 151h1.5M223.7 150.7h1.5M191.2 150.6h1.5M226.2 152.5h1.2M213.9 151.7h1.2M211.5 152.4h1.5M185.2 153.5h.8M171.1 152.9h1.2M239.1 153.3h1.2M176.1 153.8h.8M179.9 154.4h1.5M211.4 154.9h1M217.3 154.7h1M191.9 155.6h1.5M237.7 156.4h.8M171 157.2h1M167.9 156.8h1.2M175.1 158.5h1.2M215.7 158h1.5M228.9 158.6h1.5M186.2 158.9h.8M217.5 158.8h1M185.5 159.7h1.2M228.7 159.7h.8M169 161.5h1.5M202.8 161.1h.8M209.8 161.1h.8M184.3 161.9h1.2M225.9 162.4h.8M178.6 161.7h1.2M183.4 163.4h1.2M207.4 163.4h1.5M170.2 164.5h1.5M191.9 163.7h1.2M170.5 165.2h1.5M175 164.9h1M206.5 166.3h1M232.8 165.7h.8M193.5 166.8h1.5M227.7 167.1h1.5M229.5 167h1M218 167.9h1M187.2 167.9h1.5M187.5 169.4h1M217.6 169.5h1.5M234.9 170.5h1.5M211.6 170.5h1.5M188.7 170.8h1.5M213.4 171.4h1M221.8 172.1h1M201.9 172.1h1M229.9 173h1.2M227.3 173.3h.8M205.8 173.5h1.5M202.3 173.7h1M193.9 173.7h1.5M200.3 174.8h1M238.5 175.1h1M222.1 176h.8M179.5 176h1.2M227.3 177.1h.8M183.9 177.3h1.2M227.9 178.5h1.2M211.8 177.8h.8M197 178.9h1M219 179.2h1.5M194.1 179.9h1.5M183.3 180.2h1M211.9 180.6h1.5M162 180.6h1.5M202.7 182.5h1M177.7 181.8h1.5M203 183h1M232.7 184h1.2M203.5 184.2h.8M218.5 185h1.5M194.4 186.2h1.2M171.1 186h1.5M198.3 186.6h.8M173.1 186.9h.8M184.2 187.9h.8M175.1 187.6h1.5M204.2 188.7h1.2M236.9 189.2h1M238.1 190.1h.8M168.7 189.9h.8M186.8 191.4h1M215.1 191.4h.8M189 191.9h1M212.3 192.2h1.5M181.8 192.8h1.2M162.4 193.5h1.2M215 193.7h1M209.7 194.7h1.2M184.7 195.3h.8M177 195.7h.8M238.3 197.4h.8M220.8 196.8h.8M182.2 197.6h1M190.4 198.9h1.2M176.5 199.6h.8M175.2 200.3h1M226.4 200.2h1.2M200.3 200.6h1.2M211.9 202.2h1M240.1 202.7h.8M180.5 203.6h1.2M189.5 204.1h1M201.2 205.2h1.2M164.8 204.8h1.5M189.3 206h1M215.6 207.4h1.2M234.7 208.5h.8M235.9 208.6h1.5M239 209.6h1.5M194.8 210.8h.8M224.5 211.8h1.2M203.2 213.4h1M164.3 213.6h1M230.3 214.8h.8M209.7 214.9h1.2M220 215.6h1M163 216.2h1.5M180 217.4h1M217.9 217.9h1.2M189.9 218.7h1.5M163.6 220.3h1.2M219.7 221.3h.8M177.3 222h1.2M187.7 223.3h1.5M215.6 223.6h1.5M164.3 225h1M174 226.3h1M176.5 227.3h.8M174.8 227.6h1M176.5 228.9h1.2M209.7 230.5h1.5M221.3 231.2h1.5M235.8 232h.8M230.8 233.3h.8M214.6 233.9h.8M228.4 236.2h1.2M213.5 237.3h1M241.2 238.6h.8M233.3 242.1h1.5M235.2 243.3h1.5M208.3 244.3h.8M170.5 245.1h.8M229.4 246.2h1.5M163 248.3h1M197.9 249.1h1.5M215.2 251.5h.8M179.1 253.5h1M176.6 253.8h1.5M184.8 255.1h1.5M224.3 256.4h1M206.6 258.8h1.5M208.7 261.9h1M176.8 265.9h1.2M181.9 267.9h1M183.2 272.3h1.5M183.6 274.8h1.5M230 277h1.2M175.9 278.2h1.2M172.5 279.9h.8M227.5 281.3h1M185.6 284h1M212 286.1h1.2M179.8 286.9h.8M218.9 291.1h1M165.9 293.2h1.5M192.8 295.3h1.5M196.8 297.9h1M216.4 299.8h.8M231.6 302.9h1.5M209 306.5h1.2M183.2 308.5h.8M201 310.9h1.5M242 313.6h1M200.6 316.8h1.2" stroke-width="1"/></g>
<rect x="163.0" y="317.1" width="33.2" height="8.7" fill="#ffffff"/>
<rect x="164.1" y="323.2" width="31.3" height="1.9" fill="#000"/>
<text x="179.5" y="321.9" font-size="4.2" text-anchor="middle" fill="#666" font-family="'Liberation Sans', sans-serif">20 um</text>
<text class="b" x="165.3" y="20.4" font-size="18.3" fill="#000" font-family="'Liberation Serif', 'DejaVu Serif', serif" font-weight="bold" textLength="21.0" lengthAdjust="spacingAndGlyphs">(b)</text>
<text class="b" x="165.3" y="347.1" font-size="16.0" fill="#000" font-family="'Liberation Serif', 'DejaVu Serif', serif" font-weight="bold" textLength="68.7" lengthAdjust="spacingAndGlyphs">USP-4min</text>
<path d="M286.8 6.3H336.8V328.4H254.7V27.3H286.8Z" fill="#ff0400"/>
<path d="M286.8 6.3H336.8V328.4H254.7V27.3H286.8Z" fill="url(#h2)"/>
<g filter="url(#sb)" stroke="#3ed000" fill="none"><path d="M308.6 7.5h.5M290 6.9h.6M330.9 6.8h.7M312.7 7.6h.7M318.2 7.3h.6M319 7h.6M327.1 7.3h.5M294 7.5h1M322.9 6.6h1M325.1 6.9h.5M291.8 7h.6M309.3 7.1h.5M299.8 7h.8M300.6 6.8h1M308.4 7h.5M325.2 6.8h.7M289.8 7.3h.7M294.8 7.4h.6M304.1 7h.5M292.3 8.4h.7M307.1 8.4h.7M334.8 7.8h.8M316.2 7.9h.6M297.4 8.3h.7M327 8.2h.7M305.2 7.8h.6M318.7 7.9h.8M334.4 8.1h.8M295.9 7.7h1M325.8 7.9h.6M296 8h.5M327.5 8.1h.8M291.4 8h.8M336 7.9h.5M310.7 8.2h.5M313.7 8.3h.8M329 7.6h1M324.3 8h.7M302.1 7.8h.8M314.4 8.9h.6M308.3 9.3h.5M294.5 9h1M309.1 9.6h1M298 9.2h.6M329.5 9.2h1M334.4 8.6h1M311.8 9.2h.6M323.3 9.1h.5M290.5 9.2h.5M302.9 9.5h.7M327.1 9.6h.5M328.7 9.5h.7M316 9h1M320.5 8.7h.6M293 9.6h.6M294 9h.6M324 9h.7M329.5 8.7h1M295 10.6h1M314 9.9h.6M331.3 9.9h.6M316.8 10.1h.8M307.5 10.3h1M310.9 10.1h.7M305 10.3h.7M327.3 10.1h1M326.4 10.3h.7M314.3 10.2h1M307.4 9.9h.5M315.3 10.2h.6M302.7 10.6h.8M316.9 9.7h.5M304.1 9.7h.6M289.7 9.8h.7M287.4 9.8h.8M326.7 9.7h.5M320.6 10.4h1M317.9 11h.7M288.1 11.2h.7M288.9 10.8h.8M320.7 10.6h1M335.7 10.7h.5M334.5 10.7h.7M295.1 11.1h.5M302.4 11.6h1M297.3 10.9h1M327.4 11.4h.7M306.6 10.7h.6M335.1 10.6h.8M321.4 11.5h.8M316.6 11.2h.7M307.7 11.5h.5M302 11h1M288.7 10.7h.5M326.1 12.2h.6M317.7 12.4h.8M302.9 12h.5M304.8 11.8h.5M314.8 11.7h.8M318.4 11.9h.5M335.2 12.4h.6M332.2 12.1h.6M288 12.4h.8M315.1 12.3h.8M310.8 12.3h.5M315.4 12h1M327.5 12.5h.8M313.6 12.4h.7M320.7 11.6h.6M332.5 12.5h1M302 12h.6M315.6 12.2h1M305.5 12.7h.8M290.2 13h1M320 13.4h1M304.1 13.1h.5M327 13.4h.7M320.6 13.3h.5M301.7 12.8h.7M322.2 13.5h1M290.8 12.8h.6M303.5 13h1M306.9 13.6h1M314.2 13.4h.5M309.5 13.5h.5M322.9 13h.6M293.9 12.9h.6M302.3 13.3h.8M325.2 13.5h.5M302.7 13.5h.5M333 13.5h.7M324.7 13.4h1M325.3 12.7h.6M294.2 12.8h.8M333.9 13.4h.6M319.4 13.5h1M322.6 12.9h.6M335.1 13.4h.6M297.3 14h.5M324.1 14.1h.7M317 14.1h1M308.7 13.7h.5M319.3 13.9h.7M314.3 14.2h.5M288.1 14.1h.5M319.8 14.3h.7M314.1 14.2h.5M300.6 14.5h.7M308.3 13.9h.6M314 13.8h.5M302.4 13.7h1M296.8 13.6h.8M324 14h.6M319.6 14.3h.5M303.1 14.6h.6M293.5 14.7h.5M317.1 15.4h1M308.9 14.8h.7M298.2 15.2h.8M289.2 15h1M332.1 14.9h.6M314.1 15.4h.5M330.6 15h1M315.3 14.6h.6M307.8 15.2h1M311.4 14.9h.8M291.5 14.6h.6M310.3 14.8h.5M326.4 14.9h1M319.2 15.5h.8M310.5 15.4h1M298.7 15.4h.6M335.1 15.1h1M300.5 15.3h.7M310.5 14.6h.6M310.8 14.9h.7M291 14.7h.8M301.3 15.5h.6M325.3 15h.6M287.4 16.3h.5M314.1 16.5h.7M302 15.7h.7M292.1 16.3h.8M331.3 16h.5M310.7 15.8h1M327.2 15.6h.5M296.5 16h1M296.8 16.3h.5M325.2 15.9h.6M335.1 15.8h.6M320.7 15.7h.6M309 16.4h1M310 15.9h.7M293.7 16.3h1M324.6 16h.6M322.7 16.2h.5M335.1 16.1h.6M327.9 16.2h.7M305.8 15.6h.8M307.1 16.3h.6M322.1 16.5h.6M327.1 16.5h.6M293 16.1h.7M330.7 15.9h1M334 16.8h.7M289.3 17.5h.7M293 17.2h.6M310 16.8h.8M314.5 17.6h.7M305 17.4h.8M333.9 17.1h1M303.3 17h.7M320.5 16.6h.8M304.7 17.1h1M312.7 17.3h.5M316.9 17.1h.6M303.9 17.2h.5M295.9 17.6h.6M325.1 16.8h.6M290.8 17h.8M325.5 17.3h.7M306.8 16.6h.7M296.9 17.9h.5M330.5 18.5h.5M299.9 17.9h.7M306.1 18.1h.8M328.6 18.2h1M290.8 18.1h.7M295.2 18h1M326.8 17.7h.7M287.8 17.7h.7M331.4 18h.8M325.4 18.2h.7M333.1 17.8h.7M287.8 18.3h.7M319.1 18.1h.8M316.9 17.7h.6M315.8 18.5h.8M295.8 18h1M324 18.6h.6M301.3 17.8h1M301.3 19.5h1M318.7 18.6h.5M298.9 18.8h.5M288.3 18.8h.5M318 19.2h.5M308.9 19.5h.5M321.5 18.7h.7M314.6 18.7h.8M296.2 19.4h1M293 19.5h.6M334.7 19.4h.6M323.1 19.4h.7M325.7 19.5h.7M321.9 19.5h.6M294.4 19.3h1M295.3 18.7h1M305.5 19.1h.5M301.4 19.3h.5M318.2 19h.8M309.8 18.8h.5M290.5 19.1h1M328.5 20h1M325.3 19.8h.5M294.5 19.7h.8M295 20.2h.5M326.5 19.7h1M287.6 20.5h.5M288.2 20.3h1M322.2 20.2h.6M312.9 20h.8M317.4 20.2h.5M326.4 20.4h1M316.3 20.4h.8M314.6 19.8h1M330.1 20.5h.7M289.4 20.2h.8M308.5 20.5h.6M287.8 20.1h.7M303.4 19.6h.7M309.3 21h.5M289.7 20.7h.5M319.1 21.5h1M314.1 20.6h1M296 21.1h.7M301.3 21.2h.7M301.1 21.5h.6M329.5 21.1h.8M328.9 21.1h.7M299.2 21.2h.7M289.2 20.8h.5M328.7 21.4h.7M324.1 20.9h1M326.5 20.6h.5M297.2 20.9h.8M313.9 20.6h.6M296.3 20.7h.6M289.3 21h.5M322.8 20.9h.5M304.3 20.7h.5M330.4 21.8h1M314.3 22.4h.8M316.3 22h.5M289.6 21.9h.5M298.4 21.8h.8M304.4 22.3h.6M309 21.8h.7M296.6 21.9h1M320.7 21.7h1M334 21.8h1M317.1 22.2h.5M331 22h.8M308 21.6h.8M303.4 22.2h.5M316.3 22.5h.5M307.9 22.3h.7M324.9 22.4h1M289 21.9h.5M326.6 22.5h.8M295.7 23h.6M308.5 22.8h1M323 22.8h.7M297 23.6h.6M307.4 23h1M300.9 23h.6M320.5 23.4h.6M291.8 23.5h.5M325.6 23.2h.7M331 23h1M330.2 23.3h.7M313.2 22.9h.6M327.2 23h.7M296.9 23.1h.7M290.3 22.6h.6M327.9 22.6h1M320.6 23h.7M295.3 23.6h.8M311.5 22.9h.5M333.9 23.7h1M318.1 24.3h.6M313.7 24.6h.6M322.1 24.6h.5M305.8 23.8h.5M293.4 24.4h1M319.5 23.6h.7M317.8 24.5h.8M321.6 23.9h.5M288 23.8h.6M318.1 24h.5M325.5 23.7h.7M308.6 24.3h1M298.1 24.6h.8M310.2 24h.6M332.4 23.8h.5M322.8 24.6h1M301.2 24h.8M308.3 25.5h1M288.9 24.8h.6M313.1 25.5h.6M333.7 24.7h.7M298.5 25.4h.7M289.1 25.2h.7M296.6 25.3h.7M327.5 25.3h.5M325.8 24.7h.6M293.3 25.6h.5M309 24.7h.6M320.4 25.1h.7M313.1 24.7h.5M332 25.4h.5M291.5 24.6h.7M305.1 25.3h.7M320.7 25.6h.6M328.9 24.9h1M288.9 24.7h.8M320.2 25.9h.6M291 26h1M329.7 25.7h.7M335.4 26.3h.5M335.6 26.5h.7M305.8 26.5h.7M311.3 25.8h.5M292.3 26.2h1M323.3 26.5h.8M335.3 25.7h1M307.7 26.4h.8M330.5 26.2h1M317.4 26.5h.5M324.5 26.5h.7M324 26h.8M332.8 26.5h1M302.2 25.6h.7M335.4 26.3h.5M297.1 26.2h1M325.8 25.6h.7M293 26.3h.6M303.3 26.2h.6M304.6 27.5h.5M331.9 27h.8M321.3 27.4h.7M314.4 26.7h.8M312.9 26.6h1M303.4 27.5h1M298.9 26.7h.6M309 27.5h.7M295.3 26.9h.7M302.4 27.2h.5M289.3 27h.5M304.2 26.7h.8M290.2 27h.5M318.5 27.1h.8M314.3 27h.7M296.8 27.1h1M318 26.8h1M310.9 27.2h1M296.2 27.3h.6M315.8 27.3h.7M330.2 28.1h.6M279.2 28.4h1M258 28.1h1M332.7 28.1h.5M315.4 28.3h.5M281.9 28.2h.8M304.2 27.9h.7M328.9 28.4h.6M295.6 28.4h.5M302.8 28.3h.7M259.6 28.2h.7M296.5 28h.8M278 28.3h.5M320.7 28.3h.7M328.2 28.4h.8M309.6 27.7h.7M320 27.7h.7M333.9 28h.8M309.8 28.2h1M316.9 28.1h1M257.1 29.2h.6M302.2 28.8h.6M293.3 29.1h.6M297 28.7h.6M306.6 29h.5M270.4 28.6h.8M267.2 29.5h.5M304 28.8h.8M263.9 28.7h.7M261.3 29.4h.5M263.9 29h1M288.1 29h.5M279 28.9h.5M292.4 28.9h.8M278.5 29.4h.8M309.7 29.5h.7M299 29h.6M307.6 29.2h.8M272.5 29.3h1M272.3 29h1M308.6 29.1h.8M322.9 29.5h.5M282.3 28.8h.6M313.8 29.2h.5M292.3 28.9h.6M310 29.1h.5M275.1 29.4h.5M279 29h1M276.8 28.8h.7M327.6 29.2h.6M255.6 28.9h.8M296.7 30.5h.7M256.8 30h1M279.3 30h.5M316.2 30.3h.8M266.1 30h.5M298.5 29.9h.6M293.4 30.5h.7M311.1 29.7h.8M284.7 29.9h1M264.2 30.4h.8M284.4 30.1h1M323.5 30.3h.8M314.9 30.5h1M328.5 29.8h.7M317.9 30.2h.6M273.6 30.1h1M272.5 30.4h.7M306.5 29.6h.7M324 30.1h.5M279.7 30.6h.7M274.7 30.1h.6M276.9 29.8h.7M274.4 30.1h.8M322.6 30h.6M279.8 30.3h.7M274.5 30.6h1M332.2 30.4h.5M289.5 30.4h1M298.4 29.8h1M274 30.3h.6M306.4 31.4h1M332 30.6h.7M331.7 31.3h.8M298.3 31h1M288.4 30.9h1M276.6 31.2h.5M302.7 31h.8M329.9 31.6h.5M293.2 30.8h.6M262.2 31h1M335.5 30.8h.6M310.8 31.3h.7M281.1 31.2h.6M310.4 31.2h1M311.3 30.8h.8M283.4 30.7h.6M262.9 30.7h1M297 31.6h1M269.6 30.6h.8M290.2 31.2h.6M321.5 31.4h.7M311.8 31h.8M301.1 30.8h.8M262.7 31h.5M309.2 30.9h1M298.8 31.2h.6M335.2 30.7h.5M320.9 31h.6M321.8 30.8h.8M329.3 30.7h.7M330.2 31h.7M322.9 32.1h.5M281.2 32.4h.5M261.9 32.2h.5M285.1 32.6h1M312.2 32.3h.5M276.3 32.4h1M289.6 32.2h.6M280.8 32.3h.6M281.9 31.6h.5M283.9 31.7h.5M277.1 31.8h.6M327.1 32.2h1M283.1 32.6h.6M307.7 31.9h1M258 32h.6M283.3 32.4h.8M315.5 31.6h.7M323.7 31.9h.8M335.7 31.6h.7M282.9 31.9h.6M294.9 32.1h.8M321.7 31.8h1M256.3 31.7h1M309 32.4h.5M327.5 31.7h.6M306 32.5h.5M335.4 32.2h.7M255.6 31.7h1M333.7 31.7h1M283.8 32.6h.5M277.8 33.6h1M256.7 32.9h.7M319.8 33.6h.7M280.7 33.2h1M284.9 33h1M278.6 33.2h.8M328.8 33.3h.6M313.5 33.3h.7M286.9 33.6h.7M295 33.5h.8M292.1 33.1h.5M307.2 33.6h.6M316 33h.7M306.5 32.8h1M321.7 32.7h.6M268.2 32.8h.8M326 33.6h.7M328.4 32.9h1M255.8 32.9h1M315.4 33.4h.8M259.6 33.1h.6M293.6 33h.5M310.2 33.4h.5M289.3 32.7h.7M301.4 33.3h.8M291.8 32.9h.6M274.5 33.5h1M293.2 32.6h.5M261.6 33.1h.8M270.5 32.8h.5M321.5 34h.6M269.1 34.3h.8M333.3 34.6h1M262.2 34.2h.6M256.1 33.7h.8M330.2 34.5h.8M282.4 33.9h.5M288.7 33.9h1M328.9 34.1h.7M285.9 33.7h.7M297 33.8h1M281.6 33.9h.7M268.3 33.6h.5M330.7 33.8h1M326.1 34.1h.6M267.3 34.5h.5M302.4 34.4h.6M300.1 34h.5M293 34.4h.7M288.1 34.3h1M291.6 33.7h.8M288.7 34.4h.6M285.3 33.8h.7M279 34.1h.5M270.5 33.8h.5M272 34.5h.7M275.2 34.2h.5M298 33.9h.7M327.4 33.9h1M278.8 34.5h.8M320.7 35.5h.5M334.8 35h.5M287.9 35.5h.7M321.9 35.1h.8M287.4 35.6h.6M288.7 35.3h.5M280.6 34.7h.8M335.5 35.4h.7M279.3 34.7h1M266.3 35h.5M327.5 35.3h.8M288.5 34.8h.6M298.2 35.5h.5M317.2 35.6h1M282.6 35.5h.6M270.7 35.6h.8M259.5 35.4h.6M278.5 35.1h.5M325.6 34.9h1M283.9 34.8h1M286.2 35.6h.8M328.1 34.8h.6M332.3 35.6h.7M294.2 34.6h1M262.3 35.4h.5M320.2 35.2h1M310.9 35.4h.8M284 35.4h.8M305.5 35.3h.7M320.8 35.5h.5M319.9 35.7h.5M268.3 36.5h1M312.7 35.9h.6M313.3 35.9h.8M328.4 36.4h.6M294.5 36.5h.8M290.1 36.1h.5M276.3 36.4h1M262.8 35.8h.6M266 35.7h.6M298.5 35.9h.7M258.1 35.9h1M310.1 35.9h.7M315.4 35.9h.5M281.9 35.7h1M316.4 36.1h.8M287.3 36.4h.5M326.8 36.6h.7M323.1 36.6h.7M287 35.8h.5M282.2 36h1M323.7 36.3h.7M284.4 36.5h1M291 35.6h.7M269.2 36.5h.6M270.2 35.9h.5M275.1 36.1h1M322.3 36.4h.8M276.6 36.5h.6M282 36.1h.6M312.5 37.2h.8M288.3 36.8h1M311.5 37.1h.5M282.6 36.9h1M310.9 37h1M321.7 37.3h.7M329.1 37.1h.5M266.8 36.9h.7M296.2 37.1h.5M286.3 37.3h.8M297.9 37.4h.6M306.2 37.2h.6M309.4 36.7h.6M268.3 37.1h.6M315.1 36.9h.8M284.3 37.1h.6M316.9 36.9h.8M275.3 36.6h.5M305 36.8h.6M259.3 37.2h.5M264.4 36.7h.6M327.5 36.9h.7M328.8 37.5h.5M304.1 37h.7M300.4 36.9h.5M285.4 37h.8M328.3 37.1h1M322 36.8h.6M277 37h.6M293.8 38.3h.7M288 38.3h.5M289.5 38.4h.6M271.3 38.3h.7M305.9 37.7h.5M268.9 37.7h.7M317.7 37.8h.5M294.4 37.7h.6M309.3 38.3h1M273.1 38.1h.7M255.3 37.8h.8M294.2 38.5h.6M272.2 37.8h.5M302 38.5h.5M262.7 38.4h.6M331.1 37.7h.5M304.4 38h.7M280.5 38.2h.7M297.3 37.8h.6M260 38.2h.6M316.9 37.8h1M324.4 38.3h1M288.8 37.9h.6M306 38.3h.8M327.8 38.2h.7M256.9 38h.6M294.8 37.6h1M275.4 38.4h.7M311 38h.6M270.4 38.7h.8M273.9 39.2h.5M256.3 38.6h.6M312 39.4h1M257.4 39.3h.7M263.3 39.1h.5M321.8 39.3h.8M310.6 39.2h.7M312.5 39.3h1M316.4 39h.8M255.8 39.4h.6M255.8 39.5h.5M278.7 39h.7M304.6 38.8h1M267.6 39.1h.8M263.3 39.5h.8M325.7 38.8h.8M330.3 39h.7M277.3 39.6h1M266.8 38.8h.7M282.3 38.9h.8M277.5 39.1h.6M300.6 39.5h1M329.8 39.1h.5M305.4 38.9h.8M287.5 39.5h.8M261.5 38.6h.7M264.4 38.7h.6M270.4 38.9h.5M308.4 40.1h1M288.6 40.5h1M306.6 40.4h1M259.5 39.8h.6M303.7 40.4h.7M331.3 39.7h1M278.9 40.5h.6M279.8 40.1h.7M321.5 40.1h.6M305.9 40.1h.7M277.3 40.3h.8M313.8 39.9h.8M257 40.2h.7M289.8 39.7h.6M330 40.2h.5M277.5 40.6h1M297.1 39.9h.5M334 39.7h.5M300.8 39.6h.5M317.6 39.8h1M307.3 40.1h.8M262.5 39.6h.5M283.4 40.2h.5M305.4 40.4h.8M279.1 39.8h.7M317.4 39.8h.8M269.3 40.6h.5M308 39.7h.7M260.2 40.6h.8M274.2 41.2h.7M259 40.7h1M265 40.6h.6M297.6 41.1h1M292.8 41.3h.5M302 41.4h.8M308.2 40.8h1M301.1 41.5h.6M256.9 41.4h.6M327.6 40.9h.6M295 40.9h.7M325.2 41.2h.6M301.7 40.6h1M272.3 40.9h.6M292.6 41.1h1M319.4 41.4h.5M303.9 41.1h.7M317.5 41.1h.8M258.7 41.3h1M329.6 41.2h1M286.9 40.9h1M310.8 41.4h.5M264.9 40.7h1M327.2 40.7h.5M335.1 40.9h.6M267.5 41.5h.5M332.1 40.7h.7M302.1 41.4h1M267.5 41.1h.7M304.6 42.3h.8M329.8 42h.6M283.7 42.2h.5M281.9 41.7h.8M300 41.7h.7M262 41.6h.8M295.4 42.4h.8M281.9 42h.7M297 41.8h1M323 42.4h.6M279.5 42.5h.7M333.7 42.1h.5M291 42h.8M259.7 41.9h.6M259.8 42.2h.7M328.1 42.3h.7M310.3 42.5h.7M280.7 42.3h.6M316.1 42.2h1M314.5 42.1h1M313.4 42.3h.6M322.8 42.5h.6M280.1 42.2h1M316.9 42h.5M284.8 41.7h.6M317.3 41.9h.5M320.1 42.1h.6M297.9 42.3h.8M328 42h.6M291.4 42.8h.8M257.6 43.5h.7M271.3 43.1h1M310.8 43.1h.5M292.3 43.4h.7M327 43.4h.7M320.6 43.4h.8M260.8 43.4h1M303.7 42.8h.7M256 43.5h.5M325.2 43.1h.7M279.6 43.5h1M284.3 42.6h1M266.3 43.4h1M322.4 43.2h.8M313.2 43.1h.8M262.4 42.6h1M325.2 43.3h1M297.4 43.4h.7M306 42.8h.6M307.1 42.7h.6M332.4 43.5h.8M282.6 43.1h1M267.4 42.7h.8M294.4 42.7h1M279.5 42.7h.8M309.8 43h.5M298.1 43.2h.6M318.9 42.7h.7M311.8 44.1h1M332.9 43.9h.5M330.7 43.7h.7M319.9 44.6h1M300.4 43.9h.5M311.4 43.6h.6M320.6 44.3h.7M295.9 44.4h.7M286.1 44.1h.5M307.9 43.8h.7M325.7 44.5h1M267.5 44.2h1M333.2 44.1h.5M313.1 43.8h.7M269.5 44.5h.8M276.3 43.7h.6M310.2 44.4h.7M275.7 44.3h.8M330.4 44h.6M327 43.6h.8M273 44.2h.8M313.7 44.3h.7M284.4 43.8h.5M296.8 44.2h.8M333.8 44.2h.5M256.3 44h1M317 44.5h1M306.3 44.3h.6M326.4 43.6h.6M261.3 45.4h.8M256 45.1h.6M335.3 44.8h.8M324.7 45.2h.6M306.3 45h.7M257.3 45.2h.6M296.6 45.1h.5M299.1 44.8h.6M259.3 44.9h.8M294.6 45.6h.8M334.8 45.3h.7M261 44.9h.6M258.4 45.2h.8M321.2 45h1M291.5 44.6h.7M328.4 44.7h1M315 44.9h.7M311.8 44.9h.6M317.8 45.1h1M297.9 45.5h.6M318.7 45.5h1M326.5 44.8h1M258.9 45.4h1M259.4 45.5h.8M320.7 45.3h.5M261.7 44.7h.6M262.4 45.5h.5M322.5 45.2h.6M289.8 45.9h.6M259.5 45.6h1M266.1 45.8h.7M310.4 45.8h.5M257.7 46.4h.8M259.5 45.9h.8M299.7 45.8h.6M270.6 45.7h.6M291 46.5h1M288.2 45.8h.7M292.3 46.4h.7M320.6 46.3h.8M325.4 45.7h.8M269.2 46.5h1M318.9 46.2h.6M291.2 45.8h.7M287.1 45.9h1M266.6 46.1h.8M294.5 46.3h.8M267.8 45.8h1M303.1 46.5h.6M287.3 46.2h.5M308.4 46h1M328 46.5h.7M321 45.8h.6M301.4 45.7h1M260.4 46.5h1M285.1 46.3h1M329.4 45.7h.5M331 47.1h.5M260.8 47.3h.7M321.3 47.2h.6M285.8 46.9h.6M305.6 46.8h.6M265.9 46.7h.7M256.8 47.2h.8M301.6 47.2h1M261.5 47.6h.7M275.6 47.3h.5M325 46.9h.6M287.2 47.1h.7M305.1 46.6h1M296.4 46.9h.7M303 47.2h.7M296.8 46.9h.7M308.6 46.9h.7M299.9 47.3h.5M294.4 46.8h1M332.7 46.9h1M282.2 46.7h1M275.8 47.6h1M291.5 47.3h.5M301.9 47.2h.7M275.6 47.4h.8M275.7 47.3h.8M289.4 47.3h.8M302.3 47h.7M333.9 47.7h.8M313.8 48.3h.5M311.5 48.3h.7M275.2 48.3h.8M306.9 47.8h.6M264.1 48h1M310.3 47.7h1M287 47.6h.6M296.6 48.3h.8M306.8 48h.5M260 47.9h.8M261 48.5h.5M276.7 47.9h.7M264.1 47.8h.8M316.6 48.3h.7M327.6 48.2h.7M264.6 47.8h1M296.5 48.5h1M268.1 47.8h1M322.4 47.8h1M302.9 48.1h1M326.8 48.4h.5M278.7 48.3h.7M306.6 48.2h.5M306 47.9h.7M298.7 47.7h.6M275.6 48.5h.5M258.7 48.5h.5M322.5 48.8h1M287.4 49.4h.6M271.3 49.5h.8M308.8 49h.7M325.8 49.5h.7M292.9 49h.6M289 49.5h1M290.1 49.2h.8M275.5 49.5h.6M293 49.3h.6M270.9 49.2h.5M299.2 48.7h.5M317.3 49h1M288.2 48.8h.6M304 48.9h1M332.9 48.7h.7M267.8 49.2h.7M266.1 48.7h.6M282.2 48.7h1M289.2 48.9h.5M332.4 48.6h1M328.5 48.9h.5M332.7 49.2h.7M326.9 49.4h.6M270.8 48.7h.8M293.8 49h.7M288.9 49.4h.5M292.6 49.4h.8M327.8 49.6h.8M267.9 50.1h1M256.1 50.3h.5M275.2 49.9h.8M309.6 49.6h.6M258.5 50.5h1M291 50.4h.5M278.8 50.2h.6M286.2 50.1h.7M333.7 50.5h1M324.6 49.9h.8M329.6 49.6h.6M315.2 50.5h.7M269.6 50.5h1M281 50h.7M258.4 49.9h1M271.9 49.7h.6M280.4 49.6h.6M326.6 50.3h.5M322.6 50.3h1M273.9 49.8h.8M302 49.9h1M304.7 50.3h.8M309.5 50.5h.8M268.6 50.4h.5M287.3 50.5h.7M268.7 49.7h.6M265.5 49.8h.5M268.6 51.1h.8M266.2 50.9h.6M309.6 50.7h.8M284.1 50.7h.8M262.4 50.7h.8M298 50.9h1M313.4 51.5h.6M282.2 50.8h.6M299.8 50.8h1M275.6 51.2h.8M266.4 51h.6M312.2 50.8h1M297.6 51.3h.8M277.5 51.1h.6M272.7 51.4h.6M296.9 50.8h.6M313.3 50.8h.8M274.8 51.4h.7M284.9 50.7h.5M334.2 50.8h.5M315.7 50.7h.5M276.6 51.5h.7M293.5 50.9h1M318.9 50.7h1M292.2 51.4h.5M258.7 51.3h.5M278.4 51.1h1M304.1 51.8h.5M290.4 51.9h.5M319.1 52.2h.5M267.1 52.5h.6M280.6 52.1h.5M268.4 52h.6M306.5 52.5h1M314.3 52.1h.6M293.8 52h1M311.6 52.6h.7M275.6 52.2h.7M313.3 52.2h1M327.2 51.7h.6M304.4 51.8h.7M332.1 52.2h.8M281.4 52.5h.8M295.3 51.8h.8M302.7 52.3h.7M283.6 52.3h.8M264.3 52h.7M320 51.7h1M277.6 51.8h1M294 51.8h.7M291.7 51.8h.5M278 52.3h.8M263.8 51.7h.8M273.1 52.5h1M306.8 52.7h.8M266.3 53.3h.6M283.6 53.4h.6M276 52.7h.8M259.5 53h.7M285.7 52.9h.6M263.2 52.7h.7M324.7 52.9h.6M277.1 52.7h.7M300.7 53h1M326.6 52.7h.8M288.5 52.7h.6M302.8 52.8h.5M289.4 52.8h.5M314.3 52.6h.7M311.5 52.8h.8M323.9 53.6h.7M318.4 53.1h.7M277.8 53.4h.6M322.9 53.4h.8M327.7 53.5h.6M256.6 53.3h.6M295 53.3h.5M300.9 53.4h.6M268.1 53.1h.8M265.5 52.8h.6M297.7 52.9h.6M294.5 52.9h.6M289.9 54.1h1M262.1 54.1h.8M256.7 54.4h.8M262.1 54.1h.6M261.2 54.6h1M291.4 54.6h.8M320.3 54.6h.6M309 54.3h.8M267.8 54.2h.6M311.4 53.7h.5M277.8 54.1h.7M316 53.8h.5M307.2 54.5h.7M311.1 54.5h.6M327.1 53.9h.7M303.8 53.9h.8M260 54h.8M290.7 54h.6M298 53.9h.7M282.4 54.1h.7M311.6 53.9h.8M278.7 54.3h.8M312.3 54.6h1M299.3 54.2h1M258.2 53.9h.7M298.3 54h1M309.9 54.2h.7M324.5 55.1h1M330 55.3h1M303.1 55.1h.5M281.3 55.4h.6M314.7 54.8h.6M315.5 55.5h.8M306.8 55.2h1M264.6 55.2h.8M299.3 54.7h1M311.1 54.6h.6M297.3 55h.7M316.9 54.8h.7M275.4 54.6h.8M302.6 55.2h.6M289.6 54.6h.6M277.7 54.7h.7M326 54.7h.8M293.8 55.2h.7M294.7 54.7h.8M267.8 54.7h.6M300.2 54.7h.6M292.7 54.9h.6M313.4 54.7h.8M309.9 55.5h.6M302.7 54.9h.8M313.6 55.5h.7M328.8 54.8h.5M265.7 56.1h.7M299.5 55.9h.5M265.8 56.4h.7M314.7 56.5h1M264.7 56.3h.8M316.8 55.7h1M278.9 56h1M281.1 55.7h.5M271.6 56.4h.7M310.1 56.1h.8M290.9 56.1h.8M260.8 56.6h.7M307.9 56.1h.5M306.8 56.3h.5M305.8 55.8h.6M317.2 55.8h.6M271.9 55.9h.6M309.8 55.7h.6M325.9 55.6h.7M334.5 56.3h.7M324.3 55.8h.6M305.8 56.4h1M298.8 55.6h.5M295.3 56.1h.6M305.2 55.9h.5M267.7 55.9h.7M258.6 56.1h.6M296.1 56.9h.5M304.5 56.9h1M307.7 56.8h.8M273.2 57.3h.6M286.4 56.8h1M276.2 57.3h1M269.4 56.9h.7M273.2 56.7h1M258.5 56.8h.7M264 57.5h1M320.1 57.3h.5M307.6 57.3h1M335.7 56.7h.8M259.8 57h1M324.7 56.9h.5M286.1 57.3h.6M297.4 57h.7M305.9 57h1M286.9 57.5h.6M301.7 57.4h.5M261.5 56.8h.6M300.9 57.3h.6M264.4 56.9h1M295.9 56.6h1M326.8 57.2h.8M316.6 57.3h1M277.4 58.4h.5M322.9 57.8h1M301 58.2h1M275.7 57.6h.6M268.3 58.3h.7M292 58.1h.5M314.8 58h.6M327.3 58h.6M307 58.2h.7M316 58.2h.8M308.7 58.1h.5M278.4 58h.8M270.9 58.3h.8M309.3 58.1h.6M270.6 58.4h1M324 57.7h.8M280.3 58.4h.5M310 58.2h.8M325.1 58.2h.5M290.1 58.4h.7M314.9 58.3h1M273.5 57.8h.7M271.5 58.2h.6M260.4 57.7h.6M311.6 58.5h.6M312.5 58.4h1M293.8 57.8h.7M268.3 59.3h1M272.3 58.6h.5M265.7 59.6h.5M280.1 58.8h.7M328.6 59.4h.5M295.2 59h.6M289.9 58.9h.6M299 59.1h1M263.1 59.2h.7M328.3 59.3h1M261.3 58.8h.7M284.5 58.6h.5M281.8 58.9h1M259.6 59.2h.5M287.9 58.7h1M303.9 59.1h1M319.6 59.2h1M286.8 58.8h.6M257.1 59h.7M313.6 59.5h.8M325.6 59.2h.7M277.7 59h.8M283.7 59.2h.7M267.9 59.1h.6M283.7 59.1h.6M269.3 58.6h.8M324.2 59.9h.7M281.9 60.6h.5M298.8 60.5h.7M331.2 59.9h1M290.4 59.9h1M318 60.2h.6M282.1 60.4h1M290.1 60h.8M320.8 60.4h.6M325.6 59.7h.8M310.7 59.9h.7M329.4 60.5h.7M335.7 59.9h.6M286.2 59.6h.5M301.3 60.5h1M292.8 59.9h.8M322.8 60.5h.8M305.6 60.3h.7M256.1 59.7h.8M285.5 60.2h.6M284.5 60.6h.6M288.2 59.9h.8M255.2 60h.8M263.7 60h.5M286.3 60.4h.7M289.1 60.2h.8M263.9 60.1h.5M305.9 61.4h.8M333.2 60.8h1M276.2 61.1h.5M261.1 61h.5M279.3 61.3h.7M318.6 61.4h.6M294.5 61.5h.8M330.6 61.6h1M294 61.1h.6M308.2 60.8h.6M301.4 61.4h.6M334.3 61.1h.5M292 61.2h.6M288.3 61.5h.5M334.9 61.3h1M318.9 61.4h.7M261.5 61.5h.6M264.3 61.4h.5M269.5 60.6h.7M256.3 61.2h.5M273.3 61h.6M308.9 60.7h.7M272 61.1h.7M320.5 60.6h.5M298.6 61h.5M308.7 60.8h1M315.8 62h.6M331.2 62.3h.7M297.4 62.1h1M304.5 61.6h.6M331.9 62.3h.8M314 61.7h1M331.6 61.6h.6M259.9 62.6h.5M318.2 62.4h.7M299.2 62.1h1M291 62.2h.6M257.2 62.3h.5M295.3 62.1h1M263.5 62.1h.7M334.4 62h.8M289.7 62.6h.7M285.4 62h.7M316.7 62.2h.5M312.5 62.4h.6M255.3 62.3h1M257.1 62.5h.7M269.4 61.8h.7M320.8 62.4h.7M323 62.3h.7M322.3 62.1h.5M289.9 62.5h.7M257.1 62h.8M293.3 63.1h1M279.3 62.7h.6M306.9 63.5h.7M292.7 63.3h.5M289.5 63.3h.8M282.7 63.4h.7M302.5 63.5h1M289.8 62.9h.6M280.4 62.9h.6M305.6 62.7h.5M288.6 63h.5M290.9 62.7h.5M261.9 63.2h.7M257.1 63.4h1M257.8 63h.8M306.7 63.6h.8M319.9 63.3h.8M309.7 62.9h.6M263.9 63.5h.6M325.5 63.3h.7M291.6 62.7h.8M267.4 63h.5M326.4 63.6h.8M285.8 62.9h.8M313 63.1h1M264.7 62.8h.7M312.9 64.2h.6M318.5 64h.7M293 63.7h.5M279 63.6h.5M266.3 64.3h.6M304.9 64.5h.6M297.8 63.7h.5M280 64h.7M302.7 63.8h.7M298.5 63.8h1M321.7 64.4h.5M289 63.9h.8M268.5 63.6h.7M260.5 64.2h.6M326.4 64.4h.6M280.4 64.1h1M321.9 64.3h.7M307.5 64.3h.8M293.6 64.1h.7M275.6 63.6h.7M317.4 64.3h1M322.4 64h.6M326 64.5h.7M270.7 63.9h1M300.5 64.5h1M313.6 64.3h.8M296.3 64.9h.5M304.6 65.5h.5M255.3 65.3h.8M319.2 65h.5M323.9 64.8h.5M310 65.4h.8M270.7 65.6h.8M273.3 65.4h.6M280 65.4h1M280.4 65.2h.6M289 65.2h.7M272.3 65h1M321.2 64.7h.8M261.6 65.5h1M329.8 65h1M303.4 65.4h.7M266.3 65.5h.6M319.1 65.1h.8M331.7 64.7h.7M322.4 64.9h.7M311 65.2h.7M282.3 64.8h.6M296 65.3h.5M304.6 65.3h.5M335.6 65.4h.8M301.6 66.3h1M326.3 66.4h.5M308.3 66h1M293 66.5h.6M331.6 65.8h.5M322.1 66h.8M275.3 65.7h.6M300 65.9h.5M303.7 65.6h.5M260.1 66.4h.7M263.1 65.7h.7M323.5 65.9h.7M299 65.8h.6M332.8 65.6h.6M284.2 65.9h.8M312.5 65.8h1M256.5 66h1M310 66.2h1M295.1 66.3h.5M264.5 66.5h.7M324.8 65.8h.7M323.1 66.2h.5M317.7 65.9h.8M260.9 66.2h.5M331.3 65.8h1M265.7 66.6h.8M327.2 66.8h1M328.2 67h.5M273.7 67.5h.6M310.8 66.8h.8M307.2 67.6h.5M256 66.7h.7M274.4 66.6h.6M262.2 67h.8M255.6 66.7h1M327.9 66.8h.5M256.8 67.6h1M304.1 67.4h.8M267.7 66.7h.7M330.3 66.7h.6M295.7 67.1h1M285.2 67.2h.7M331.2 67.1h.7M310.9 66.9h.5M331.1 66.6h.6M255.6 67.5h.8M294.1 66.6h.8M264.3 67.6h.7M305.5 66.6h.6M308.7 67.5h.5M316.3 68h.7M255.1 68.1h.5M302.1 67.7h1M276.3 67.8h.7M317.5 68h.6M290.5 68.1h.8M315.9 67.9h.7M255.7 67.8h.5M282.7 68.1h.8M283.6 68.3h1M280.6 68h.7M265.9 68.4h1M269.2 67.6h.7M294.4 68.4h.6M276.7 67.9h1M306.2 67.8h.7M290.4 68.2h.8M264.2 67.6h.5M281.9 67.8h.8M323.4 68.5h.5M281.8 68.4h.5M316.3 67.7h.8M278.1 68h1M257.3 67.6h.8M266.4 68.5h.5M332.3 69h.6M276 69.5h.5M302.4 68.7h.5M298.7 69.5h1M296.3 69.4h.6M298.8 68.8h.8M286.6 68.8h.5M292 68.8h.5M259.4 69.3h.5M295.3 69.4h.6M292.3 69.5h.8M284.8 69.4h.6M281.7 69.5h1M255.2 69h.6M282.2 69.1h.5M292 69.2h1M277.8 68.8h.5M332.2 69.1h1M272.8 68.9h.8M312.4 69.4h1M319.7 68.8h1M327.1 69.1h.7M307.4 68.8h.7M292.2 68.7h.6M274 69.4h1M277.3 70h.5M289.3 69.8h.6M310.8 70h1M329.1 70.2h.6M257.2 70.6h.5M310.7 70.4h1M316 70.3h.7M297.6 70.4h1M312.5 69.8h1M318.9 70.5h.5M266.5 70.5h.6M329.7 70.5h.6M267.8 70h.6M296.9 70.3h.8M335.7 70.6h.7M334.7 70.6h.8M285.6 70.3h.6M275.8 69.8h.5M258.2 70.3h1M328.1 70.1h1M311 70.6h.6M325.7 69.8h.8M296.7 69.9h.5M313.3 70.2h.5M270.9 70.6h.8M307.2 71.2h.8M314.1 70.9h.5M318 70.7h.6M330.9 71.3h.6M332.2 70.6h.5M272.3 71.5h1M297.5 71.5h.7M317.6 70.9h.6M265.5 71h.6M322.1 71.5h1M317.4 71.4h.6M327.5 70.9h.6M320.6 70.7h1M306 71.1h.7M328.6 71.3h.5M306 71.5h.6M318.8 71.6h.5M256.9 70.7h.7M299.6 71.2h.7M258.9 71.1h.8M297.9 70.9h.7M273 71.4h.8M304.3 70.9h.8M300.1 71.3h.5M273.9 70.7h.6M273.5 71.6h1M283.4 72.2h1M320.5 72.2h.5M332.1 71.7h.8M282 72.2h.6M297.4 72.1h.8M324.9 72.1h.7M298.5 71.9h.6M281.7 71.8h.7M317.2 72.4h.5M294.1 72.1h.8M334.9 72h.6M300.7 72.4h.8M322 72.2h.7M278.5 72.6h.8M286.9 72.3h1M277.4 72.2h1M325.9 72.4h.7M319.5 72.3h1M258.5 72h.5M299.6 72.5h.7M273.4 71.6h.8M273.4 72.3h.8M322.5 71.9h.8M276.7 72.2h1M330.9 73.1h.8M306.3 73.1h.5M263 73.1h.8M305.5 73.3h.7M287.3 73.3h.8M333.8 73h.8M260.3 73.2h.7M318 72.7h.5M310.8 73.3h.8M263.3 72.9h.7M276.8 72.9h.7M308.6 73h.8M333.1 72.9h.6M311.1 72.8h.5M256.2 72.7h.6M266.6 72.8h.5M275.1 73.5h1M280.5 73.4h.8M291.9 73h.8M261.4 73h.8M272.6 73.4h.6M314.1 72.9h.5M296.4 73.5h.5M325.8 73h.8M287.5 73.4h.5M269.7 74.5h.7M315.2 74.3h1M298.4 73.6h.8M320.9 74.6h.7M290.6 74.4h1M298.7 74.1h.5M272.5 74.3h.5M292.5 74.3h1M256.6 73.6h.6M305.3 73.9h.6M256.6 74.3h.6M273.6 74h1M313.8 74.1h.7M305.6 73.9h.7M268.2 74.6h.5M265.1 73.8h1M256.5 74.4h.8M256.4 74.4h.7M331.4 74.4h.7M332.3 74.3h.8M285 74h.8M328 74.6h.8M270.6 74.1h.5M313.3 74.6h.6M272.8 74.5h.5M327.4 75.1h.5M268.1 75.6h.8M292.7 75h1M329.6 75.2h1M311.8 75.5h.7M271.4 74.8h.5M258.6 75.2h.6M286.9 74.7h1M330.7 74.9h.6M299.7 75.3h.8M321.4 74.9h.5M311.2 75.6h.5M316.2 75.6h.8M334.8 74.7h1M255.8 75.5h.6M282.7 75.2h.8M266.9 75.4h.7M302.6 75.1h.8M274.4 74.9h1M296.8 74.7h.7M320.1 75.4h.6M272.3 75.2h.8M305.7 74.8h.7M330.7 75h.5M287.8 76.1h.8M274.4 76.5h.7M275.8 76.2h.6M309.5 75.7h1M271.5 76.3h.5M320.1 75.8h.5M335.5 76.5h1M285.2 76.6h.5M294.7 76.5h.7M297.4 75.8h.8M320.8 76.2h.8M293.9 75.7h.7M271.6 75.9h.5M306.7 75.7h.7M322.1 76.6h.6M294.7 76.3h.5M314.2 76.5h.7M257.1 76.3h.6M296.2 76.2h.5M266.8 75.8h.5M255.6 75.6h1M257.7 76.5h.6M294.5 75.8h.7M317.8 75.8h.8M327.7 77.2h.5M258.8 77h.7M298.6 77.3h.8M264.8 77.4h1M311.6 77.1h1M300.5 76.6h.8M292 77.6h1M269.4 76.6h.5M256.5 77.3h1M304 76.8h.5M328.4 76.8h1M305.6 77.2h.6M319.4 77.1h.8M257.2 77.3h1M264.8 76.8h.7M290.6 76.7h.6M261.2 76.8h1M288.9 77.2h.7M282 77.1h.5M271.4 76.9h.7M296.5 77.5h.7M259.1 77.4h1M303.4 77.6h.6M264.6 76.8h.5M320.9 78.4h.6M299.5 78.4h.8M314.6 77.7h.8M302 78.4h.7M335.6 78.5h.6M330.2 77.7h.8M300.7 78.5h.7M257.9 77.7h.5M258 77.9h.5M274.2 78h.6M274.7 78.5h.8M333.4 77.8h.7M314.5 78.6h.5M307.1 77.9h1M261 77.6h.5M321.9 77.9h.7M298 78.5h.6M278.6 78.5h1M327.2 78.2h.5M283.9 77.9h.8M275.6 77.7h.5M272.4 78.3h.5M319.1 78.6h1M301.6 78.1h.8M309.3 78.8h.8M264.2 79.3h.8M317 78.8h.8M327 79.2h1M317.2 78.9h.5M256.5 79.1h.5M306 79h.5M264.2 79.2h.7M283.1 78.6h.8M271.5 79.2h.5M323.9 79.3h.5M301.3 79.6h1M257.5 79.3h1M259.3 79.3h.7M263.8 79.3h.6M293.4 79.2h1M297.6 79.3h1M329.6 78.6h.8M335.6 79.3h.7M314.1 79.4h.8M264.3 79.2h1M325.6 78.7h.5M262 79.3h.7M310.1 78.8h.8M258.9 80.1h.8M301.1 79.9h.7M264.2 79.8h.5M271.2 80.2h.7M326.3 79.7h.5M324.9 79.9h1M289.2 80.1h.5M283.4 79.9h.5M313.2 79.9h.6M308.8 79.7h1M292 79.9h.5M309.7 80h.5M318.4 79.8h.6M305.5 80h1M335.1 80.4h.5M330.5 80h1M316.5 80.2h1M301.5 80h.7M287.1 80.4h1M283.4 79.7h1M310 79.9h1M279.9 80.2h.5M316.2 80.3h1M311.3 79.7h.5M322.6 81.3h.7M281.6 81.5h1M313.3 81h.5M262.9 81.4h1M298.9 81.2h.6M267.9 81.3h.8M268.6 81h.8M316.8 80.9h1M328.9 81.4h1M282.5 81.3h.7M272.8 81.3h.5M268.2 81.1h.5M269.4 81.3h.5M293.2 81.2h.6M259.1 81.1h1M326.8 80.9h.7M333.9 81.2h.7M264.9 80.8h.8M286.2 81h.8M310.2 81.5h.5M293.3 81.3h.7M285 81.1h.8M311.2 81.1h1M322.9 80.6h.6M310.7 81.7h.8M306.7 81.8h.6M316.1 82.6h.5M272.5 82.5h.6M275 81.8h1M261.4 82.3h.6M282.7 82.4h.7M282.4 81.8h.5M265 81.9h.6M267.4 81.7h.5M303.4 82.4h.8M256.4 81.7h1M320.4 82h.5M333.4 82.5h1M335 82.3h.7M333.1 82.4h1M335.7 82.1h.8M287 81.8h.8M304.4 81.8h1M296.6 82.5h1M325.4 81.7h.5M264.1 82.2h.8M317.8 82.4h.7M301.9 82.9h.6M330.4 82.6h.8M291.1 83.2h.7M270.6 82.8h.8M273.8 83.1h.5M316.9 83.1h1M330.2 83h.5M322.3 83.4h.8M259.5 82.8h.5M275.2 83.3h.6M297.2 83.2h.7M320.1 82.9h.8M257.3 83.3h.6M284.7 83.3h.6M273.4 83.5h.8M278.4 83.4h.6M305.3 82.7h.6M297.1 83.3h1M256.8 83.3h.8M335.4 82.6h.5M319.7 83.5h.5M302.5 83.2h.5M313.4 83.2h.7M327.5 84.2h.5M287.4 84.5h.7M284.8 84.4h1M284.2 83.8h.6M318.8 84.1h1M282.7 83.7h.6M298.8 84.3h1M278.6 84h.7M285.4 84.5h1M307.1 83.9h.6M294.8 84h1M270.9 84.2h.7M332.3 83.7h1M273.7 83.9h.6M301.9 83.6h.5M323.2 84.3h.8M310.1 84h.8M256.6 84h.5M278.1 84.2h.7M290.9 84.2h.5M323.5 84.4h.8M259.4 84.6h.7M304.7 84.4h.6M266.3 85.1h.7M302.3 85.1h.5M291.6 85.1h.5M277.8 85.4h.5M259.2 84.9h.7M332.9 85.2h.5M335 85.5h.6M258.7 84.7h1M276.5 84.6h1M266.2 84.9h.8M330.1 85.4h.7M315.4 85.3h.8M263.1 85.4h.6M305.4 85.3h.8M256.5 85.5h.5M288.6 85.4h1M291.6 85.1h.5M267.2 85.3h.5M278.1 84.6h.5M269.2 84.6h.7M285 84.7h1M332.4 84.7h.7M289 85.1h.6M316.5 86.3h.8M310 86.1h.5M282.2 86.1h.6M334.9 86h.8M303.7 86.3h.6M278.7 86.2h.8M269.6 86.2h.8M290.2 86.1h.5M270.7 86.6h1M272 85.9h.8M298.5 86.5h1M292.7 85.9h.8M260.6 86h.7M285.8 85.8h1M300.3 86.5h1M318.2 86.4h1M307.1 86.4h.6M282.6 85.8h1M311.3 85.9h.5M315.1 85.9h.8M262.8 85.9h.6M284.7 85.8h1M287.5 87.4h.8M317.1 87h.8M301.4 87.1h.5M318.7 86.8h1M307.8 86.9h.5M306.6 87.3h1M275.7 87.2h.7M309.8 87.4h.8M328.6 87.4h.5M273.2 87.6h.8M271.4 87.2h.7M327.3 87h.8M297.9 87.2h.7M270.2 87.1h.5M259.4 87.1h.7M292.1 87.6h.7M270.1 87.4h.7M271.1 87.1h.5M255.1 87.2h1M316.7 86.9h1M276.9 87.2h.5M284.2 87.2h.7M319.7 87.7h1M301.5 88.4h1M325.9 87.9h.7M279.2 88.5h.8M256.8 88.3h.8M259 87.8h.7M316.3 88h.5M292.6 88.4h.5M294.2 88.4h1M326.2 88.1h.6M272.6 88.5h.6M306.1 87.9h1M307.2 88h.8M323.7 88.5h1M264.3 88.3h.8M270.2 87.8h.6M313.2 88.3h1M331.8 88.3h.5M297.9 87.8h.8M275.4 87.7h.7M295.3 87.7h.6M329.7 87.9h.8M315.4 89h.5M309.3 89h.5M306.8 89.2h1M288.8 89.4h.8M295 89.1h.6M300.9 88.7h.7M284.3 88.7h1M324.7 88.8h.7M299.7 89.1h.7M270.5 89h.7M273.9 88.7h.8M291.7 89.6h.5M331.8 88.9h.8M294.2 89.3h.6M294.6 88.9h.5M325.1 89h.7M328.2 89.6h1M314.6 88.8h1M319.7 89.4h.7M326 88.6h.5M297.9 88.9h1M285.5 88.8h.5M284.1 88.8h.6M300.1 89.9h.7M316 90.3h.6M322.7 90.3h.7M314 89.9h.8M317.8 90.4h.8M296.7 90h1M321.4 90.3h1M298.4 90.6h.7M330.7 89.8h.7M294 90.5h.7M300.7 89.9h1M299.5 90.5h1M334.1 90h.8M317.9 90.3h1M292.7 90.3h1M326.3 90h.8M281.9 90h.6M265 90h.5M294.1 90.2h1M255.3 90.2h1M272.1 89.7h1M310.8 90.1h.8M270.8 90.2h.8M306.9 90.8h.8M276.4 91.6h.7M288.7 90.8h.5M302.8 90.6h1M303.4 91.4h.8M280.8 91.6h.8M302.5 90.9h.8M329.9 91h1M265.7 90.9h1M289.9 91.3h.6M269.3 91.4h.7M295 90.7h.7M265.1 91.4h1M329.5 91.6h.6M290.8 91h.7M294 91.5h.6M255.8 91.1h1M326.9 90.6h1M293.5 91.3h.6M319.9 91.6h.6M267.3 91.1h1M277.8 90.6h1M285.5 92.1h.7M294.7 92.5h.6M259.8 92h.7M299.6 91.8h.5M314.6 91.6h.7M291.1 91.8h.5M283 92.6h1M315.7 92.6h.7M266.9 92h1M299.3 91.7h.8M314.7 92h1M313.4 92.5h1M335.6 91.8h.7M260.9 92.6h.7M304.8 91.9h.6M292.9 92.5h.8M318 91.9h.7M268.7 92h.5M335.1 92.5h.7M332 92.2h.5M279 91.7h.5M307.6 91.9h.8M298.5 93.4h.8M270.7 93.3h.7M321.5 92.9h.5M256.3 93.2h.6M262.1 92.9h.8M320.2 92.9h.6M311.7 92.8h.5M287.1 92.8h.7M289.4 93h.8M330.6 93.3h.6M298 93.5h1M306.4 93.2h.8M326.5 93.1h.7M255.1 92.9h.5M287.2 93h.5M268.2 92.7h.5M268.5 93.5h.7M332.6 92.7h1M320.4 93.1h.8M263 93.1h.6M314.1 93.4h.5M259.6 93.5h.5M291 94.1h.8M294.5 94.5h.6M279.5 93.9h.6M329.2 93.6h.8M310.4 94h.6M274.2 93.9h.7M287.9 93.7h.8M320.9 94.4h.8M285.2 93.6h.8M320.6 93.8h1M269.4 94h.5M302.4 94.3h.5M277.8 93.6h1M265.5 94.3h1M257.1 93.8h1M281.8 93.6h.6M255.6 94.2h.6M310.9 94.1h.8M335.2 94.1h.5M264.1 93.8h.5M260.1 93.8h.8M321.2 93.6h1M279.3 94.6h1M265.3 94.7h.5M319 94.8h.8M294.5 95.4h.8M286.5 95.2h1M274.9 94.7h1M275.6 95.4h.5M271.4 94.6h.8M291.9 95.2h.6M318.8 95.4h.5M267.9 95.2h.6M262.5 95.3h1M296.4 94.9h.7M261.4 95.1h.8M293.5 94.9h.6M257 94.9h1M260 94.8h.5M302.8 95.4h1M265.4 94.8h1M308.4 95.5h.7M267.9 95.4h1M311.5 95.5h.8M262.1 95.9h1M300.9 95.9h1M260 96h.5M261.6 95.6h.8M282.8 96.5h.5M264.7 96.1h.5M292.3 95.9h.6M304.9 96.2h.7M275.1 95.8h1M290.1 96.5h.6M315.6 96.1h.6M292 96.4h1M312.4 95.8h1M315 96.1h1M264.9 96.1h.7M262 96.3h.6M322 96h.6M289.2 96.2h.7M296 96.3h1M263.6 96.1h.7M267.4 96.3h1M330.4 96.6h1M318 96.9h.6M283.1 96.9h.8M278.2 97.6h.5M317.4 97.4h.6M299.5 97.4h.7M273.1 97.6h.7M296.2 96.9h.6M333.3 97.2h.8M281.3 97.5h.6M331.8 96.6h.5M302.2 97h.6M260.3 96.7h.6M261.8 97.1h1M263.8 96.7h.5M255.4 96.8h1M304.6 97.4h1M272.7 97h.5M325.8 96.8h.6M274.3 97.3h.6M327.9 97.2h.6M258.4 98.1h.8M267.6 97.9h.7M321.6 97.7h.5M258.6 98h.7M298.9 98.4h.8M313 97.8h.7M296.2 97.6h1M314.8 97.9h.7M333.1 98h.6M259.1 97.9h.8M316.5 98.4h.5M303 98.4h.7M315.7 97.8h.8M260.2 98.4h.7M328.8 98.3h.5M261.2 98.6h.7M271.9 97.7h.8M297.9 97.9h.5M308.4 97.6h1M267.2 97.7h.8M317 98h.6M305.7 99.1h.8M307.6 99.4h.5M294.7 98.8h.6M267.1 98.7h.8M292 99h.7M292 98.9h.7M272.7 98.9h.5M270.5 98.7h.5M319.8 99.3h.7M269.9 99.1h.6M266.6 98.9h.5M330.8 99.4h.5M269.6 99h.6M295.4 99.1h.5M333.2 99h.6M292 99.6h1M306.9 98.8h.6M328.3 99.3h.8M275.9 99.1h.8M264.4 98.9h.5M295.1 98.8h.7M286.1 99.6h.8M335.3 100.4h.6M264.5 100.2h1M290.1 100.4h.6M322.9 100h1M257.2 99.7h1M328.2 100.3h.6M290.3 99.6h.7M287.7 100.3h.7M272 100.2h1M282.7 100.1h.8M330.3 99.9h1M328.5 99.7h.8M283.3 100.4h.8M307.5 99.7h.8M282.1 99.8h.7M325.7 100.5h1M278.7 99.7h.6M268 100.2h.6M303.8 100.2h.8M274.9 99.7h.8M270.9 100.6h.7M328 101.5h.8M266.9 101.6h.7M294.4 101.1h.5M258 101.1h.8M321.7 100.8h.6M283.7 101.3h.8M260.7 101h.7M306.6 101.4h.8M316.6 100.7h.8M292.5 101.6h.5M314.5 101.3h.5M330.2 101.4h.8M312.6 101.3h.6M297.6 101h.8M321.7 100.7h.5M312.2 101.5h.7M311.1 101.2h.5M286.2 100.9h1M318.2 100.9h.8M259.6 101.8h.7M286.4 102.1h.8M316.3 101.8h.6M327.2 102.3h.5M302.6 101.6h.8M258.4 102.5h.6M296.7 102h.7M299.1 102.2h.8M288.7 101.8h.5M276.5 102.3h.5M323.7 101.7h.8M301.7 101.7h.6M300.6 101.6h.8M279.1 102h.5M315.3 102h.7M258.6 102.3h.6M297.7 102.3h.5M257.4 101.7h.8M308.8 102h.7M303.7 101.6h.8M305.2 102h.6M297.3 102.8h.7M324.9 103h.5M326 103h1M309.5 103.6h.6M260.7 103.1h.5M314.4 103.5h.6M306.1 103.4h.7M291.4 103.4h.8M274.4 103.6h.5M281 103.3h.6M258.2 103.2h.5M328.2 103h.8M288.7 103.4h.7M262 103.5h1M256.9 103h.6M264 103.1h.5M258.3 102.8h.7M312.2 103.2h.7M283.7 103.5h.6M325.7 102.8h.6M335.6 103.3h.5M318.8 104.5h1M290.9 104.6h.7M267.4 104.3h1M312.7 103.8h1M324.8 103.7h.8M323.2 104.5h.5M271.7 104.6h.7M335.2 104.6h1M289.2 103.7h.8M282.6 104.5h.7M303.9 104.4h.5M326.1 104.1h.6M261.8 104.2h1M270.3 104.4h.5M260.8 104.2h.5M262.7 103.8h.6M311.2 103.9h.8M274.3 104h1M305.2 104.3h1M293.3 104.4h.5M264.1 104.9h.7M296.4 104.9h.7M312.2 105.3h.7M284.6 105.3h1M297.4 105h.5M292.6 104.8h.7M309.2 105.2h1M333.1 104.7h.7M326.6 105.5h1M297.9 105.2h1M269.6 104.7h.7M267.1 104.9h1M280.1 105.4h1M333.8 104.9h1M311.7 105h.5M276.9 105.3h.8M275 105.2h.5M267.6 105.5h.5M316.5 104.7h.7M334.9 105.3h.5M285.1 105.7h.5M301 106.3h1M318.4 105.9h.5M324.8 106.6h.5M333.9 106.5h1M309.8 106.3h.7M288.1 105.7h.5M320.1 106.3h.6M271.8 106h1M332.1 106.5h.7M257 106.2h.5M278.9 106.5h1M256.3 106.6h.5M286.4 106.3h1M334.2 105.7h.8M268.8 106.1h1M293.4 105.6h.5M257.8 106.4h.6M267.2 105.9h1M276.2 106h1M258.1 106.8h.8M297.9 107.4h.5M328.3 107.3h.6M319.4 107.4h.8M295.1 106.8h.8M267.2 107.2h1M318.5 106.6h.7M265.9 107.2h1M277.6 107.5h.7M329.3 107.2h.6M264.1 106.9h.6M259.3 107.3h.7M315.2 106.8h.7M303.5 106.6h.6M329.6 107.1h.7M294.1 107.3h.5M295.9 107.2h.6M321.4 106.8h.5M286.6 107.6h.7M319.1 106.8h.6M295.6 108.2h1M277.3 107.7h.8M306.7 108.6h.8M319.3 108.5h.7M270.9 108.5h1M303.3 108.2h.5M259.5 108.2h.7M270.4 108.5h.7M276.6 108.1h.7M331.9 108.2h.6M258.2 108.6h1M272.8 107.7h.7M330.5 107.8h.8M278.2 107.9h1M278.9 108h.5M325.1 107.7h.7M312.8 108.4h1M330.8 108.2h1M324.6 108.3h.6M275.5 108.5h.7M272.7 109.2h1M320.4 109.5h1M267.1 109.5h.6M282.5 108.9h.6M295.6 108.7h1M294.4 108.9h.8M300.8 109.4h.7M334.6 108.8h.7M315.2 109.3h.6M314.7 108.7h.5M315.9 108.8h.5M282.7 109.5h.7M270.3 109.3h1M299.4 109.4h.5M260.7 109h1M297.3 109.5h1M291.4 109.1h1M294.5 109.5h.5M319.1 109.2h1M265.2 110.4h.5M265.7 110.4h.7M301.7 109.7h.5M270.2 109.8h.7M309.6 110.3h.7M328.2 110.4h.5M260 109.9h.8M303.3 109.8h1M323 110.4h1M276.9 109.8h.6M290.4 109.8h.5M308.8 110.3h.7M323.5 110.5h.5M282.8 109.9h.7M328.6 110.4h.8M275.5 110.3h1M296.4 110.1h1M313.5 110.3h.8M287.1 109.8h.5M275.4 110.1h1M278.6 110.7h.8M317.3 111.2h.5M301.5 111.4h.6M276.6 110.8h1M257.6 111.5h.8M304.7 110.7h.5M303.7 110.8h.5M283.7 111.3h.6M332.3 110.9h.7M284.7 111.2h1M276.8 110.9h.5M315.8 111.4h.8M290.7 111.6h.7M283.6 111.2h.8M335 110.9h.6M281.3 111.2h1M332.1 111.4h.5M270.8 111.3h.5M313.1 111.2h.6M325.8 112h.7M307.7 112.1h.8M283.6 111.9h1M280.4 112.3h.7M321.7 112h.8M290 111.8h.6M296.7 112.3h.5M323.6 111.7h.8M258.3 112.1h.8M312.5 112.3h.8M272 111.8h.7M283.7 111.9h.5M267.7 111.9h.6M283 111.9h1M279.4 111.9h.7M302.5 112.1h.5M256.9 111.9h1M314.9 112.1h.6M279.9 111.7h.6M261.3 113.2h.5M282 113.5h1M305.5 113.4h.8M313.2 112.6h.7M262.5 113.2h.5M316.1 113.2h.8M301.2 113.3h.5M310.7 113.3h.6M325 113.4h.7M316.3 112.8h.7M266.9 113.5h1M312.2 113.3h.5M273.4 113.5h.6M314.2 112.8h1M279.7 112.9h.6M332.8 112.9h.7M263.1 112.8h.7M323.9 112.6h.5M274.1 113.1h.5M256.2 114.6h1M271 113.8h.7M261.7 114.4h.7M307.8 113.6h.7M330 114.5h.6M298.9 114h.8M325.7 114.1h.7M288.4 114.4h.6M294.1 114.4h.8M304 113.9h.8M297.1 113.7h.6M270.7 114.4h.8M324 113.8h.5M256.9 114.3h1M325 114.3h1M268.8 114.5h1M277 113.7h.5M276.4 113.8h1M302.3 113.8h1M321.5 114.8h.5M323.4 114.7h.8M326 115.2h1M278.5 115.3h.8M257.4 115.2h.5M331.4 115.4h.8M266.2 115.4h.7M297.9 115.1h.6M309.6 115.5h.6M295.4 115.1h.8M281.1 114.8h.7M304 114.7h.8M265.5 115h1M300.1 115h1M274.5 115.2h.5M318.2 115.5h.8M326.4 115.4h.7M305.3 115.2h.7M293 114.7h.6M275.6 115.9h.5M257.6 116.2h1M293.9 115.8h1M277 116.4h.8M262.4 115.9h.7M273.8 115.7h.7M325.2 116.1h.6M282 116.5h1M309.6 116.1h.8M268.7 115.7h.8M302.1 116h.7M297.5 116.1h.7M308 115.8h.7M278.7 116.3h1M330.1 116.5h1M262.5 116.2h.5M311.5 116.2h.8M330.5 116h.8M315.8 117h.5M255.7 117.2h.5M265.2 117.2h.7M318 117.4h.8M269.6 116.8h.5M277.9 116.8h.6M262.3 116.7h.8M257.3 116.7h.6M273.8 117.2h.8M269.7 117.5h.7M304.5 117.5h.7M275.6 116.8h.6M266.6 117.3h.7M316.9 116.9h.6M297.4 117.1h.8M334.5 116.6h.6M314.2 117.3h.7M303.3 117.2h.7M313.6 117h.8M270.8 118.6h.5M324.5 118h.8M290.6 118h.5M303 117.8h.8M271.5 118.4h1M262.7 117.7h1M298.2 118.2h.6M321.7 118h.7M325.5 118h.8M307.8 118.5h.6M305.8 118.1h.5M307.3 118.4h.8M256.3 117.8h.5M266.9 118.1h.7M328.1 117.9h.8M289.8 118.2h.6M300.1 117.8h.7M260 118.2h.5M266.5 119.6h.8M305.5 118.9h.8M261.7 118.7h.6M335.3 119h.8M329.6 119.4h.5M322.4 118.7h.8M278.1 118.6h.5M290.9 119.2h1M334.3 119.5h1M275.7 119.5h.7M304.9 119.4h.7M277.9 119.1h1M268.7 119.1h1M325.7 119.6h.8M327.5 118.8h.8M277.1 119.6h.6M270.4 119.4h.8M328.7 119.5h1M288.5 120h.7M319.2 120.2h1M300.7 120h.5M330.6 120.2h.8M281.2 120.2h1M332.2 119.9h.7M325.1 120h.7M306 119.6h.5M280.3 120.1h.7M288 119.6h.8M296.7 120h.8M314.7 119.7h.6M328.9 120.4h1M329.8 119.9h1M282.8 120.5h.5M335.7 120h.7M308.8 120h1M284.8 120.4h.6M268.4 121.5h.8M309 121.3h.7M311.3 121.5h.6M317.5 121.3h1M305.4 120.9h.8M333.3 120.9h.5M294.8 120.9h.6M311.8 121.2h.8M328.8 120.8h.7M299 121.3h.7M322.4 120.7h1M256.3 121.3h.8M318.2 121.2h.7M273 121.1h1M331.7 121.1h.8M279 121.2h.5M280.9 120.8h.5M285.3 120.9h.7M291.7 121.9h.7M303.1 122.4h.8M290 122.5h.6M291.4 122.3h.6M320.8 121.9h.6M315.9 122.1h1M333.8 121.6h.7M261.2 122.2h.6M282.9 122.3h1M310.5 121.8h.7M297.5 122.1h1M285.7 121.7h.5M287.2 121.8h.7M309.3 122.4h.5M258.8 122h.8M333.2 121.6h.7M309.3 121.8h.7M314.3 122.3h.6M270.7 123.3h.7M303 122.7h.7M298.9 122.7h.7M278 122.9h.5M294.4 123.6h.8M310.7 123h.7M261.1 123.1h.7M265.2 123.6h.7M263.4 122.9h.6M323.2 123.2h.7M281.7 122.9h.5M262.9 123.4h.8M299.1 123.4h.8M293.4 123.3h1M304.9 123.4h.8M276.6 122.9h.8M272.5 122.9h.7M334.7 123.8h.5M332.2 124.2h.7M294.5 123.8h.7M275.8 124.4h.7M298.5 123.6h.8M257.2 124.1h.8M304.7 124.3h.5M312.2 123.7h.8M319.7 123.9h.5M287.5 123.8h1M268.8 123.8h1M320.3 124.5h.5M292.4 124.3h.8M312.5 124.4h.7M321.3 124.1h.8M328.6 123.9h.6M320.4 123.9h.8M266.6 124h1M302.1 125.2h1M300.7 125.3h.6M292.1 125.2h1M269.8 125h.6M263.6 124.9h.6M293.7 125.2h.5M277.8 125.3h.7M257.3 125.2h.6M305.6 125.1h.5M317.3 125.3h1M316.3 125h.8M323 125.3h1M268.8 125.4h.5M328.1 125.4h.7M263.3 125.3h.6M304.6 124.7h.6M292.2 124.7h.7M287.4 126.1h.5M272.8 126h.6M335.6 126.5h.8M322.2 125.9h.7M292 126.3h.8M319.3 125.7h.6M318.8 125.7h.7M272.9 126h.6M307.8 126.4h.5M272.9 125.8h.6M327.6 126.4h.7M302.1 126h1M296.4 125.7h1M282.3 126.4h.8M296 125.6h.5M318.6 126.2h.8M322.3 125.9h.6M331.6 127.1h1M316.6 127.3h1M258.2 126.8h.5M299.7 127.4h.5M268 126.8h.6M257.1 127.5h.8M333.2 127h.7M306.3 127.5h.7M331.2 126.6h.5M317.4 126.9h.8M286.6 126.7h.7M314.3 126.8h1M266.3 126.7h.7M297.4 126.8h1M302.7 127.1h.7M282.7 126.9h.5M316.3 127.2h.8M320.7 127.9h.5M317.8 128.3h.5M284.4 128.1h1M326.1 128.2h.7M304.4 127.8h.5M299.6 128h.5M306.5 128.6h.5M286.8 127.9h.6M265.4 128.6h.7M332.4 128.6h.5M266.2 128.1h.5M334.9 127.7h.6M320.4 128.3h1M267.1 127.8h1M263.5 128.5h.8M278.6 128.3h1M276.2 127.6h.6M316.2 127.7h.6M309.7 129.1h1M332.2 128.7h1M320.7 129.3h.7M273.6 128.9h.5M327.5 128.9h.5M331.5 128.7h.8M320.9 129.3h.8M308.5 129.4h.5M288.4 128.9h.6M302 129.3h.7M272.2 129.5h.5M282.4 129.2h1M311.1 129h.5M275.7 129.1h.7M266.6 129.2h.8M292.3 128.7h1M312.4 128.9h.6M290.1 129.9h1M307.2 130.2h.5M318 130.4h.8M325.7 129.7h.5M292.5 130.1h.8M293.4 129.8h.8M318.3 129.7h.8M258.1 130.1h.7M282.3 130.2h.6M335.6 130.5h.5M309.3 130.5h.6M256.1 130.1h.6M324.2 130.3h1M270.5 129.8h1M297 130.3h.8M290.8 129.8h.8M255.9 130h.7M314.9 131.3h.6M268.8 131.4h1M278.6 131.5h.5M276.3 131.5h.6M322.1 131.5h.7M324.2 131.4h.8M310 130.9h1M328.9 130.6h.6M298 131h.7M317.1 130.9h.8M259.2 131.3h1M263.1 131.2h1M257.9 131.2h.6M265.5 130.7h.6M275 131.6h.8M257.6 131.6h.6M305.2 132.5h.6M268.1 132.3h.7M284.9 132.2h.7M316.9 131.9h.6M301.8 132.2h.5M310.8 132.3h.8M311.2 131.7h1M323.2 132.2h.7M295.4 132.5h1M334.6 132.2h.7M327 132.1h.8M326.7 132.3h.6M329.3 131.8h.6M273.6 131.9h.7M321 132.5h.6M290.7 132.5h.5M284.9 132.8h.8M308.3 133h1M264.2 133.1h.6M330.2 133.5h.5M299.5 132.8h.5M274.6 133h.6M324.6 133.3h.6M296.6 133h.8M318 133.4h1M306.8 133.2h.6M334.9 132.7h1M285 133.1h.6M324.6 132.8h.8M335 132.7h.7M317.4 133.3h1M308.4 133.1h.6M313.1 133.4h.5M313.9 134.2h1M306.6 134.6h.5M264.1 133.9h.8M268.9 133.9h1M276.5 133.8h.7M292.1 134h1M332.3 134.5h1M274.2 134.6h.5M285.1 134.3h.5M266 133.7h.8M279.9 133.9h.7M296.5 134.2h.7M329.4 134.2h.7M298.2 134.2h.5M330.5 133.8h1M331.4 134h.7M297.7 133.9h.6M290.5 134.9h.5M321.8 134.8h.8M279.2 134.9h.5M296.6 135.2h1M316.6 134.8h1M261.5 135.1h.6M283.2 134.6h.7M334 135h.6M286.7 135h.6M277.9 135.4h.6M311 135.5h1M279.5 135.4h1M312.8 135.1h.6M293.5 134.7h1M325.7 134.7h.8M322.8 135.4h1M297.2 135.7h.6M269 135.7h1M256.6 135.7h.6M291.2 136.1h.7M288.7 136h1M297.4 136.2h.5M314.5 135.7h.6M268.5 135.6h1M304.5 136.6h.8M322.6 136.1h.7M260.5 136h1M256.2 136.4h.6M306.7 135.7h1M266.8 135.7h.8M265.4 136.5h.8M281 136.6h.5M289.7 135.7h.7M278.5 136.6h.6M326.3 137h.5M326.6 136.6h.7M293.1 137.1h.7M327.2 136.6h.8M322.1 137.1h.8M313.7 137.2h.6M276.7 136.8h.6M301.9 137.6h.5M327.3 137.4h.7M287.6 136.8h1M316.8 137h.8M316.5 136.8h.6M259.5 136.7h.5M329.4 137.4h.6M260.6 137.5h.5M298 138.2h1M298.3 138.4h.5M282.5 137.6h1M270.7 138.2h.8M324.7 137.9h.6M334.9 137.6h.6M285.9 138.6h.6M303.6 137.6h.5M321 137.8h1M294 138.5h1M329.3 137.9h.5M283.7 138.1h.7M316 138.5h.7M272.3 138.1h1M270.4 137.7h1M280.9 137.8h.5M308.5 139.2h.6M306.5 138.8h1M276.1 139.4h.7M265.1 139.4h1M304.9 139.2h.5M263 138.9h.8M317.3 138.9h1M257.8 139.4h.8M323.9 139h.8M295.2 139.4h1M306 138.7h.8M304.3 139h1M275.3 139.2h.5M323.5 139.3h.5M328.2 138.6h.7M309 138.7h.8M322.6 140.2h1M276.1 140.2h.7M308.4 140.3h.7M295.7 140h.7M335 139.6h.8M277 140.3h1M281.6 140.2h.5M309.9 139.8h.8M287.3 139.8h.8M262.5 140.6h1M260 140h.5M316.8 140.2h.6M333 140.2h1M322.8 139.7h1M286.4 140.6h.5M272.3 141.4h.8M265.5 141.1h1M291.5 141.6h.5M287.8 141.1h.5M281.6 141.2h.8M257.8 140.6h1M283.9 141.5h.8M282.5 140.7h.5M264.6 141h.5M256.2 141.3h.7M327.3 140.8h.6M278.4 141.3h.8M272.7 140.8h.7M313.1 140.8h.6M327.2 141.1h1M305.6 141.6h.8M287.4 142.3h.7M270.2 142.3h.7M310.2 142.2h.6M331 141.9h.6M308.8 142.6h.8M310.4 142h.8M335.8 142.3h.6M284.7 142h.5M307.4 142h1M328.7 142.4h.6M286.4 142h.5M277.5 141.7h.6M335.2 142h.8M279.6 141.7h.8M330.1 143h.8M265.6 143.4h.6M300.4 142.8h.7M286.8 142.8h.5M326.5 143.5h.8M305.1 143.2h.5M292 143h.7M317.5 143.4h.8M330.3 143.5h1M266.3 142.9h.8M325.8 143h.6M270 143.5h.5M293.6 143.5h.6M283.6 143.5h.5M316.1 142.9h.5M275.2 144h1M259.6 144.3h.7M293.1 144.4h.5M268.5 144.3h.5M331.9 144.5h1M279.9 144.4h.5M272 143.6h.6M266.2 144.4h1M298.7 144.5h.8M287.5 143.8h1M311.7 143.6h.7M269.4 143.8h.7M262.9 143.6h1M319.6 144.4h.8M296.1 143.7h1M313.4 145.3h.7M273.9 145.1h.7M316.2 144.8h.6M263.3 144.9h1M309.3 144.9h.8M314.2 145.2h.7M329.6 145.3h.7M259.2 145.5h1M298.5 145.4h.5M265.5 144.7h.7M278.9 145.3h.7M295.1 144.7h.8M302.1 145.3h.5M333.7 145.3h.6M312.7 144.6h1M260.2 146.4h.5M267 145.7h1M268 146.3h.7M277.4 146.5h.8M325.3 146.3h.8M256.7 146.1h1M265.7 145.8h.6M331.9 145.7h1M324.4 145.6h1M314.6 146.1h.7M261.4 145.6h1M258.5 145.9h.8M266.8 146.5h.8M262.5 146.1h.6M282.3 146h.7M260.9 147.6h.7M334.1 147.2h.6M271.8 147.5h.7M262.5 147.1h.5M279.1 146.9h.7M323.2 146.9h.7M316.9 147.4h.7M331.7 146.8h1M261.8 147h.5M264.7 147.4h.6M263.8 147.2h.7M308 146.8h.5M274.8 146.7h.5M279.7 146.9h.7M320.3 147h1M325.7 148h.7M304.1 148.2h.7M325.1 147.7h.5M261.1 148.3h1M261.6 148.3h1M331.6 148.4h.8M288.8 147.6h1M335 148.3h.8M328.5 147.9h.6M319.8 148.5h1M288.6 148.1h.5M275.8 148.5h.6M326.6 148h.8M283.8 147.9h.8M324.8 148.1h.6M282.9 149.6h1M306 149.1h.5M265.2 149.3h.8M321.7 149h1M321.4 148.9h1M287.6 148.9h.8M268 149h.5M302.4 149.4h.6M271.1 148.7h.6M274.7 149.1h.5M259.1 148.7h1M320.5 149.2h.8M270.4 149.5h1M261.9 149.1h.6M274.7 149.5h.8M295.3 149.8h1M297.7 150.2h.6M319.7 149.8h1M266.6 150.5h.8M305.7 150.5h.8M260.6 149.8h1M297.7 150.3h1M279.3 149.9h.5M316.5 150.2h.7M324.3 149.8h1M255.9 150.3h.7M295.1 149.6h1M298.3 150.1h.7M262.6 149.9h.6M293.2 150.4h1M262.5 151.6h.5M328.9 151.6h.6M334.5 151.3h1M315.9 151h.7M297.5 151.5h.8M303.1 151.2h.5M282.7 150.8h.5M282.1 151.1h.8M320 150.8h.8M283.5 150.9h.5M309.7 150.7h1M319.8 150.7h.6M287.4 151.4h.5M306.8 151.1h.7M324.5 151.4h1M261.3 151.9h.7M308.8 151.6h.6M299.7 152h.8M288 152.5h.6M261 152.3h.7M259 152.6h1M314.2 152.1h.5M308.6 152.2h.6M282.3 151.8h.5M304.8 151.9h.6M257.5 152.5h.8M275.6 151.7h.8M286.5 152h.7M280.4 151.7h.6M269.3 152h.6M314.5 152.9h.5M322.8 153.3h.6M291.7 153.5h.8M325.8 152.7h1M323.2 152.8h.6M260.3 153h.7M267.4 153.5h.5M314.7 152.7h1M286.3 152.7h1M257.1 153.3h.8M274.7 153.3h1M326.2 152.8h1M311.2 152.7h.8M267.7 153.2h1M256.4 154.5h.6M292.2 154.2h.5M309.8 154.5h.8M255.3 154h.5M282.6 154.5h.5M266.3 154h.7M274.2 153.9h.8M329.7 153.7h.6M290.5 153.9h.7M285.4 153.9h.6M279.6 153.7h.6M331.3 153.7h.7M266.5 154.1h1M298.7 154.4h.6M263 154.8h.5M306 154.7h.7M264.5 155.2h1M283.1 155.6h1M284.8 154.8h.5M296.5 154.6h.5M329.9 155h.5M313.8 155h.7M268.5 155h1M262.9 155h.7M260.7 155.5h.8M317.8 155.2h.5M332.4 155h.6M310.2 155.5h.7M260 156h1M334.7 156h1M325.2 156.3h.8M326.8 156.5h.7M268.6 155.8h1M283.8 156.2h.6M292.4 156.1h1M291.8 156.2h1M296.4 155.9h.5M284.5 156.5h.6M318 156.3h.6M277.5 156.1h1M286.1 156.5h1M320 156.4h.5M333.8 157.2h1M312.8 156.7h.6M271.5 157.5h.6M311.7 156.7h.8M333.8 157.5h.6M260.5 157.2h.7M304.5 156.8h.7M306.9 157h.5M258.5 156.9h.6M323 156.6h.8M275.5 156.6h.7M287 156.8h.7M314.9 156.6h.8M335.4 158.5h1M335.5 158h.7M299.7 157.7h.7M256.7 158h.7M262 157.8h.6M331.4 158.5h1M320.9 158.1h.8M306.1 158h.8M310.4 157.9h.8M323.9 158h1M266.8 157.7h1M287.5 158.5h1M285.7 158.4h.7M320.5 157.7h.5M308 159.3h.6M263.5 158.7h.8M279 158.9h1M259.1 158.8h.6M309.4 159.2h.5M285.8 158.7h.6M303.9 159.4h.7M302 159h.6M269 158.7h.5M271.1 158.7h.8M299.4 158.8h.5M331.4 159.2h1M256.2 158.9h.8M322.8 159.1h1M305.8 159.7h1M260.1 160.6h.8M260.1 160h.5M280.2 159.7h.5M288.5 160.6h.6M314.9 159.6h.6M335.1 160h.5M327.5 160.2h.5M316.6 160.3h.7M324.6 160.2h.7M309.9 160.2h1M286.6 160.5h.6M276.9 159.9h.8M261.2 160.7h.5M261.6 161h.5M295.8 160.9h.7M300.7 160.8h.6M300.7 161.4h1M285.8 160.9h.6M292.9 161h.5M291.2 160.7h.6M267.2 161.5h.7M272.2 161.4h1M288.1 161.2h.6M269.3 160.9h1M299.5 161.2h.6M287.4 162.1h.8M298.7 161.8h.6M316.1 161.9h.6M323.6 162.6h.8M277.2 162.2h.7M286.7 162h.7M295.4 161.8h.6M286.1 162.4h.6M298 162.1h.5M259.4 162.2h.6M317.9 162.5h1M323.8 162.1h.7M312.2 161.8h.8M299.4 162.2h.6M272.6 163.5h1M273.2 163.2h1M331.8 163.4h1M306.2 163.1h.5M281.1 163.1h1M258 162.8h1M308.7 163.6h.7M317.8 163.2h.7M321.2 162.6h.5M285 163.1h.8M281.5 163.4h.6M294.6 163.1h.6M329 163.2h.8M322.6 164.3h.5M307.5 163.9h.8M286.5 163.7h.7M268.2 164h.6M266.9 164.4h.8M285 164.4h1M299 163.7h.8M328.8 163.9h1M310.2 164.5h.5M323.6 164.6h.5M315.2 164.3h.7M312.6 163.7h.8M272.6 164h1M288.8 165.1h.7M296.8 165h.5M322.4 164.8h.8M335.1 165.4h.8M260.9 164.6h.8M290.8 164.7h.6M295.1 165.2h.6M289.7 165.1h.8M261.6 165.5h.5M296 165.2h.7M314.4 165.1h.6M326.7 164.9h1M326.4 165.3h.8M328 166.3h.6M332.6 166.4h.8M296.4 166.2h.5M333.8 166.4h.7M277 166.4h1M308.6 166.2h.6M308.5 166.4h.8M322.9 166.2h.8M323.3 165.6h.8M291 166.4h.8M265.8 165.9h1M268.8 166.6h.7M273.1 166.1h.8M317.3 167.1h.5M291.6 167.1h.5M263.7 166.6h.6M284.9 167.3h.6M283.7 166.7h.6M292.8 166.9h.8M322.5 167.3h.5M306.8 167.6h.7M324.2 167h.7M291.2 166.6h1M290.6 167.6h1M270.2 166.7h1M311.2 167.2h1M327.2 167.7h.6M301.3 168.4h.7M266.1 167.6h.8M266.1 168.2h.5M297.2 168.4h1M257.6 168.1h.8M269 167.7h.8M287.1 167.9h.5M298.1 167.6h.6M260.4 168.2h.5M308.5 168.3h.5M332.2 168.1h.6M257.4 168.9h.5M300 168.9h.6M267.1 168.9h.7M298.6 169.2h.7M300.3 168.7h.5M324.1 169.3h.8M330 168.8h.7M289.8 169.5h.7M309.7 168.7h.8M263.4 169.5h1M294.8 168.7h.6M282.7 169.2h1M324 170.3h1M329.7 169.9h.5M273.6 169.7h.7M328.6 169.9h.7M267.1 170.4h1M315.1 170.2h.7M277.8 169.9h.7M322.1 169.6h.5M275.6 170.5h.5M284.8 169.8h.6M285.5 170.4h.7M334.4 170.1h1M278.4 169.6h1M277.9 171.1h1M327.3 170.8h.5M321.4 170.9h1M268.6 170.7h.7M307.9 171.3h.5M278.1 171.2h.8M328.7 170.9h.6M297.4 171h.6M297.9 171.3h.5M282.1 171.2h.6M303.4 170.8h1M331 170.6h.6M269.4 171.1h.5M308.6 171.9h.7M285.8 172h.8M315.4 172.2h.7M328.3 172.6h.8M297.9 172h.8M299.1 172.5h.5M292.2 171.9h.5M329.8 171.7h.7M319.8 171.9h.7M298 172.1h.8M309.9 171.9h.7M278.8 172.4h.8M315.8 173h.6M285.9 172.9h.7M310.3 172.8h.6M316.3 172.7h.8M334.2 172.7h1M277 173.1h.6M309.7 173.1h1M275.2 173.2h.8M258.1 173.3h.5M288.1 172.7h1M328 173h.7M265.3 172.8h.8M294.5 173.6h.7M258.4 174.1h.5M281.3 174.6h.7M325.1 173.6h.8M304.1 173.9h.8M292.4 174.2h1M256.1 174.2h.5M284.9 174.4h.8M262.3 174.3h.7M265.2 174.1h1M309.2 174h.5M276 173.6h.8M273.5 174.8h1M282.5 175.3h.6M312.5 174.8h.5M335.4 174.8h.5M258.8 174.8h.6M272.2 175.6h.5M257.3 175.6h1M258.7 174.8h.6M300.9 174.6h1M280.1 174.9h.5M314.3 175.5h.7M307.2 175.1h.6M327.7 176.2h.6M321.7 176.4h.6M259.6 175.8h.5M289.3 175.8h.7M309.1 176.5h1M299.4 176.4h1M317.9 175.8h.8M259.5 176h.6M292.6 175.9h.5M281.9 176.4h.5M314.8 175.7h.7M288.8 176h.6M312.2 177.6h.5M273.9 177.2h.5M326.3 177.6h.6M301.1 177.3h.7M319.1 176.6h1M296.4 177.4h1M258.4 177.3h.6M333.2 176.7h.8M277.3 177.2h.8M286.8 176.9h.8M334.1 177h1M273.1 177.5h.7M326 178.3h.5M331 177.8h.8M264.9 178h.5M305.5 177.8h.8M314.2 177.9h1M273.7 178.3h.5M306.6 178h.5M307.6 178.6h.6M263 178.5h.7M326.5 178h1M280.2 177.7h.5M275 178.3h.5M335 179.5h.7M301.8 179.4h.5M307.5 179.3h.5M305.1 179.2h.7M328.6 179.5h1M301.6 179.5h.7M267.1 179.4h1M289.6 179h1M325.1 179.5h.5M311 178.6h.7M313.8 178.8h.5M311.3 179.6h1M281.2 180h.5M268 180h1M257.2 180.6h.5M332 179.6h.8M325.7 180.6h1M334 179.7h.8M328.7 180h.7M267 179.8h.7M298.1 180.5h.6M281.6 179.7h.6M292 180.4h.8M312.5 179.6h.6M335.5 181.2h.6M255.9 180.7h.5M304.7 181.2h.6M310.7 180.8h.6M313.8 181.4h.5M307.5 180.9h.8M277 181h.7M290.6 181.3h.5M324.6 180.9h.6M279.1 181h.8M315.8 181h1M301.3 181.5h.8M289.7 182.1h1M295.8 182.4h1M317.8 182.4h.7M266 182.4h.8M319.7 182h1M270.7 181.7h.7M324.2 182.6h.6M291.1 182.4h1M271 181.7h.8M316.7 182.1h.6M319.2 181.7h.6M287.5 181.8h1M286.8 183.5h.6M261.9 182.7h.5M257 183.1h.8M300.4 182.7h.6M275 183h.6M296.4 183.5h.6M258.4 183.2h.7M257.8 182.7h.7M268.7 182.9h.7M329.5 183.5h.7M316.5 183.1h.5M317.4 183.7h.8M272.2 183.7h.5M327.2 184.3h.7M322 184.2h.7M290.5 183.7h.5M320.1 184.1h.5M269.7 184.2h.5M312.2 184.4h1M286.7 183.9h.8M335.9 184.4h.6M255.4 184h.5M259.8 185.5h.7M320.2 185.1h1M294 185h1M270.9 184.9h1M272.7 184.9h1M299.9 184.7h.8M273 185.6h.6M315.4 185.5h.8M265.2 185.4h.8M303.3 185.2h.7M331.6 185.4h.7M324.7 186.5h.6M325.9 186.1h.7M311.4 185.9h.6M320.5 185.7h.5M301.8 186.1h.7M304.1 185.6h1M323.6 186.6h.5M268.3 186.3h.8M319 186.5h.7M282 186h.5M314.1 187.3h.5M331.6 187.2h1M301.5 187.3h.5M262.8 187.2h.5M288.9 187.3h.7M267.2 187.5h.6M324.6 186.8h1M305.4 187.4h.8M267.5 186.7h.5M289.8 187.4h.7M318.6 188.5h.5M260.8 188.4h.7M287.4 187.6h.7M330.4 188.3h.8M316.3 188.1h1M298.9 188.3h1M275.1 187.9h.7M301.4 188.3h.5M328.8 188.2h.6M285.3 188.3h.5M263 187.9h.8M333.1 188.9h.5M268.7 189.4h.6M324.9 188.7h.6M333.3 188.9h.6M313.4 189.6h.7M307.2 188.6h.7M281.1 189.3h.7M312.4 188.6h.7M295.5 189.4h.7M288.7 188.9h.6M257.1 190.4h.5M284 190.3h.6M259.2 190.4h.5M304.6 190.1h1M331 190.3h.7M258.2 190h.8M325.9 190.2h.6M296.5 190h.5M308.6 189.8h1M268.7 190.3h.8M304.2 190.2h.5M326.3 191h.6M256.1 191.4h1M310.4 191.3h.7M303.5 190.9h.5M294.8 191.5h.7M285.2 191.1h.8M303.6 191.1h.6M316.5 190.9h.5M263.5 191.6h1M259.5 190.7h.6M305.9 191.9h.5M281 192.4h.5M283.5 191.7h.8M332.8 192.4h.8M310.1 191.7h.6M332.4 192.4h1M268 191.6h.7M309.3 192.6h.8M325.7 191.7h1M288.2 191.8h1M302.9 192.7h.8M259.8 193h.6M294 192.9h.5M255.9 192.7h.7M286.5 193.2h.7M308 192.8h.5M272.8 193.1h1M280.5 193.3h1M331.7 193.3h.8M335.3 192.9h.5M333.5 194h.6M262.3 194.4h.8M290.4 194.4h.7M266.3 194h.8M335.3 194.3h.8M286.4 194.1h1M328.2 194.6h.6M270 194.1h1M313.2 194.6h.8M316.4 194.1h.7M268.7 194.9h1M291.6 194.7h.8M278.4 194.9h.5M284.4 195.2h.6M312.2 194.9h.8M313.4 194.9h.5M296.1 195.3h.5M321.4 194.7h.5M282.1 195.4h.8M318 196.5h.8M313.8 195.9h1M288.1 195.9h.5M267.5 196.5h.6M283.2 195.6h.5M329.5 195.8h.5M310.7 196h.6M325.7 195.9h.7M322.2 195.9h.7M312 196.1h.8M295.3 197.4h1M277.6 197.3h.6M285.8 197.2h1M325.3 197.6h.7M284 196.6h.5M305.1 197h.7M324.4 197.2h.5M260.5 197.2h.8M266.7 197.3h.7M312.9 197.4h.7M326 198.1h1M316.3 198.4h.5M263 197.8h1M299.4 197.7h.8M294.5 198.4h1M316.9 197.9h.6M323.8 197.7h.8M322 198.6h1M271.7 198.2h.7M314.5 198.8h1M275.5 199.4h.8M331.6 198.7h.6M319.4 199.3h.8M313.6 199.2h.5M264.4 199h.6M321.6 198.6h1M261.6 198.8h.6M285 199.3h.6M273.9 199.8h.7M263 199.7h.6M261.6 199.8h.7M265.8 200.2h.7M312.5 200.3h.6M278.4 200.2h.5M295.9 200.5h.8M308.8 200.1h.5M320.4 200.6h1M290.2 199.8h.6M310.7 201.4h.8M324.9 201h.7M329.6 201.4h.7M279.8 201.2h.6M298 200.7h.5M255.8 200.7h.6M304.4 201.4h.7M291.5 201.3h.5M313.5 200.7h.5M295.9 202.5h.8M311.1 202.2h.6M331.1 201.9h.5M329.6 201.8h.8M314.6 202.3h1M277.3 201.8h1M300.7 202.1h1M271.6 202.3h.8M259.4 202.6h1M304.4 201.8h.7M327.1 203.5h.6M289.2 203.2h.6M302.6 203.4h1M302.4 203.3h1M270.1 203.1h.8M313.9 202.7h.7M332.1 203.2h.8M282.3 202.6h.6M270.3 202.6h.7M308.7 203.9h.7M316.6 203.8h.8M333.7 204.6h1M307.5 204.2h1M309.1 203.8h.7M269.2 203.9h.8M271.6 204.4h.7M306.8 204.6h1M321.7 204.4h.7M257.7 205.1h1M263.8 204.8h1M334.9 205.3h.7M292.3 204.8h.5M306.4 205.5h.8M262.8 204.8h.8M261.5 205.1h1M288.4 204.9h.7M320.3 205.2h.8M329.6 205.7h1M289.5 205.7h.6M284.1 205.8h1M323.6 206.4h.6M291 206.2h1M260.8 206.4h.8M259.7 205.8h.5M287.6 205.9h1M330.8 205.8h.5M327.2 206.6h.6M297.2 207.5h.8M279.6 207.4h.7M293.9 207h.8M310.5 206.9h.8M282.8 206.8h.8M268.6 207.1h.5M292.8 206.7h.7M281.6 208h.8M282.1 207.6h.6M292.3 207.6h.7M321.1 208.4h.5M273.5 207.8h.7M285.3 208.1h.7M314.4 207.9h.5M316.8 208.1h.7M328.6 209.2h.6M282.8 208.6h.5M300.5 209.3h.8M297.9 209.3h.5M294.7 209.1h1M284.7 209.3h1M331.9 208.9h1M298.5 209.3h1M266.3 209.2h.6M326.5 210.4h1M334.7 210.1h1M316.5 210.2h.6M269.7 210.3h.8M265 210.2h.8M272.6 210.4h.7M265.3 210.3h1M261.3 210.3h.7M301.7 211.5h.8M279.2 211h.7M283.6 211.4h.6M309.2 211.1h.5M260.6 211.2h.7M327.8 211.6h.5M315.7 210.8h.7M274.1 210.6h.7M291 212.3h.5M314.2 212.1h.8M310.2 212.1h.6M302.8 211.9h.7M279.1 212.3h1M315.3 211.6h.8M296.2 212.6h.6M281.1 212.2h.7M265.1 213.1h.7M311.2 213.4h.5M328 213.1h1M275.7 213.3h1M319.1 213h.7M309.8 213.4h.5M285.4 213.3h1M283.7 214.4h.6M284 214.5h1M279.8 214.3h1M285.6 214.6h.6M283.4 213.7h1M309.8 214.4h.8M257.7 214h.8M276 215.3h1M306.4 215.2h.8M298 215h.8M290.6 214.9h.7M298.2 215.1h1M334.9 215.2h.5M321 215.4h.6M290.2 215.6h.7M260.5 216.3h.6M256.9 216.4h.8M300.8 216.3h.7M258.8 215.7h.8M329 216.1h.5M257 216.3h.5M333.2 216h.6M309.9 216.9h.8M266.8 217h.8M261.3 217.5h.7M269.2 217h.5M270.3 217.5h.6M318.7 217.5h1M325.6 217.4h.7M306.4 218.1h.6M266.2 217.8h.7M292.7 218.2h.6M308.9 218.2h.5M255.9 217.9h.5M278.8 218.6h.5M291.6 218h.8M324.7 219.3h.6M260.6 218.8h1M267.3 219.3h.6M333.7 219.3h.8M260.6 218.8h.5M262.2 219h.7M334.2 218.9h.6M293.5 219.7h.8M273.6 219.6h.5M286.2 220h.8M331.8 220.1h.6M271.1 219.8h.5M324.2 220.3h.7M278.5 220h.8M328.2 221.5h.7M307 221.4h.6M333.3 220.7h.6M300.9 220.8h.5M291.1 220.9h.7M288.2 221.3h.8M266.1 221.3h1M280.8 222.1h.7M309.2 221.6h.6M289.4 222.5h1M307.9 222h.5M265.4 222.1h1M317.7 221.9h.6M281.8 221.8h.6M261.7 222.9h.6M332.6 223.1h.8M269.7 223.5h.6M304.5 222.7h.7M293.3 222.9h.6M335.3 223.4h.7M277.4 222.9h.8M298.2 223.9h.5M289.3 223.9h.6M268.4 224.3h.8M257.4 223.9h.7M312.6 224.1h1M267.6 224.4h1M310.4 224.5h.8M262.8 225h.8M335.6 225h.6M260.5 225.5h.7M296.4 225h.5M283 224.8h1M287.8 224.9h.8M307.4 226h.8M311.8 225.7h.6M329 226.1h.5M310.9 226.1h.5M326 225.6h.8M275 226.5h.5M280 226.7h.6M283.9 226.9h.8M255.3 226.9h.6M288 227.1h.5M296.1 226.9h.6M320.9 227.2h.7M324.9 228h.5M317.4 228.2h1M275.7 227.7h.5M288.7 228.6h1M291.8 228h1M263.7 227.7h.7M312.2 228.9h.5M296.7 229.6h1M284.9 229.3h1M328.6 229.3h.6M288.2 228.9h1M326.6 229.2h.7M282.6 230.2h.8M301.2 229.8h.7M256.3 230.2h.7M264.1 230.4h1M320.4 230.2h.7M324.4 230.1h1M276 231.2h.6M317.3 231h.5M256 230.7h.5M296.4 231h.8M321.5 231.1h.7M281.7 231h1M257.7 232.1h.6M258.5 232h.8M320.9 231.8h.7M324.5 232h.8M266.3 232.4h.7M263.2 232.2h.5M296.2 232.8h.7M305.9 232.8h.7M269.7 233.3h.5M320.7 233.1h.5M299.2 233.5h1M321.7 233.1h.5M318.8 233.7h.5M279.6 233.7h1M274.2 234.1h.6M303 234h.7M255.8 234.2h.6M329.1 233.8h.8M265.7 234.9h.8M265.5 235.3h.6M282 235.6h.8M323 235.4h1M287.9 234.7h1M290.6 235.6h1M285.7 236.4h.7M320.2 235.7h.6M298.3 236.4h.6M314.7 236.1h.5M327.2 237h.8M311.4 237.4h.6M335.6 237.3h.6M304.7 236.7h.8M329.5 237.4h1M278.5 238.4h1M297.8 238.2h.6M288.3 238.6h.7M331.3 238.4h1M258 238h.5M300.6 239.2h.7M312.1 238.9h.5M330.2 238.9h.6M279.4 239.5h.7M257.3 239.4h1M305.4 240.2h1M288.8 239.9h1M269.1 240.2h.6M332.8 240.2h.8M312.8 239.7h.6M316 240.8h.5M299.8 240.7h1M266.4 240.7h.6M289 241h.7M328.4 240.9h.7M296.5 242.4h.6M323.9 242.5h.8M319.5 242.3h.8M256.7 241.7h.8M285.4 242.5h.7M258.7 243.3h1M283.3 242.7h1M302.9 243.6h.8M265.4 243.2h.5M295.6 244.5h1M311.4 243.8h.6M288.5 243.7h.8M314 243.7h.6M314.6 245.2h.6M289.6 244.8h.6M287.8 245.3h.8M295.9 245.2h1M279.1 244.7h.8M307 246.3h.8M272.4 245.7h.7M326.8 245.7h.7M272.2 246.1h.6M316.6 246.3h.6M312.6 246.7h.6M285.6 247.5h.6M268.6 247.5h.6M330.4 247.6h.6M331.7 246.8h.6M284.3 248.3h1M326.6 247.8h1M293.1 247.9h.5M258.3 248.1h.5M329.7 248.3h.8M277.2 249.5h.5M322.9 249.6h.5M269.1 248.7h.8M274.2 249h.6M274.6 249.7h.8M278.5 249.7h.8M319 250.2h.8M301.9 250.5h.8M263.5 251.1h1M332.6 250.7h.6M315.6 250.7h.5M321 250.8h.7M319.2 251.8h.8M312.4 251.7h.7M331.1 252h.7M302.6 252.2h1M262.9 253.4h1M264.3 253.2h.8M307.6 253.5h.5M299.8 253.3h1M305.7 253.7h.6M270.6 254.3h1M299.6 254h.7M329.9 253.7h.7M276.7 254.7h.6M268.4 255.6h1M305 255.1h.7M284.5 255.2h.7M280.9 256.2h.6M279.7 256.4h.8M288.9 256.5h.6M305.7 256.7h.6M255.6 257h.8M312 257.4h1M258.3 257.1h1M299.4 258.3h.7M325.7 258.2h1M287.7 257.9h.5M330.5 258.3h.6M305.7 259.3h1M300.7 259.3h.8M279.3 259h.7M298.3 260.4h.5M276.9 260h1M278.9 260.1h.8M285.4 260h1M310.1 261.2h.5M296.9 261.1h.7M259.1 261.2h.5M279.4 261.3h.7M299.1 261.8h.6M335 261.7h.7M323.8 262.4h.5M335.5 262.6h.5M309.4 263.5h.7M287.6 263.1h1M258.6 263.7h1M292.1 263.8h.8M301.5 264.5h.5M299.5 265h.7M257.7 265.1h1M298.1 265.4h.6M309.6 266.1h.5M333.1 266h1M281 265.9h1M296.6 266.9h1M326.2 267h.5M269.5 268.3h.5M309.5 268.4h.5M303.3 269h.7M260.5 269.3h1M255.5 269.9h.8M275.2 269.7h.6M318.7 270.3h.6M255.2 271.1h.8M322.8 271h.7M320.8 272.6h.7M292.6 272.6h.7M296.6 272.4h.8M301.3 273h.8M284.1 272.7h.6M259.7 272.7h.5M298.3 274.2h.8M313.4 274h.6M271.2 275.5h.5M302.6 275.1h.8M313 275.9h.6M328.2 275.8h1M301 277.4h.5M267.8 277.4h.7M260.8 278.1h.7M333.1 278.6h1M261.3 279h.5M314.1 278.7h.6M332.7 280.5h1M302.8 281h.6M303 280.8h.5M289 281.8h1M307.9 281.6h1M258.4 283.6h.6M258.9 282.9h.7M334.6 284.5h.6M267.3 284.1h1M275.6 284.9h.7M280.4 284.7h.6M334.7 285.6h.7M331.3 286.4h.5M314.3 287.2h.8M279.5 286.8h1M262.7 288.2h1M269.7 288h.8M298.8 289.4h.7M315 288.9h.5M294.4 290.4h.6M321.1 290.3h.8M312.5 291.4h1M262.1 292.2h.8M328.6 291.8h.7M279.3 293.3h.6M275.4 292.6h1M316.4 293.7h.5M285.1 294.1h.5M291 295.2h.5M288.5 294.8h.6M289.3 296.4h1M301.7 297.3h.6M325 297.1h.7M289.4 297.8h1M287.3 299.3h1M318.9 299.5h1M264.2 300.6h.8M256.3 300.5h.6M308.8 300.7h.6M311.5 300.6h.5M291.9 302.6h.7M260 301.8h.8M331 303.4h.7M287.7 302.9h1M278.3 304.1h1M261.6 304.1h.6M330.6 305.3h.5M265.6 306.5h1M326.3 307.1h.8M313.1 307.1h.5M332.5 308h1M329.4 308.9h.8M326.2 310.5h.7M275.4 311.6h.5M265 312h.8M328.3 313.6h.7M321 314.1h.7M268.8 314.8h.7M297.8 316h.6M322.8 317.2h1M322.5 318.4h.6M281.5 319.1h.8M286.5 319.6h1M308.5 321h.8M278.1 322.1h1M323.5 323.1h.7M306.2 324.2h.8M267.6 324.9h.8M278.8 326.4h1M286.5 326.7h.8" stroke-width="0.7"/><path d="M300.4 6.7h.8M327 6.8h1M321 6.7h.8M316.2 7.4h1.2M297.6 6.6h1.5M314.9 7.3h1.5M325.8 7.3h.8M332.2 7.2h1.5M327.2 8.3h.8M301 8.3h1M333.9 7.8h1.2M301.4 8.4h1.5M294.3 8.3h1.5M304.1 8.2h.8M294.8 9.5h1M332.4 9.3h1M329 9.5h1M299.7 9h1M324 9.5h.8M303.6 9.2h1.5M332.3 9.8h1M296.5 10.6h.8M296 10.6h1M312.3 10.1h1.2M333.5 10.4h1.2M292.7 9.9h1.5M290 11.4h1.2M297.3 11.3h.8M287.6 12.1h1M305.9 12.4h1M321.1 12.3h1.2M325.2 11.7h1.2M302.5 12.1h.8M287.3 12.1h.8M309.3 13.3h1.2M322.8 12.8h1M288.7 12.8h1M287.4 13.1h.8M296.8 13h1.2M293.1 13.1h.8M296.8 13.6h.8M301.9 14.2h1.5M332.6 13.8h1.2M293.2 14.1h1M307.9 14.5h.8M295.7 13.8h1.5M333.6 15.4h1.2M324.6 15.3h1M310.9 14.6h1.5M321.8 15.3h.8M324 16.2h.8M312.2 16.5h1.2M320.5 16.1h.8M301.3 15.8h1M304.3 16.4h1M326.6 16.2h1.2M319.9 16.4h1M312.9 16.6h1.5M325.9 16.4h.8M301.5 17.3h.8M313.9 17.1h1.5M321.8 17h1.5M316 17.4h1.5M294.7 16.6h1.5M297.8 17.7h.8M296.7 18.3h1M325.4 17.9h1M295.3 18.5h.8M323.4 18.5h1.2M296.6 19.4h.8M314.1 19h1.5M321.7 19.3h1M330.2 18.7h1.5M295.2 19.4h1M317.1 19.3h1.2M298.2 19.8h1M292.6 20.3h.8M304.7 20.3h1M297.3 20.5h1.2M334.9 19.8h.8M288.1 20.1h.8M291.3 20h1.2M310.1 21.1h1M295.3 21h1.2M299.8 20.8h1.2M326.9 21.3h1M335 21.6h1.2M308.9 22h1M319.2 22h1.5M332.7 22.1h1.2M323.6 22.5h1.5M305.9 21.8h1.5M320.2 22.8h.8M302.4 23h.8M292.7 23.5h1.2M328.1 23.2h.8M316.6 22.9h1.2M292.6 23.7h1.2M325.5 23.9h1.5M292 24.1h1.2M288.1 25.1h.8M307.8 24.9h.8M321.4 24.9h1M320.4 24.6h1.5M313 24.7h1.5M304.1 25.1h1.2M295 25.9h.8M301.2 26.6h1M293.5 26.6h1.5M314.8 26.4h1.5M292 26.8h1M290.8 27.5h.8M316.5 27.6h1.5M303.3 26.9h.8M292.9 27.5h1.5M325.5 27.9h1.2M256.3 28.2h1M323.9 27.7h1.5M283.5 28.3h.8M310.2 27.8h1M273.1 28.3h1.2M311.3 27.8h1.5M264.3 28.9h1M276.7 29.3h1M327.7 29.4h1.5M322.5 29h.8M311.2 29h1M324.4 29.3h1M287.3 29h.8M314 29h.8M276.6 28.7h.8M296.2 28.8h1M330.5 30.6h1M263.2 30.1h.8M305.5 30.4h1M276.8 30h1.2M264.8 30.3h1.2M325.1 30.2h1.5M281.8 29.8h1.2M273.8 29.9h1.2M278.6 29.7h1.5M270.1 31.5h.8M279.4 31.5h1M283.2 30.8h1.2M262.6 31h.8M307.2 31.6h1.2M271.2 30.8h1M269.5 31.2h1.5M289.1 30.6h1M281.4 30.7h1.2M321.3 32h1.5M317.9 32.2h.8M300.1 32.3h1M263.4 32h1.2M307.6 32h.8M292 32.1h1M255.4 32.6h1.2M286.6 32.2h.8M280.6 31.8h1M260 32.7h.8M298.5 32.8h1.5M319.4 32.9h1.2M256.1 33.4h1.2M325.5 33.5h1M328.2 32.7h.8M257.8 33.5h1.2M277.5 33.1h1.5M298.3 32.8h1.2M297 33.2h1.2M308.9 34h1M290.6 34h.8M293.4 33.8h.8M264.4 34.4h1.2M314.2 34.2h1M274.3 34.4h.8M271.2 34.1h.8M332.3 34.1h1.2M331.9 34h1.5M318.1 34.7h1.5M303.9 35.5h1.5M256.2 34.6h1M319.4 34.9h.8M288 35.3h.8M321.4 35.3h1.5M283.9 35.3h1.5M303.9 35h1.5M280.1 35.3h.8M287.4 36.6h1.2M288 36.5h1.2M316.9 36.3h1.5M329 36.4h1.5M335.1 35.9h1.2M260.3 36.1h.8M270.9 36h1.2M317.8 36.1h1.5M287.7 36.2h.8M330.5 37.2h1M319.3 36.8h1.5M307 37.1h1.5M256.6 37.4h1M287 37.5h.8M314.7 36.9h1.2M282.4 37.2h1.2M316.5 36.9h.8M330.1 37.5h1.2M264.6 38.4h1.2M260.8 38.2h1.5M310.5 38.4h1.5M316.5 38.3h1.5M299.7 38.5h1.2M271.9 38.1h.8M315.3 37.8h.8M284.9 37.9h.8M269.2 37.8h1.5M262.7 39.5h1.5M268.3 38.9h1.5M317.4 39.4h.8M330.8 39h1.2M316.3 38.6h1.2M328.9 38.7h1.2M313.2 39.5h1M329.5 39.1h1.5M323.7 39.2h1.5M326.1 40.1h1M332.5 39.8h1.2M291.7 39.7h1.2M289 40.1h1M334.6 40.5h.8M255.8 40.4h1M315.6 40.3h.8M288.1 39.6h1.2M330.8 39.8h.8M255.8 41h1.2M326 40.7h1M309.8 40.7h1.5M333.5 41.5h1.5M273.3 41h.8M314.1 40.9h.8M271.9 41.2h.8M279.2 40.9h1.5M276.7 41.5h1.5M262.8 42h1.5M282.7 42.2h1M328.6 42.3h1M280.7 41.7h1.2M267.5 41.7h1M260.8 41.9h1.5M261.8 42.4h.8M313.5 42h1.5M270.2 41.9h1M292.6 42.6h1M330.6 42.7h.8M269.4 43.1h1M333 43.5h.8M275 43h.8M304.2 43.5h1.5M330 43.5h1.5M305 43h1M319 42.8h1M297.1 44.5h1.5M316.8 44.1h1.2M316.3 44h1M286.8 43.6h1.2M260.9 44.4h.8M255.8 44.3h1M312.8 44.4h1M295.1 44.2h.8M259.2 45.3h1M310.6 44.9h1.5M258.7 44.7h.8M287.2 44.8h.8M324.7 45.3h.8M268.5 45.2h1M268 45.5h1M263.2 45h1.2M333.5 45.5h1M255.5 46.4h1.5M305.6 45.9h1M309.8 46.1h.8M326.6 46h1M257.8 46.4h.8M301.6 45.9h1.2M304.5 45.7h1.5M277.1 46h1.2M314.5 45.8h.8M287.3 47h1.5M274.9 47.6h1.5M329.9 47h1.2M323.9 46.8h1.2M293.2 47.4h1.5M310.4 47.4h1.5M295.1 46.7h1M284.6 47.5h.8M330.2 47.8h1.5M300.5 48.1h1.2M329.9 48.1h1.2M310.7 48.2h1.5M263.8 48.6h1.2M306.2 48h1.2M289 48.5h1M318.7 48h.8M286.4 49.6h1.2M291.2 48.9h.8M312.5 49.5h.8M318.7 48.9h1.5M275.1 48.6h1.5M294.3 49.4h.8M304.1 49.5h1M266.1 48.7h1.5M329.2 49.7h.8M274.4 50.4h1M317.6 49.7h1M259 50.5h1M330.8 50.1h.8M297.3 50.5h1.5M278.7 49.8h1.2M297.8 50.5h1M273.9 51h1M332 50.7h1M326.1 51.1h1M322.2 51.4h1.2M296.4 50.7h.8M284.3 51.2h.8M260.1 50.8h.8M259.3 51.1h.8M300 52.3h.8M273 52h1.5M264.4 52h1M295.9 51.8h.8M275.1 52.1h1M265.9 51.9h.8M320.1 52h1M305.1 52h1.5M278.6 53.5h1.5M267.1 53.1h1.5M261.9 52.7h1.2M295.9 52.9h1.2M306.2 53.5h1.2M299.2 52.7h.8M257.7 53h.8M276.9 53.3h.8M321.8 54.6h.8M290.4 54.6h1M279 54.4h1M296.7 53.8h1.5M264.6 53.8h1M282.1 54.6h1M308.1 54.5h1.5M306.2 54.1h1.5M297.8 55.5h1M261.7 55.2h.8M284.7 55.3h.8M275.7 55.2h1M268.2 54.9h.8M294.8 55.5h1.5M288.6 55h1.2M333.2 55h1.5M271.1 56.2h1.5M279 56.3h1M330.2 56.1h1M273.8 56.3h1.2M322.5 56.3h1M305.3 55.7h1M273.6 56.3h.8M322.7 56.1h.8M282.3 56.8h.8M287.5 57.4h1M285.3 56.8h1.5M311.7 57.1h.8M255.9 56.7h1.2M296.5 57.3h1.5M326.8 57.4h1.2M320.2 57.5h1.5M257.5 58.1h1.5M331 58.4h1.2M293.8 58.2h1.2M279.8 57.6h.8M310.3 57.8h1.2M272.9 58.6h1.2M275.4 58.2h1M260.6 57.8h.8M287.3 59.3h1.5M294.9 59.5h1.2M318 59.4h1.2M303.7 59.6h1.5M319.8 59h1M255.3 59.2h1M304.4 59.6h1.5M305.9 59h1.5M330.5 59.8h.8M280.5 59.9h1M283.2 60h1M272.3 59.7h1.5M305.8 60.4h.8M264.8 60.4h.8M284.8 60.6h.8M298.5 60.2h1.5M259.3 61.1h1.5M309.1 61.2h1.5M303.8 61.2h1.2M325.8 61h1M323.2 60.6h1.2M277.8 60.8h1.5M299.9 60.7h1M288.2 61.3h.8M273.6 62.1h1.2M271.3 62.5h1.2M273.6 61.6h1.5M284.4 62.1h.8M306.1 62.6h.8M291.9 61.7h1.2M288.4 62.1h1.5M260.9 62.5h1M313.1 63.5h.8M301.1 62.9h1.5M259.1 63h1.2M332.4 62.9h1.5M318.1 62.8h1.2M264.3 62.6h.8M330.9 63.1h.8M298.8 63h1.2M288.9 64.4h1M255.7 64.6h.8M277.6 64.4h1M277.3 64.2h1M270 64.4h1M333.2 64.4h.8M299.8 64h1.2M264.9 64.3h1M286.4 65.3h1M326.7 64.6h1.2M320.1 65.1h1.2M334.1 65h.8M309.8 65.4h.8M272.8 65.1h1M286 65.5h1M332.4 65h1M318.5 66.4h1.2M287.4 65.6h1.5M305.3 66.5h.8M267 66.5h1M275.2 66.5h1M266.3 66h.8M305.6 65.7h1M287.6 66.1h1M261.9 66.8h1M281 66.9h1.2M272.9 67.2h1M288.4 67.1h.8M259.4 67h1.2M312.2 66.6h1M332.6 66.6h.8M282.9 66.6h1.5M275.2 67.7h1M328.6 68.4h1.5M315.8 68h1.5M289.8 68.5h1.2M325.1 68.1h.8M255.3 68.3h1.5M334.2 68.2h.8M270.8 69.5h1M326.6 69h.8M330.2 69.4h1.2M313.8 69.5h1M284.2 69.3h1.2M259.2 69.4h1.2M281.2 68.6h1M287.8 68.8h.8M292.3 70.2h.8M312.1 70.3h.8M260.3 70.1h1.5M334.9 69.7h1.2M298.5 70.2h.8M332.2 70.4h1.2M327.2 70.5h1M287.6 69.7h.8M325.8 71.2h1M279.3 70.8h.8M266.6 71.3h1.2M313.5 71.2h1M271.2 71.5h1.5M256.1 71h1M263.9 71.5h1.5M279 72.1h.8M312.5 72.3h.8M310.4 72.4h.8M287.3 71.6h1.5M312.9 72.6h.8M331 72h1.5M276.1 72.3h.8M259.1 71.9h1.5M299.4 73h1.5M302.1 73.1h.8M287.8 72.9h1.5M318.4 72.8h1.5M330.8 73.5h1M269.5 73h1.2M263 73.1h1M303.8 74.1h1M334 73.7h1.5M258.6 74.1h1M255.4 74.3h.8M315.3 74.2h1.2M303.6 74.5h1M262.1 74h.8M324.8 75.3h1M296.1 75h1.2M315.6 74.6h1.5M271.2 75.3h1M262 75.4h1.5M299.5 74.8h1.5M331.8 75.5h1.2M255.5 76.4h1.5M296 75.8h1M329.1 75.8h1M281.2 76.5h1.2M257.9 76.5h1.2M259.9 76.1h1M267.8 76.6h1M303.1 77.6h1.5M310.9 77.4h.8M296.1 77.6h1.5M291.6 77.4h.8M331.6 76.8h1M326.7 77h1.5M317.8 77.6h.8M319.2 77.3h1.5M329.2 77.9h1.2M288.9 78.6h1.2M312.3 78.5h1.5M317.3 78.4h.8M289.1 77.8h.8M306.6 78.2h1.5M260 78.5h.8M273.3 78.7h1M289.1 78.6h1M314 79.5h1M335.1 78.8h.8M308.2 79.1h1M313.1 79.1h1M263.4 78.8h1.2M286.8 80.5h1.5M324.4 80.4h.8M277.7 80.4h1M324.7 80.6h.8M324.1 80.3h1.5M312.1 80.1h1.2M296.9 80h1.2M271.5 81.4h1.2M318.4 80.7h1.5M296 81.4h1.2M297.3 80.8h.8M302.4 81.5h1M307.6 81.2h1M260.5 81.2h.8M335.7 82.2h.8M280.1 82.1h1.5M259.4 81.9h1.2M280.9 82.2h.8M294.4 82.6h.8M294.4 82.5h1.5M287 82.5h1.2M314.2 82.7h1.2M323.1 82.8h1.2M263.6 83h1.2M301 82.9h.8M263.9 82.7h1.2M300 82.8h1.5M319 83.5h1M327.6 84.4h.8M258.6 84.5h1.5M315 83.6h1.5M333.3 84.3h1M328.3 83.8h.8M300.3 84.2h1M261.8 84.6h1M317 84.6h.8M312.8 85.6h1.5M263.6 85.3h1.5M322.9 85.2h1.5M303.2 84.8h1.2M281.7 84.8h.8M274 84.7h.8M334 85.7h1.2M316.4 86.3h1.5M282 85.6h1M287 86.2h1M269.8 85.7h1.5M274.4 85.8h1.5M292.4 85.9h1.2M319.2 87.3h1.5M289 86.9h1M271.7 87.4h1.5M279.7 87.4h1M309.6 87h1.2M285.9 87.4h1M330.9 87.5h1M261 88h1M267.6 88.3h1M263.4 88.4h1.5M284.7 88.5h1.2M273 87.6h1M299.4 88.3h1.5M260.5 88.3h1M255.4 88.6h.8M278.2 89h.8M329.9 89.4h.8M305.9 89.4h.8M282 89.4h1.5M271.1 88.6h1.5M332.2 89.6h1.5M282.5 90.3h.8M303 90.4h.8M295.6 89.9h.8M292.7 90.4h1.2M310 90.2h1M318 90h1.5M332.3 91.2h.8M308.4 91h.8M335.4 90.7h1M322.2 90.7h1M324 91.2h1.2M294.6 90.7h1.2M321.6 92.3h1.2M302 92.4h1.5M272.7 91.6h1.2M277.8 92.5h1.5M310.9 92h.8M262 92.3h1M332.7 91.7h1.5M302.8 92.9h1.5M326.1 92.9h1M269.4 93.4h1.2M285.6 93.5h1.2M270.8 93.5h1.5M307.8 92.9h.8M315.8 93.7h1.5M282.6 93.8h1.5M276.1 94.1h1M287 94.5h.8M296.1 94.3h1.2M317.8 93.8h1M286.2 94.7h1.5M307 95.2h1.2M267.8 94.6h1.5M286.5 95.2h1.5M298.7 95.5h1.5M318.9 95.5h1.5M329.2 94.6h1.2M270.1 96.3h1M272.5 96.4h.8M258.6 96.3h1.5M333.8 96.5h1.2M297.3 96.1h1M273.3 96h1M259 96.4h.8M298.5 97.2h1M322.6 97.6h1.2M327.9 97.3h1.5M332.2 97.5h1.5M278.7 97.1h1.5M273.8 96.6h1.2M331.5 98.2h.8M316.4 98.4h1.2M306.3 98.1h1M317.4 97.9h1.5M298.9 98.1h1.2M313.9 97.6h1.5M284.2 98.2h.8M279.9 99.4h1.2M303 98.7h1.5M267.9 99.3h1.5M304.4 99.1h1.2M274.3 99.6h1.2M301.1 99.5h1.2M333.6 99.7h1.5M315.1 99.8h1.2M330 100.2h1.2M259.7 100.5h1.5M298.9 99.8h.8M287 100.5h.8M312.6 101h1.5M295.6 100.8h1.5M325 101.2h.8M282.7 101.3h1.5M258.9 101.4h1.2M329.7 100.7h1.5M256.3 102h1.2M321.1 102.2h1.5M310.5 101.7h.8M324.1 102.6h1M288.5 101.7h1.5M292.6 102.1h1M320.4 102.9h1.5M302.1 102.6h1.2M334.1 103h1M307.5 102.8h.8M272.6 103.3h1.5M288.5 102.8h1M284.9 103.2h1M285.4 103.7h1M277.1 104.5h.8M320.1 104.1h1.5M305.9 104.3h.8M314.9 104.1h1.5M291.7 104.5h.8M285.1 104.4h1M329.1 105.1h.8M300.5 105.5h1.2M274.7 105.4h1M289.4 105.5h1.5M334.3 104.9h1M303.8 105.3h1M275.5 105.6h.8M258.5 106.1h.8M320 105.8h.8M312.3 105.9h1.5M326.4 106.5h1.5M309.5 106.3h.8M256.2 105.9h1.2M323.4 107h1M302.6 107h.8M276.7 107.2h1.2M260.8 106.7h1.5M266.7 107.6h1.5M319.5 107.6h1M307 107.7h1M328.3 107.6h.8M275.5 108.2h1M261.8 108.3h1M298.2 108.1h1.5M323.8 108.7h1.5M271.6 108.9h1M331.9 109.4h1M317.2 109h.8M309.3 109.6h.8M313.9 109.3h1.5M269.6 109.9h1.5M255.6 109.8h1.2M291.5 110.3h1.2M325.4 110.4h.8M312.4 110.4h1.2M293.7 111.1h1.2M327.5 111.5h.8M324.9 111.2h.8M280.3 110.7h1.5M276.7 111.2h1.2M263.5 110.7h1.2M260.7 111.8h1.2M257.7 111.8h.8M306.3 112.2h1.5M286.3 111.9h1M260.4 111.8h.8M269.2 111.9h1.2M308.9 112.9h1M307.2 113.4h1.2M289.1 113h.8M282.3 112.8h1.2M287.6 112.9h1.2M307.4 112.9h1M332.8 113.7h1.2M276.4 113.7h1.2M261.4 114.1h1.2M289 114.2h1M330.8 113.8h1M279.9 113.8h1M296.4 115h1.2M322.1 114.8h.8M294 115.5h.8M281.2 114.8h1.5M260.8 115.5h1.5M317.8 115.1h1M274 116.1h1M293.6 116.1h1M293.7 116.5h1.2M285.6 116.4h.8M278.7 116h.8M285.7 115.7h1.2M301.3 117.5h.8M270.5 116.9h.8M326.9 117.1h1.2M309.2 116.9h1.5M270.6 117.4h1.2M309.9 117.2h1.5M292.3 117.7h.8M258.2 118.4h1M263.8 118.1h1.2M311 118.2h1M286 117.9h1.2M319.3 118.5h1.2M333.5 119.1h1.2M332.4 118.7h1.2M324.1 118.8h1.5M305.1 118.9h1.2M309.5 119.4h.8M260.4 119.9h1.5M293.2 119.8h.8M271.4 120h.8M283.3 120.4h1.5M301.2 119.7h1M272.4 120h1.2M255.1 121.3h1.2M262.4 120.7h.8M319.3 120.9h1.2M309.3 121.6h1M317.4 121.2h1M307.8 122.2h1.2M284 122.5h1.5M258.1 121.6h.8M293.1 121.7h1.5M328.6 122.5h1.2M263.8 123h.8M262.4 123.2h1M299.4 123.4h1M293.6 122.8h.8M287.9 123.2h1.5M333.9 124.2h1.5M267.4 123.9h1.5M277.6 124.6h1.5M276.1 124.4h1M281.7 123.8h1M327.8 125.3h1.5M302.3 124.9h1.5M259.8 125.1h1.5M308.3 125.1h1.2M269.4 124.8h.8M282.3 125.3h1M332.8 125.8h1M309.2 125.9h1.5M279.4 126.4h1M317.8 126.3h1.2M328.2 125.7h1.5M329.8 127.2h.8M265.4 127.1h1.5M330.9 127.1h1.5M302.9 127h1.5M293.9 126.8h1.2M301.5 128.2h1M285.5 128.3h1M263.1 128.3h1.2M334.6 128.3h1.2M334.3 127.7h1.5M325.4 129.3h1.5M287 128.8h.8M291.5 128.8h1M259.3 129.1h1M334 129.2h1.2M296 130.5h1.5M329.6 130.3h1.5M296.5 130.2h1.2M260.9 130.1h1.2M259.5 130h1.2M283.3 131.3h.8M313.6 131.4h1M334.2 131.3h.8M284.2 131h1.5M273.2 131.3h1.5M287.3 131.8h1.5M334.9 131.9h1M330.5 132.3h1M305.6 132.4h1.2M279.6 132.4h1M289.2 132.8h1.2M278.8 133.3h1M267.5 133.6h1M313.1 132.7h1.2M314.8 133h1.2M308.1 134h1.5M281.6 134.5h1.2M295.5 134h1.2M309.5 133.6h1M317 134.7h1.2M321 134.8h1M281.3 134.9h1.2M332.5 134.7h1.5M257.2 135.2h.8M267.8 135.7h1M314.5 136.6h.8M267.8 136.1h.8M271.7 135.8h.8M303.7 136.2h1.5M315.6 136.7h1M299.9 137.2h1.2M288.6 136.6h1M286.2 137h1.2M300.3 137.4h.8M299 138.1h1M324.1 137.9h1.2M320.3 138.4h.8M309.9 138.3h.8M330.9 137.6h.8M264.5 138.9h1.5M302.3 138.7h1.5M310.9 138.8h.8M266.7 139.1h1.5M299.1 139.3h1.5M309 140.5h1.5M326.2 140.4h.8M306.9 140.6h1M325.7 140.3h1.5M320.8 140.5h1.2M332.4 141.2h1.2M334 141.2h1.5M285.4 140.8h1.5M335.4 141.2h.8M267 141.5h.8M322.8 142.5h1M287.7 141.6h1.2M317.8 142.2h1.5M298.2 142.1h1.2M297.6 142.4h1.5M310.6 143.5h.8M326.8 142.9h1M262.8 143.5h1.5M322.9 142.8h1.5M281.2 143.6h1.2M315.8 144.3h1M334.2 144.5h1.5M270.6 144.5h1.2M296.8 143.9h1M318.7 144.1h1.2M324.7 145h1.5M286.9 144.9h1.5M292.2 145.1h.8M290.4 145.5h1.2M266 145.4h1.2M295.2 145.7h1.5M275 146h1M268.2 145.6h1M290.3 146.3h1M270.1 147h1M328 147h1M256.7 147.4h1.2M256.8 146.9h1M316.6 147.6h1M292 148h1M257.6 148.2h1.2M306.3 148.5h1.2M321.3 147.8h1.2M289.6 149.4h1.2M332.7 149h.8M323.4 149.2h.8M308.8 149.4h1M281 150.2h1.5M281.8 150.5h1.2M318.2 150.1h.8M278.3 150.2h1M266.1 150.9h1M297.6 151.5h1M308.4 151.4h.8M312.4 151.4h1M302.6 150.9h1.5M280.9 152h1.5M300.4 152.6h.8M282 152.2h.8M325.3 152.2h1M293 153.1h1.2M273.8 153.4h1.2M255.9 152.8h1.2M331.7 152.6h.8M306.5 154.4h.8M334.3 154.4h1M323.6 154.1h.8M294.3 153.6h1.2M311.3 154.5h1.5M319.3 155.3h1.5M307.4 154.9h1M335.2 155.3h1.2M318.2 155.4h1M286.8 156h.8M275.7 156.3h1.5M256.5 156.1h1M302.2 155.7h1M293.3 156h.8M310.8 157.3h.8M264.1 157.3h.8M294.1 157.4h1.2M312.7 156.7h1.5M332.4 157.9h1M298.1 157.9h1.2M321.9 157.9h1M266.3 158.5h1.5M311.4 159.2h.8M272.2 158.7h1M310.9 158.9h1.2M294.5 159.6h1.2M301.4 160.1h1.2M325.1 159.8h1.5M333.3 160.1h.8M316.5 159.7h1.2M275.1 160.8h1.5M303.3 161.1h.8M287.1 161.2h.8M288.4 160.7h1M301.1 162.4h1M270 162.5h.8M281.6 162.3h1M277.2 162h1.2M290.9 163.1h1.5M296.7 162.9h1M291.1 162.9h1M327.1 162.7h1.2M256 164.1h.8M266.4 163.9h1.2M291.4 163.7h1.5M319.4 164.1h1.5M327 165.6h1.5M302.2 164.9h1M299.1 165.4h1M272.4 165h1.2M316.3 166.2h1.2M302.8 166h1.2M290.2 166.5h.8M259.4 167.1h1.5M308.2 167h1.2M282.3 166.8h.8M274.3 166.7h1M272.8 168h.8M332.9 168.1h1M301.2 168.3h1.2M332 168h.8M279.5 169.6h1.2M332.8 169.3h1M256.3 169.2h1M291.3 170.5h.8M260.6 169.9h1.2M314.3 170.2h1M330.8 170.5h.8M275.9 170.8h1.5M312 171.2h.8M259.2 171.3h1.2M332.2 171.1h1M294.3 171.6h1.5M315.4 172.1h.8M335.1 172.4h1.2M301.6 173.2h1.5M325.8 172.9h.8M265.1 173.5h1M309.5 173.9h.8M316.9 174.4h1.5M315.4 174.5h.8M303.2 174.2h1.5M316.1 175.2h.8M277.4 174.7h1.5M276.7 174.7h1.5M303.1 175.2h1.5M280.6 176.1h1.5M300.7 175.9h1M301 176.2h1.2M290.7 176.1h1M291.4 177.6h.8M298.8 176.7h1M282.4 177.1h.8M263.6 177.1h1.5M325.7 177.7h1.5M281.9 177.8h1.5M294.3 178h.8M315.4 179.2h1M320.7 179.2h1.2M288.3 179.1h1.5M333.8 179.8h1.2M267.5 180.5h1.5M298.2 179.7h1.5M312.7 180.4h.8M286.9 181.2h1.5M258.1 180.9h.8M312 180.8h1.5M288.4 181.7h1M271.2 182h1.5M333.7 182.5h.8M320.4 183.4h1M317.5 183.2h1.2M280.9 183.4h.8M313.5 184.4h1.2M255.5 184.3h1.2M312.9 184.2h.8M263.6 185.4h.8M275.6 185.4h.8M292.9 184.9h1M317 185.7h.8M300.7 186.4h1.2M321.2 185.8h.8M297 187.3h1.2M262.3 186.7h1.2M285.7 186.7h1M262 186.9h1M284.2 188.5h1.5M319.7 188.4h1.2M255.3 187.7h1.2M292.1 189h1.5M292.8 188.9h1M322.9 188.8h1.2M321.6 190.3h1M321.7 190.1h1.2M292 189.7h.8M320.9 191.6h1.5M269.4 191.4h1.5M322.5 191.2h1M312.9 191.9h1.5M335.6 191.9h.8M334.1 192.4h1.5M325.8 193.2h1M270.5 192.8h1M314.6 193.2h1.5M281.9 194.3h1M273.2 193.6h1.5M309.7 194.5h1.5M332.8 195.4h1M305.3 194.8h1.5M276.3 194.6h1.2M322.3 195.9h.8M285.4 196h.8M274.9 196h1.5M325.7 197.3h1M313 196.9h1M257.9 196.7h1.2M295.8 198h1.5M322.4 198h1.5M292 197.9h1.5M326.3 198.9h1.2M292 198.6h.8M287.4 200.2h.8M263.5 199.7h.8M282 200.1h1M275.9 201h1.2M259.6 201.4h1.2M330.6 200.9h1M265.1 201.9h1.2M294.7 202.2h1.5M296.8 203.3h.8M289.7 202.9h.8M307.8 203h1M316.1 204.3h.8M322.2 204.1h1.2M271.1 203.9h.8M325.9 204.8h.8M293.7 204.9h1M302 206.2h1M296.9 205.7h1.2M259.5 206.9h1M313.1 206.7h1M299.2 208.3h1.2M330.1 208.2h.8M277.1 207.8h.8M280.2 209.1h.8M261.8 208.7h1.5M272.7 210.4h1.2M306.8 210.4h.8M262 211.1h.8M274.8 211.3h1.2M327.5 211h1.5M331 211.9h1.2M324.4 211.9h.8M310.1 212.6h1.2M326 213.2h1M304.1 213.1h1.2M286.9 214h.8M292.2 214.1h1M311.9 215h1M298 215.6h.8M287.8 214.9h1.5M287.7 216.3h1M280.9 216.4h.8M291.6 217.3h1.2M328.4 217h1M332.7 217.4h1.2M290.2 217.7h.8M333.6 217.7h.8M281.4 219.5h.8M262 219.3h1.5M274.1 220.3h1.2M299.1 220.3h1.2M258.1 221.5h.8M285.2 220.7h.8M255.2 222.5h.8M258.7 222h1.2M322.8 223h.8M266 223.3h1.2M295.8 223.6h1.2M289.1 224.2h1.2M276.5 224.7h.8M270.1 225h1.5M266.9 225.7h1M285.8 226.1h1M285.5 227h1.5M298 226.7h.8M281.3 228h.8M334.6 228.5h1M258.9 229.4h1.2M332.8 228.9h1.2M307.9 230.2h1.5M301.8 230.2h1M330.8 230.7h.8M318.8 231.4h.8M307.8 231.6h1M293.6 232.5h1.5M302.7 233h1M335.3 233.4h.8M321.3 234.4h1M315 234.1h1M289.7 234.9h1M291 235.9h1M261.7 236.8h1.5M264 237h1.2M280.8 238.4h.8M264 237.7h1M274.7 238.7h1.5M258 239.2h1M273.2 240.3h1.5M265.2 239.9h1M272.8 241.4h1M287 242.3h1.5M308.3 243.2h1M279.1 244h1.5M316.8 245.1h1.2M275 246.3h.8M267.5 247.5h.8M277 248.1h1M271.7 248.2h1.5M302.6 249.3h1.2M329.5 250h1.2M276.4 250.6h1.2M330.1 251.7h1M287.6 253.5h.8M332.5 254.4h1M273.2 254.7h1M318.5 255.8h1.2M325.2 257.4h.8M263.7 258.5h.8M300.9 259.4h1M260 260.2h1.2M266.7 261.3h1.5M268.1 262.5h.8M315.9 262.6h1M257.1 264.3h1.2M325.5 265.6h.8M269.3 266.3h1.2M294.8 267.3h1.2M317.4 268.5h1.5M283.4 268.9h1M277.9 269.9h1.5M307.8 271.1h.8M334.1 272.1h1.5M321.5 274.4h1M300.2 281.6h1M286.4 283.2h1.5M284.7 284.7h1.2M329.2 286.4h1.2M314.7 287.4h1.2M281.9 291h1.5M303.2 292.7h1M324 294.1h.8M272.7 295.8h1M308.3 298.2h.8M326.5 299h1.5M300 301.2h1.2M264.9 304.9h1.5M267.3 306.3h1.5M328.2 307.3h1M327.8 308.3h1.2M258.2 312.4h1M301.9 316.8h1M332.7 317.9h.8M298.9 319.3h1.5M256.4 321.4h.8M271.4 326.7h.8" stroke-width="1"/></g>
<rect x="257.2" y="317.1" width="33.2" height="8.7" fill="#ffffff"/>
<rect x="258.3" y="323.2" width="31.3" height="1.9" fill="#000"/>
<text x="273.7" y="321.9" font-size="4.2" text-anchor="middle" fill="#666" font-family="'Liberation Sans', sans-serif">20 um</text>
<text class="b" x="261.1" y="19.9" font-size="18.3" fill="#000" font-family="'Liberation Serif', 'DejaVu Serif', serif" font-weight="bold" textLength="20.0" lengthAdjust="spacingAndGlyphs">(c)</text>
<text class="b" x="259.0" y="347.1" font-size="16.0" fill="#000" font-family="'Liberation Serif', 'DejaVu Serif', serif" font-weight="bold" textLength="69.6" lengthAdjust="spacingAndGlyphs">USP-8min</text>
<rect x="66.4" y="358.7" width="23.2" height="9.4" fill="#ff0000" stroke="#4a1010" stroke-width="0.8"/>
<rect x="65.7" y="372.7" width="23.5" height="9.6" fill="#00ff20" stroke="#103a10" stroke-width="0.8"/>
<text class="b" x="97.2" y="366.9" font-size="12.0" fill="#000" font-family="'Liberation Serif', 'DejaVu Serif', serif" font-weight="bold" textLength="44.9" lengthAdjust="spacingAndGlyphs">α-93.1%</text>
<text class="b" x="97.2" y="380.5" font-size="12.0" fill="#000" font-family="'Liberation Serif', 'DejaVu Serif', serif" font-weight="bold" textLength="38.1" lengthAdjust="spacingAndGlyphs">β-6.9%</text>
<rect x="163.3" y="360.2" width="22.4" height="8.9" fill="#ff0000" stroke="#4a1010" stroke-width="0.8"/>
<rect x="163.3" y="374.1" width="22.4" height="9.3" fill="#00ff20" stroke="#103a10" stroke-width="0.8"/>
<text class="b" x="194.1" y="368.4" font-size="12.0" fill="#000" font-family="'Liberation Serif', 'DejaVu Serif', serif" font-weight="bold" textLength="45.2" lengthAdjust="spacingAndGlyphs">α-90.7%</text>
<text class="b" x="194.1" y="381.8" font-size="12.0" fill="#000" font-family="'Liberation Serif', 'DejaVu Serif', serif" font-weight="bold" textLength="37.8" lengthAdjust="spacingAndGlyphs">β-9.1%</text>
<rect x="259.9" y="361.3" width="22.5" height="9.0" fill="#ff0000" stroke="#4a1010" stroke-width="0.8"/>
<rect x="259.9" y="375.3" width="22.5" height="9.1" fill="#00ff20" stroke="#103a10" stroke-width="0.8"/>
<text class="b" x="290.7" y="369.1" font-size="12.0" fill="#000" font-family="'Liberation Serif', 'DejaVu Serif', serif" font-weight="bold" textLength="45.2" lengthAdjust="spacingAndGlyphs">α-89.8%</text>
<text class="b" x="290.7" y="382.6" font-size="12.0" fill="#000" font-family="'Liberation Serif', 'DejaVu Serif', serif" font-weight="bold" textLength="44.8" lengthAdjust="spacingAndGlyphs">β-10.2%</text>
<rect x="380.4" y="9.0" width="161.6" height="340.9" fill="#fff" stroke="#333333" stroke-width="1.6"/>
<path d="M380.4 287.8h3M380.4 225.8h3M380.4 163.7h3M380.4 101.7h3M380.4 39.6h3M380.4 318.9h1.9M380.4 256.8h1.9M380.4 194.8h1.9M380.4 132.7h1.9M380.4 70.7h1.9M418.8 349.9v-3M457.3 349.9v-3M495.7 349.9v-3M534.1 349.9v-3M399.6 349.9v-1.9M438.0 349.9v-1.9M476.5 349.9v-1.9M514.9 349.9v-1.9" stroke="#333333" stroke-width="1.2" fill="none"/>
<text class="b" x="377.8" y="354.6" font-size="16.0" fill="#000" font-family="'Liberation Serif', 'DejaVu Serif', serif" font-weight="bold" text-anchor="end">0</text>
<text class="b" x="377.8" y="292.5" font-size="16.0" fill="#000" font-family="'Liberation Serif', 'DejaVu Serif', serif" font-weight="bold" text-anchor="end">5</text>
<text class="b" x="377.8" y="230.5" font-size="16.0" fill="#000" font-family="'Liberation Serif', 'DejaVu Serif', serif" font-weight="bold" text-anchor="end">10</text>
<text class="b" x="377.8" y="168.4" font-size="16.0" fill="#000" font-family="'Liberation Serif', 'DejaVu Serif', serif" font-weight="bold" text-anchor="end">15</text>
<text class="b" x="377.8" y="106.4" font-size="16.0" fill="#000" font-family="'Liberation Serif', 'DejaVu Serif', serif" font-weight="bold" text-anchor="end">20</text>
<text class="b" x="377.8" y="44.3" font-size="16.0" fill="#000" font-family="'Liberation Serif', 'DejaVu Serif', serif" font-weight="bold" text-anchor="end">25</text>
<text class="b" x="380.4" y="365.4" font-size="16.0" fill="#000" font-family="'Liberation Serif', 'DejaVu Serif', serif" font-weight="bold" text-anchor="middle">0</text>
<text class="b" x="418.8" y="365.4" font-size="16.0" fill="#000" font-family="'Liberation Serif', 'DejaVu Serif', serif" font-weight="bold" text-anchor="middle">50</text>
<text class="b" x="457.3" y="365.4" font-size="16.0" fill="#000" font-family="'Liberation Serif', 'DejaVu Serif', serif" font-weight="bold" text-anchor="middle">100</text>
<text class="b" x="495.7" y="365.4" font-size="16.0" fill="#000" font-family="'Liberation Serif', 'DejaVu Serif', serif" font-weight="bold" text-anchor="middle">150</text>
<text class="b" x="534.1" y="365.4" font-size="16.0" fill="#000" font-family="'Liberation Serif', 'DejaVu Serif', serif" font-weight="bold" text-anchor="middle">200</text>
<text class="b" x="417.2" y="385.9" font-size="17.0" fill="#000" font-family="'Liberation Serif', 'DejaVu Serif', serif" font-weight="bold" textLength="87.5" lengthAdjust="spacingAndGlyphs">Depth (μm)</text>
<text class="b" transform="translate(355.5 257.9) rotate(-90)" font-size="17.5" fill="#000" textLength="161.6" lengthAdjust="spacingAndGlyphs" font-family="'Liberation Serif', 'DejaVu Serif', serif" font-weight="bold">β Phase fraction (%)</text>
<text class="b" x="350.3" y="19.7" font-size="18.3" fill="#000" font-family="'Liberation Serif', 'DejaVu Serif', serif" font-weight="bold" textLength="21.8" lengthAdjust="spacingAndGlyphs">(d)</text>
<path d="M401.0 149.7L436.6 264.6M441.1 272.9L473.4 311.5M480.7 317.4L510.6 332.8" stroke="#505050" stroke-width="1.5" fill="none"/>
<path d="M399.6 141.1l4 4l-4 4l-4 -4z" fill="#555555"/><path d="M438.0 265.2l4 4l-4 4l-4 -4z" fill="#555555"/><path d="M476.5 311.2l4 4l-4 4l-4 -4z" fill="#555555"/><path d="M514.9 331.0l4 4l-4 4l-4 -4z" fill="#555555"/>
<path d="M401.3 116.1L436.4 212.6M440.2 221.4L474.3 289.8M480.1 297.2L511.3 324.4" stroke="#ea4456" stroke-width="1.5" fill="none"/>
<circle cx="399.6" cy="111.6" r="3.6" fill="#0000ff"/><circle cx="438.0" cy="217.1" r="3.6" fill="#0000ff"/><circle cx="476.5" cy="294.1" r="3.6" fill="#0000ff"/><circle cx="514.9" cy="327.6" r="3.6" fill="#0000ff"/>
<path d="M400.9 57.9L436.7 182.7M440.5 191.5L474.0 247.7M479.0 256.0L512.4 311.0" stroke="#2874d8" stroke-width="1.5" fill="none"/>
<path d="M399.6 49.1l4.1 6.9h-8.2z" fill="#ff0000"/><path d="M438.0 183.1l4.1 6.9h-8.2z" fill="#ff0000"/><path d="M476.5 247.7l4.1 6.9h-8.2z" fill="#ff0000"/><path d="M514.9 311.0l4.1 6.9h-8.2z" fill="#ff0000"/>
<rect x="436.1" y="21.8" width="99.8" height="53.3" fill="#8c8c8c"/>
<rect x="434.8" y="20.5" width="99.8" height="53.3" fill="#fff" stroke="#909090" stroke-width="0.8"/>
<path d="M436.4 30.0H467.3" stroke="#505050" stroke-width="1.4"/><path d="M452.0 26.0l4 4l-4 4l-4 -4z" fill="#555555"/><text class="b" x="471.2" y="34.4" font-size="14.0" fill="#000" font-family="'Liberation Serif', 'DejaVu Serif', serif" font-weight="bold" textLength="60.9" lengthAdjust="spacingAndGlyphs">USP-2min</text>
<path d="M436.4 47.5H467.3" stroke="#ea4456" stroke-width="1.4"/><circle cx="452.0" cy="47.5" r="3.6" fill="#0000ff"/><text class="b" x="471.2" y="51.9" font-size="14.0" fill="#000" font-family="'Liberation Serif', 'DejaVu Serif', serif" font-weight="bold" textLength="60.9" lengthAdjust="spacingAndGlyphs">USP-4min</text>
<path d="M436.4 65.0H467.3" stroke="#2874d8" stroke-width="1.4"/><path d="M452.0 60.8l4.1 6.9h-8.2z" fill="#ff0000"/><text class="b" x="471.2" y="69.4" font-size="14.0" fill="#000" font-family="'Liberation Serif', 'DejaVu Serif', serif" font-weight="bold" textLength="60.9" lengthAdjust="spacingAndGlyphs">USP-8min</text>
</svg>
</body></html>
